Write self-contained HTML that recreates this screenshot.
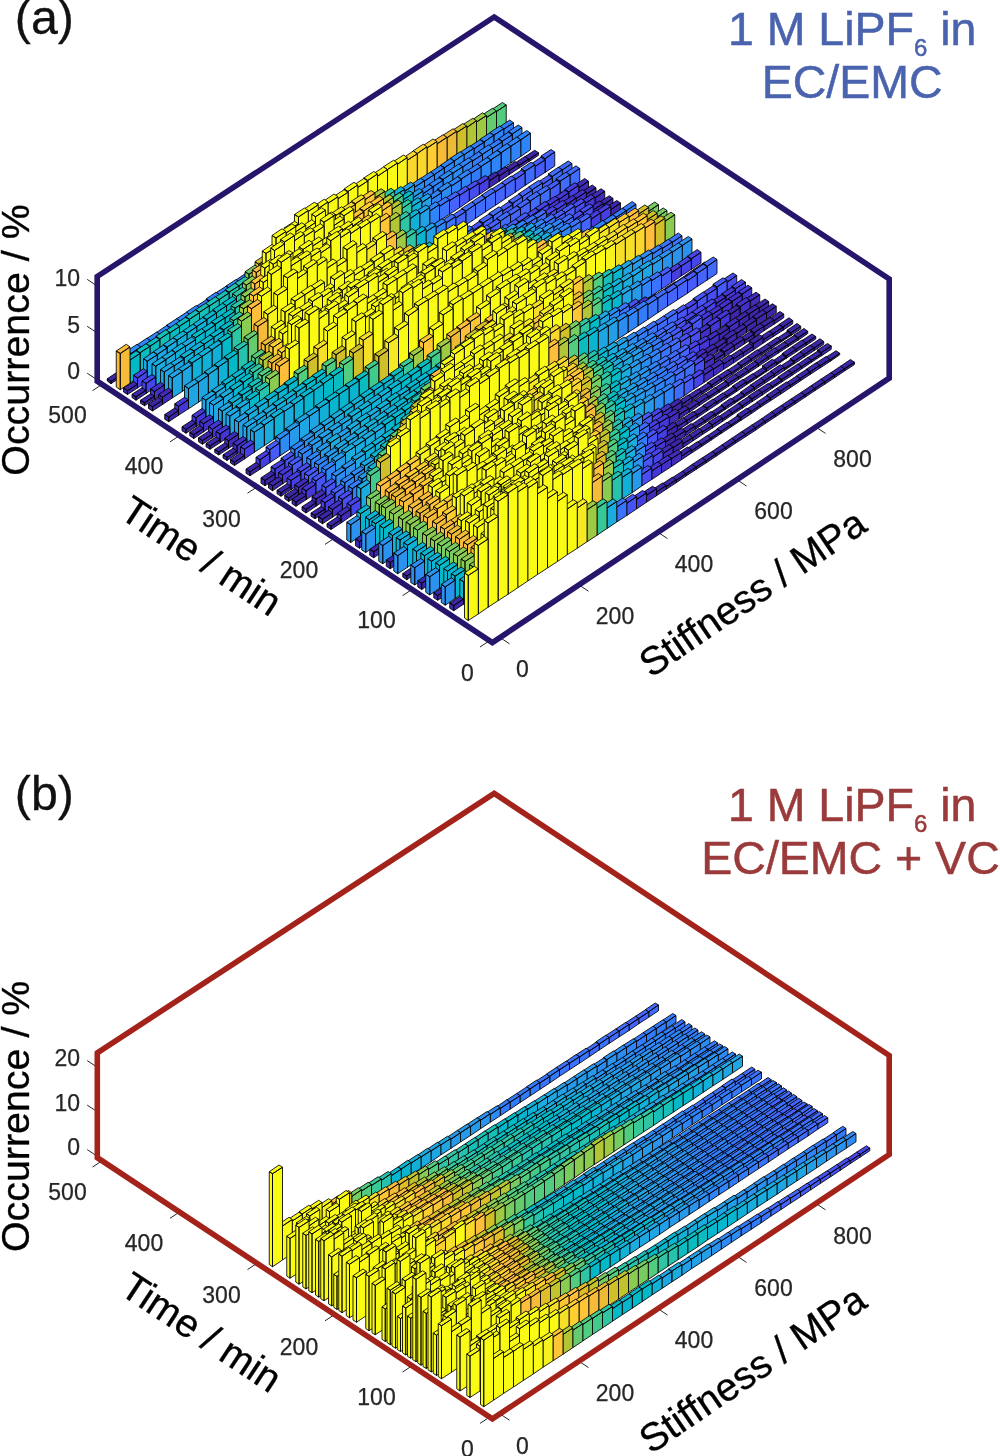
<!DOCTYPE html><html lang="en"><head><meta charset="utf-8"><title>Stiffness histograms</title><style>
html,body{margin:0;padding:0;background:#fff}
body{width:1000px;height:1456px;overflow:hidden;position:relative;font-family:"Liberation Sans",Arial,sans-serif}
svg{position:absolute;left:0;top:0}
text{font-family:"Liberation Sans",Arial,sans-serif}
.tk{font-size:23px;fill:#262626;stroke:#262626;stroke-width:.25px}
.ax{font-size:39.4px;fill:#000;stroke:#000;stroke-width:.35px}
.pl{font-size:48.3px;fill:#111;stroke:#111;stroke-width:.3px}
.ta{font-size:46.5px;fill:#4a63ae;stroke:#4a63ae;stroke-width:.5px}
.tb{font-size:46.5px;fill:#9a3a3a;stroke:#9a3a3a;stroke-width:.5px}
</style></head><body>
<svg width="1000" height="1456" viewBox="0 0 1000 1456">
<g transform="scale(0.25)" stroke="#000" stroke-width="3.4" stroke-linejoin="round">
<path fill="#327cfc" d="M959 1130l-15-10l39-27l16 11z"/>
<path fill="#2f84f9" d="M920 1220l-16-11v-65l16 10zM920 1154l-16-10l40-26l15 10z"/>
<path fill="#2f84f9" d="M880 1182l-16-11l40-26l16 10z"/>
<path fill="#2f84f9" d="M840 1272l-15-10v-67l15 11zM840 1206l-15-11l39-26l16 10z"/>
<path fill="#327cfc" d="M801 1236l-16-11l40-26l15 10z"/>
<path fill="#2f84f9" d="M761 1259l-15-11l39-26l16 10z"/>
<path fill="#2f84f9" d="M722 1286l-16-11l40-26l15 10z"/>
<path fill="#2f84f9" d="M682 1377l-16-10v-66l16 10zM682 1311l-16-10l40-26l16 10z"/>
<path fill="#2f84f9" d="M642 1339l-15-10l39-27l16 11z"/>
<path fill="#2f84f9" d="M603 1365l-16-11l40-26l15 10z"/>
<path fill="#2f84f9" d="M563 1390l-15-11l39-26l16 10z"/>
<path fill="#2d8bf4" d="M524 1482l-16-10v-68l16 10zM524 1482v-68l39-26v68zM524 1414l-16-10l40-27l15 11z"/>
<path fill="#3e26a8" d="M444 1535l-15-11v-9l15 11zM444 1535v-9l40-26v8zM444 1526l-15-11l39-26l16 11z"/>
<path fill="#52cc7e" d="M1986 561v-115l39-26v115zM1986 446l-16-10l40-26l15 10z"/>
<path fill="#64cc6f" d="M1946 587v-117l40-26v117zM1946 470l-16-11l40-26l16 11z"/>
<path fill="#9dc943" d="M1906 614v-126l40-26v125zM1906 488l-15-10l39-27l16 11z"/>
<path fill="#b0c636" d="M1867 640v-130l39-27v131zM1867 510l-16-11l40-26l15 10z"/>
<path fill="#d1bf29" d="M1827 666v-136l40-26v136zM1827 530l-15-10l39-26l16 10z"/>
<path fill="#ecba34" d="M1788 692v-141l39-26v141zM1788 551l-16-10l40-26l15 10z"/>
<path fill="#f7bb3a" d="M1748 719v-143l40-27v143zM1748 576l-16-11l40-26l16 10z"/>
<path fill="#fcce31" d="M1708 745v-153l40-26v153zM1708 592l-15-10l39-26l16 10z"/>
<path fill="#f9d72d" d="M1669 771v-157l39-27v158zM1669 614l-16-11l40-26l15 10z"/>
<path fill="#f9d72d" d="M1629 797v-156l40-26v156zM1629 641l-15-10l39-27l16 11z"/>
<path fill="#f6f21e" d="M1590 824v-167l39-27v167zM1590 657l-16-11l40-26l15 10z"/>
<path fill="#f9fb15" d="M1550 850v-172l40-26v172zM1550 678l-16-11l40-26l16 11z"/>
<path fill="#f9fb15" d="M1510 876v-171l40-27v172zM1510 705l-15-11l39-26l16 10z"/>
<path fill="#f9fb15" d="M1471 902l-16-10v-180l16 10zM1471 902v-180l39-26v180zM1471 722l-16-10l40-26l15 10z"/>
<path fill="#f9fb15" d="M1431 929v-179l40-26v178zM1431 750l-15-10l39-26l16 10z"/>
<path fill="#f9fb15" d="M1392 955l-16-10v-189l16 10zM1392 955v-189l39-26v189zM1392 766l-16-10l40-27l15 11z"/>
<path fill="#f9fb15" d="M1352 981v-186l40-26v186zM1352 795l-16-10l40-26l16 10z"/>
<path fill="#f9fb15" d="M1312 1007v-194l40-26v194zM1312 813l-15-10l39-27l16 11z"/>
<path fill="#f9fb15" d="M1273 1034v-200l39-26v199zM1273 834l-16-11l40-26l15 11z"/>
<path fill="#f9fb15" d="M1233 1060v-214l40-27v215zM1233 846l-15-11l39-26l16 10z"/>
<path fill="#f9fb15" d="M1194 1086l-16-10v-218l16 10zM1194 1086v-218l39-26v218zM1194 868l-16-10l40-26l15 10z"/>
<path fill="#f9fb15" d="M1154 1113l-16-11v-191l16 11zM1154 1113v-191l40-27v191zM1154 922l-16-11l40-26l16 10z"/>
<path fill="#d1bf29" d="M1035 1191l-15-10v-134l15 10zM1035 1191v-134l40-26v134zM1035 1057l-15-10l39-27l16 11z"/>
<path fill="#76cc60" d="M996 1218l-16-11v-120l16 10zM996 1218v-121l39-26v120zM996 1097l-16-10l40-27l15 11z"/>
<path fill="#26c2ad" d="M956 1244v-101l40-27v102zM956 1143l-16-11l40-26l16 10z"/>
<path fill="#26c2ad" d="M916 1270l-15-10v-101l15 10zM916 1270v-101l40-26v101zM916 1169l-15-10l39-26l16 10z"/>
<path fill="#17bfb6" d="M877 1296v-98l39-26v98zM877 1198l-16-10l40-26l15 10z"/>
<path fill="#17bfb6" d="M837 1323v-99l40-26v98zM837 1224l-15-10l39-27l16 11z"/>
<path fill="#17bfb6" d="M798 1349l-16-11v-99l16 10zM798 1349v-100l39-26v100zM798 1249l-16-10l40-26l15 10z"/>
<path fill="#17bfb6" d="M758 1375l-16-10v-98l16 10zM758 1375v-98l40-26v98zM758 1277l-16-10l40-27l16 11z"/>
<path fill="#0abcbf" d="M718 1401v-96l40-26v96zM718 1305l-15-10l39-26l16 10z"/>
<path fill="#0abcbf" d="M679 1428v-96l39-26v95zM679 1332l-16-10l40-27l15 11z"/>
<path fill="#17bfb6" d="M639 1454l-15-11v-98l15 11zM639 1454v-98l40-27v99zM639 1356l-15-11l39-26l16 10z"/>
<path fill="#0abcbf" d="M600 1480v-95l39-26v95zM600 1385l-16-10l40-26l15 10z"/>
<path fill="#0abcbf" d="M560 1506l-16-10v-95l16 10zM560 1506v-95l40-26v95zM560 1411l-16-10l40-26l16 10z"/>
<path fill="#01b9c7" d="M520 1533v-93l40-26v92zM520 1440l-15-10l39-27l16 11z"/>
<path fill="#f7bb3a" d="M481 1559l-16-11v-144l16 10zM481 1559v-145l39-26v145zM481 1414l-16-10l40-27l15 11z"/>
<path fill="#327cfc" d="M2015 581v-64l39-26v63zM2015 517l-16-10l40-27l15 11z"/>
<path fill="#2f84f9" d="M1975 607l-15-11v-66l15 11zM1975 607v-66l40-26v66zM1975 541l-15-11l39-26l16 11z"/>
<path fill="#2f84f9" d="M1936 633l-16-10v-66l16 11zM1936 633v-65l39-27v66zM1936 568l-16-11l40-26l15 10z"/>
<path fill="#327cfc" d="M1896 659v-64l40-26v64zM1896 595l-16-10l40-26l16 10z"/>
<path fill="#2f84f9" d="M1856 686v-67l40-26v66zM1856 619l-15-10l39-26l16 10z"/>
<path fill="#2d8bf4" d="M1817 712l-16-11v-68l16 11zM1817 712v-68l39-27v69zM1817 644l-16-11l40-26l15 10z"/>
<path fill="#2f84f9" d="M1777 738l-15-10v-67l15 10zM1777 738v-67l40-26v67zM1777 671l-15-10l39-27l16 11z"/>
<path fill="#2f84f9" d="M1738 764v-66l39-26v66zM1738 698l-16-10l40-26l15 10z"/>
<path fill="#2f84f9" d="M1698 791v-67l40-26v66zM1698 724l-16-10l40-26l16 10z"/>
<path fill="#2d8bf4" d="M1658 817v-68l40-26v68zM1658 749l-15-10l39-26l16 10z"/>
<path fill="#239fe6" d="M1619 843v-78l39-26v78zM1619 765l-16-10l40-27l15 11z"/>
<path fill="#11b0d7" d="M1579 869v-86l40-26v86zM1579 783l-15-11l39-26l16 11z"/>
<path fill="#2fc5a2" d="M1540 896v-106l39-26v105zM1540 790l-16-11l40-26l15 11z"/>
<path fill="#b0c636" d="M1500 922v-131l40-26v131zM1500 791l-16-10l40-26l16 10z"/>
<path fill="#fec636" d="M1460 948v-149l40-27v150zM1460 799l-15-11l39-26l16 10z"/>
<path fill="#f6df29" d="M1421 974l-16-10v-159l16 10zM1421 974v-159l39-26v159zM1421 815l-16-10l40-26l15 10z"/>
<path fill="#f9d72d" d="M1381 1001v-156l40-27v156zM1381 845l-15-11l39-26l16 10z"/>
<path fill="#f5e924" d="M1342 1027v-164l39-26v164zM1342 863l-16-10l40-26l15 10z"/>
<path fill="#f9fb15" d="M1302 1053v-169l40-26v169zM1302 884l-16-10l40-26l16 10z"/>
<path fill="#f9fb15" d="M1262 1079l-15-10v-212l15 10zM1262 1079v-212l40-26v212zM1262 867l-15-10l39-26l16 10z"/>
<path fill="#f9fb15" d="M1223 1106v-190l39-26v189zM1223 916l-16-11l40-26l15 11z"/>
<path fill="#f9fb15" d="M1183 1132v-205l40-26v205zM1183 927l-15-10l39-26l16 10z"/>
<path fill="#f9fb15" d="M1144 1158v-226l39-26v226zM1144 932l-16-11l40-26l15 11z"/>
<path fill="#f9fb15" d="M1104 1184l-16-10v-232l16 10zM1104 1184v-232l40-26v232zM1104 952l-16-10l40-27l16 11z"/>
<path fill="#f9fb15" d="M1064 1211l-15-11v-196l15 10zM1064 1211v-197l40-26v196zM1064 1014l-15-10l39-26l16 10z"/>
<path fill="#febe3c" d="M1025 1237l-16-10v-147l16 10zM1025 1237v-147l39-26v147zM1025 1090l-16-10l40-26l15 10z"/>
<path fill="#8acb51" d="M985 1263l-15-10v-123l15 11zM985 1263v-122l40-27v123zM985 1141l-15-11l39-26l16 10z"/>
<path fill="#2fc5a2" d="M946 1289l-16-10v-104l16 11zM946 1289v-103l39-27v104zM946 1186l-16-11l40-26l15 10z"/>
<path fill="#01b9c7" d="M906 1316v-93l40-27v93zM906 1223l-16-11l40-26l16 10z"/>
<path fill="#01b9c7" d="M866 1342l-15-10v-93l15 11zM866 1342v-92l40-27v93zM866 1250l-15-11l39-26l16 10z"/>
<path fill="#08b5cf" d="M827 1368l-16-10v-90l16 10zM827 1368v-90l39-26v90zM827 1278l-16-10l40-26l15 10z"/>
<path fill="#11b0d7" d="M787 1394v-88l40-26v88zM787 1306l-15-10l39-26l16 10z"/>
<path fill="#11b0d7" d="M748 1421v-88l39-26v87zM748 1333l-16-10l40-26l15 10z"/>
<path fill="#11b0d7" d="M708 1447l-16-10v-87l16 11zM708 1447v-86l40-27v87zM708 1361l-16-11l40-26l16 10z"/>
<path fill="#1babdd" d="M668 1473l-15-10v-85l15 11zM668 1473v-84l40-27v85zM668 1389l-15-11l39-26l16 10z"/>
<path fill="#1fa5e2" d="M629 1499l-16-10v-82l16 11zM629 1499v-81l39-26v81zM629 1418l-16-11l40-26l15 11z"/>
<path fill="#1fa5e2" d="M589 1526l-15-11v-80l15 10zM589 1526v-81l40-26v80zM589 1445l-15-10l39-27l16 11z"/>
<path fill="#4745e9" d="M550 1552l-16-10v-41l16 11zM550 1552v-40l39-27v41zM550 1512l-16-11l40-26l15 10z"/>
<path fill="#3e26a8" d="M510 1578l-16-10v-16l16 11zM510 1578v-15l40-26v15zM510 1563l-16-11l40-26l16 11z"/>
<path fill="#2f84f9" d="M2049 603l-16-10v-67l16 10zM2049 603v-67l39-26v67zM2049 536l-16-10l40-26l15 10z"/>
<path fill="#327cfc" d="M2009 629l-15-10v-64l15 10zM2009 629v-64l40-26v64zM2009 565l-15-10l39-26l16 10z"/>
<path fill="#327cfc" d="M1970 656v-63l39-26v62zM1970 593l-16-10l40-26l15 10z"/>
<path fill="#2f84f9" d="M1930 682l-16-11v-65l16 11zM1930 682v-65l40-26v65zM1930 617l-16-11l40-26l16 11z"/>
<path fill="#327cfc" d="M1890 708v-64l40-26v64zM1890 644l-15-10l39-27l16 11z"/>
<path fill="#2f84f9" d="M1851 734v-66l39-27v67zM1851 668l-16-11l40-26l15 10z"/>
<path fill="#2d8bf4" d="M1811 761v-68l40-26v67zM1811 693l-15-11l39-26l16 11z"/>
<path fill="#2d8bf4" d="M1772 787l-16-11v-68l16 10zM1772 787v-69l39-26v69zM1772 718l-16-10l40-26l15 10z"/>
<path fill="#2f84f9" d="M1732 813l-16-10v-66l16 10zM1732 813v-66l40-26v66zM1732 747l-16-10l40-26l16 10z"/>
<path fill="#2f84f9" d="M1692 839v-64l40-27v65zM1692 775l-15-11l39-26l16 10z"/>
<path fill="#2799e9" d="M1653 866v-76l39-26v75zM1653 790l-16-10l40-26l15 10z"/>
<path fill="#01b9c7" d="M1613 892v-93l40-26v93zM1613 799l-15-10l39-26l16 10z"/>
<path fill="#42ca8b" d="M1574 918v-110l39-27v111zM1574 808l-16-11l40-26l15 10z"/>
<path fill="#b0c636" d="M1534 944v-128l40-27v129zM1534 816l-16-11l40-26l16 10z"/>
<path fill="#fec636" d="M1494 971v-150l40-26v149zM1494 821l-15-10l39-26l16 10z"/>
<path fill="#fcce31" d="M1455 997l-16-10v-153l16 10zM1455 997v-153l39-26v153zM1455 844l-16-10l40-27l15 11z"/>
<path fill="#fec636" d="M1415 1023v-149l40-26v149zM1415 874l-15-11l39-26l16 11z"/>
<path fill="#f9fb15" d="M1376 1049l-16-10v-186l16 10zM1376 1049v-186l39-26v186zM1376 863l-16-10l40-27l15 11z"/>
<path fill="#f9fb15" d="M1336 1076v-174l40-26v173zM1336 902l-16-10l40-27l16 11z"/>
<path fill="#f9fb15" d="M1296 1102l-15-10v-213l15 10zM1296 1102v-213l40-26v213zM1296 889l-15-10l39-27l16 11z"/>
<path fill="#f9fb15" d="M1257 1128v-196l39-27v197zM1257 932l-16-11l40-26l15 10z"/>
<path fill="#f9fb15" d="M1217 1154v-207l40-26v207zM1217 947l-15-10l39-26l16 10z"/>
<path fill="#f9fb15" d="M1178 1181v-218l39-27v218zM1178 963l-16-11l40-26l15 10z"/>
<path fill="#f9fb15" d="M1138 1207l-16-10v-239l16 10zM1138 1207v-239l40-26v239zM1138 968l-16-10l40-26l16 10z"/>
<path fill="#f9fb15" d="M1098 1233l-15-10v-231l15 10zM1098 1233v-231l40-26v231zM1098 1002l-15-10l39-26l16 10z"/>
<path fill="#f9fb15" d="M1059 1259l-16-10v-187l16 11zM1059 1259v-186l39-26v186zM1059 1073l-16-11l40-26l15 11z"/>
<path fill="#fec636" d="M1019 1286l-15-11v-150l15 11zM1019 1286v-150l40-27v150zM1019 1136l-15-11l39-26l16 10z"/>
<path fill="#8acb51" d="M980 1312l-16-10v-124l16 10zM980 1312v-124l39-26v124zM980 1188l-16-10l40-27l15 11z"/>
<path fill="#2fc5a2" d="M940 1338l-16-10v-105l16 10zM940 1338v-105l40-26v105zM940 1233l-16-10l40-26l16 10z"/>
<path fill="#01b9c7" d="M900 1364v-92l40-27v93zM900 1272l-15-11l39-26l16 10z"/>
<path fill="#01b9c7" d="M861 1391l-16-11v-93l16 10zM861 1391v-94l39-26v93zM861 1297l-16-10l40-26l15 10z"/>
<path fill="#08b5cf" d="M821 1417v-90l40-27v91zM821 1327l-15-11l39-26l16 10z"/>
<path fill="#01b9c7" d="M782 1443l-16-10v-92l16 10zM782 1443v-92l39-26v92zM782 1351l-16-10l40-26l15 10z"/>
<path fill="#1babdd" d="M742 1469v-84l40-26v84zM742 1385l-16-10l40-27l16 11z"/>
<path fill="#11b0d7" d="M702 1496l-15-11v-85l15 10zM702 1496v-86l40-26v85zM702 1410l-15-10l39-27l16 11z"/>
<path fill="#1babdd" d="M663 1522v-84l39-26v84zM663 1438l-16-10l40-26l15 10z"/>
<path fill="#1babdd" d="M623 1548l-15-10v-83l15 10zM623 1548v-83l40-26v83zM623 1465l-15-10l39-26l16 10z"/>
<path fill="#4745e9" d="M584 1574l-16-10v-40l16 10zM584 1574v-40l39-26v40zM584 1534l-16-10l40-26l15 10z"/>
<path fill="#3e26a8" d="M544 1601l-16-11v-13l16 10zM544 1601v-14l40-26v13zM544 1587l-16-10l40-26l16 10z"/>
<path fill="#2f84f9" d="M2083 626v-67l39-26v66zM2083 559l-16-10l40-27l15 11z"/>
<path fill="#2f84f9" d="M2043 652v-67l40-26v67zM2043 585l-15-10l39-27l16 11z"/>
<path fill="#2f84f9" d="M2004 678l-16-10v-67l16 10zM2004 678v-67l39-26v67zM2004 611l-16-10l40-27l15 11z"/>
<path fill="#2f84f9" d="M1964 704v-65l40-26v65zM1964 639l-16-10l40-27l16 11z"/>
<path fill="#2f84f9" d="M1924 731v-65l40-26v64zM1924 666l-15-10l39-26l16 10z"/>
<path fill="#327cfc" d="M1885 757v-64l39-26v64zM1885 693l-16-10l40-27l15 11z"/>
<path fill="#2f84f9" d="M1845 783l-15-10v-67l15 10zM1845 783v-67l40-26v67zM1845 716l-15-10l39-27l16 11z"/>
<path fill="#2f84f9" d="M1806 809v-65l39-26v65zM1806 744l-16-10l40-27l15 11z"/>
<path fill="#2d8bf4" d="M1766 836l-16-11v-69l16 10zM1766 836v-70l40-26v69zM1766 766l-16-10l40-26l16 10z"/>
<path fill="#2f84f9" d="M1726 862v-65l40-26v65zM1726 797l-15-10l39-27l16 11z"/>
<path fill="#239fe6" d="M1687 888v-77l39-27v78zM1687 811l-16-11l40-26l15 10z"/>
<path fill="#11b0d7" d="M1647 914v-87l40-26v87zM1647 827l-15-10l39-26l16 10z"/>
<path fill="#2fc5a2" d="M1608 941v-107l39-26v106zM1608 834l-16-10l40-26l15 10z"/>
<path fill="#b0c636" d="M1568 967v-130l40-26v130zM1568 837l-16-10l40-26l16 10z"/>
<path fill="#fec636" d="M1528 993v-149l40-27v150zM1528 844l-15-11l39-26l16 10z"/>
<path fill="#f9fb15" d="M1489 1019l-16-10v-168l16 10zM1489 1019v-168l39-26v168zM1489 851l-16-10l40-26l15 10z"/>
<path fill="#fec636" d="M1449 896l-15-10l39-26l16 10z"/>
<path fill="#f6f21e" d="M1410 1072v-167l39-26v167zM1410 905l-16-10l40-27l15 11z"/>
<path fill="#f9fb15" d="M1370 1098v-177l40-26v177zM1370 921l-16-10l40-26l16 10z"/>
<path fill="#f9fb15" d="M1330 1124l-15-10v-183l15 11zM1330 1124v-182l40-27v183zM1330 942l-15-11l39-26l16 10z"/>
<path fill="#f9fb15" d="M1291 1151v-171l39-27v171zM1291 980l-16-11l40-26l15 10z"/>
<path fill="#f9fb15" d="M1251 1177v-193l40-26v193zM1251 984l-15-10l39-26l16 10z"/>
<path fill="#f9fb15" d="M1212 1203l-16-10v-205l16 10zM1212 1203v-205l39-26v205zM1212 998l-16-10l40-27l15 11z"/>
<path fill="#f9fb15" d="M1172 1229v-197l40-27v198zM1172 1032l-16-11l40-26l16 10z"/>
<path fill="#f9fb15" d="M1132 1256v-217l40-27v217zM1132 1039l-15-11l39-26l16 10z"/>
<path fill="#f9fb15" d="M1093 1282l-16-10v-225l16 10zM1093 1282v-225l39-26v225zM1093 1057l-16-10l40-27l15 11z"/>
<path fill="#f9fb15" d="M1053 1308l-15-10v-178l15 10zM1053 1308v-178l40-26v178zM1053 1130l-15-10l39-26l16 10z"/>
<path fill="#fec636" d="M1014 1334l-16-10v-150l16 10zM1014 1334v-150l39-26v150zM1014 1184l-16-10l40-27l15 11z"/>
<path fill="#9dc943" d="M974 1361l-16-11v-125l16 10zM974 1361v-126l40-26v125zM974 1235l-16-10l40-26l16 10z"/>
<path fill="#2fc5a2" d="M934 1387l-15-10v-104l15 10zM934 1387v-104l40-26v104zM934 1283l-15-10l39-26l16 10z"/>
<path fill="#01b9c7" d="M895 1413l-16-10v-94l16 10zM895 1413v-94l39-26v94zM895 1319l-16-10l40-26l15 10z"/>
<path fill="#08b5cf" d="M855 1439l-15-10v-90l15 10zM855 1439v-90l40-26v90zM855 1349l-15-10l39-26l16 10z"/>
<path fill="#08b5cf" d="M816 1466l-16-11v-88l16 10zM816 1466v-89l39-26v88zM816 1377l-16-10l40-27l15 11z"/>
<path fill="#11b0d7" d="M776 1492l-16-10v-88l16 10zM776 1492v-88l40-26v88zM776 1404l-16-10l40-27l16 11z"/>
<path fill="#11b0d7" d="M736 1518l-15-10v-86l15 10zM736 1518v-86l40-26v86zM736 1432l-15-10l39-26l16 10z"/>
<path fill="#1fa5e2" d="M697 1545v-82l39-26v81zM697 1463l-16-10l40-26l15 10z"/>
<path fill="#1fa5e2" d="M657 1571l-15-11v-82l15 10zM657 1571v-83l40-26v83zM657 1488l-15-10l39-26l16 10z"/>
<path fill="#4331c7" d="M618 1597l-16-10v-31l16 10zM618 1597v-31l39-26v31zM618 1566l-16-10l40-27l15 11z"/>
<path fill="#3e26a8" d="M578 1623l-16-10v-12l16 10zM578 1623v-12l40-26v12zM578 1611l-16-10l40-26l16 10z"/>
<path fill="#3e26a8" d="M2115 647v-9l39-27v10zM2115 638l-16-11l40-26l15 10z"/>
<path fill="#3e26a8" d="M2075 673v-11l40-26v11zM2075 662l-15-10l39-26l16 10z"/>
<path fill="#3e26a8" d="M2036 699v-16l39-26v16zM2036 683l-16-10l40-27l15 11z"/>
<path fill="#3e26a8" d="M1996 726v-21l40-27v21zM1996 705l-16-11l40-26l16 10z"/>
<path fill="#3e26a8" d="M1956 752v-28l40-26v28zM1956 724l-15-10l39-26l16 10z"/>
<path fill="#463ee0" d="M1917 778v-39l39-27v40zM1917 739l-16-11l40-26l15 10z"/>
<path fill="#484df0" d="M1877 804v-45l40-26v45zM1877 759l-15-10l39-26l16 10z"/>
<path fill="#4754f5" d="M1838 831v-49l39-26v48zM1838 782l-16-10l40-27l15 11z"/>
<path fill="#4464fd" d="M1798 857v-54l40-26v54zM1798 803l-16-10l40-26l16 10z"/>
<path fill="#3a74fe" d="M1758 883v-58l40-26v58zM1758 825l-15-10l39-27l16 11z"/>
<path fill="#2f84f9" d="M1719 909v-65l39-26v65zM1719 844l-16-10l40-27l15 11z"/>
<path fill="#239fe6" d="M1679 936v-79l40-27v79zM1679 857l-15-11l39-26l16 10z"/>
<path fill="#11b0d7" d="M1640 962v-87l39-27v88zM1640 875l-16-11l40-26l15 10z"/>
<path fill="#2fc5a2" d="M1600 988v-105l40-26v105zM1600 883l-16-10l40-27l16 11z"/>
<path fill="#b0c636" d="M1560 1014v-128l40-26v128zM1560 886l-15-10l39-27l16 11z"/>
<path fill="#fec636" d="M1521 1041v-151l39-26v150zM1521 890l-16-10l40-27l15 11z"/>
<path fill="#f9fb15" d="M1481 1067v-176l40-26v176zM1481 891l-15-10l39-27l16 11z"/>
<path fill="#f9fb15" d="M1442 1093v-179l39-26v179zM1442 914l-16-10l40-26l15 10z"/>
<path fill="#f9fb15" d="M1402 1119v-184l40-27v185zM1402 935l-16-11l40-26l16 10z"/>
<path fill="#f9fb15" d="M1362 1146v-195l40-26v194zM1362 951l-15-10l39-26l16 10z"/>
<path fill="#f9fb15" d="M1323 1172l-16-10v-210l16 11zM1323 1172v-209l39-27v210zM1323 963l-16-11l40-26l15 10z"/>
<path fill="#f9fb15" d="M1283 1198v-186l40-27v187zM1283 1012l-15-11l39-26l16 10z"/>
<path fill="#f9fb15" d="M1244 1224v-196l39-26v196zM1244 1028l-16-10l40-26l15 10z"/>
<path fill="#f9fb15" d="M1204 1251v-212l40-26v211zM1204 1039l-16-10l40-26l16 10z"/>
<path fill="#f9fb15" d="M1164 1277v-213l40-26v213zM1164 1064l-15-11l39-26l16 11z"/>
<path fill="#f9fb15" d="M1125 1303l-16-10v-254l16 10zM1125 1303v-254l39-26v254zM1125 1049l-16-10l40-27l15 11z"/>
<path fill="#f9fb15" d="M1085 1329l-15-10v-231l15 10zM1085 1329v-231l40-26v231zM1085 1098l-15-10l39-26l16 10z"/>
<path fill="#f9fb15" d="M1046 1356l-16-11v-170l16 10zM1046 1356v-171l39-26v170zM1046 1185l-16-10l40-27l15 11z"/>
<path fill="#febe3c" d="M1006 1382l-16-10v-148l16 11zM1006 1382v-147l40-27v148zM1006 1235l-16-11l40-26l16 10z"/>
<path fill="#8acb51" d="M966 1408l-15-10v-124l15 11zM966 1408v-123l40-27v124zM966 1285l-15-11l39-26l16 10z"/>
<path fill="#2fc5a2" d="M927 1434l-16-10v-104l16 11zM927 1434v-103l39-27v104zM927 1331l-16-11l40-26l15 10z"/>
<path fill="#01b9c7" d="M887 1461l-15-11v-92l15 10zM887 1461v-93l40-26v92zM887 1368l-15-10l39-26l16 10z"/>
<path fill="#11b0d7" d="M848 1487v-88l39-27v89zM848 1399l-16-11l40-26l15 10z"/>
<path fill="#11b0d7" d="M808 1513v-87l40-27v88zM808 1426l-16-11l40-26l16 10z"/>
<path fill="#11b0d7" d="M768 1539l-15-10v-87l15 10zM768 1539v-87l40-26v87zM768 1452l-15-10l39-27l16 11z"/>
<path fill="#1fa5e2" d="M729 1566v-81l39-26v80zM729 1485l-16-10l40-26l15 10z"/>
<path fill="#1fa5e2" d="M689 1592l-15-10v-80l15 10zM689 1592v-80l40-26v80zM689 1512l-15-10l39-27l16 11z"/>
<path fill="#402cb8" d="M650 1618l-16-10v-30l16 11zM650 1618v-29l39-26v29zM650 1589l-16-11l40-26l15 11z"/>
<path fill="#3e26a8" d="M610 1644l-16-10v-17l16 10zM610 1644v-17l40-26v17zM610 1627l-16-10l40-27l16 11z"/>
<path fill="#4464fd" d="M2180 690l-16-11v-55l16 11zM2180 690v-55l39-27v56zM2180 635l-16-11l40-26l15 10z"/>
<path fill="#465cfa" d="M2140 716v-50l40-26v50zM2140 666l-16-10l40-27l16 11z"/>
<path fill="#406cfe" d="M2100 742l-15-10v-57l15 10zM2100 742v-57l40-26v57zM2100 685l-15-10l39-26l16 10z"/>
<path fill="#465cfa" d="M2061 769v-51l39-27v51zM2061 718l-16-11l40-26l15 10z"/>
<path fill="#4464fd" d="M2021 795v-55l40-26v55zM2021 740l-15-10l39-26l16 10z"/>
<path fill="#4464fd" d="M1982 821v-54l39-26v54zM1982 767l-16-10l40-26l15 10z"/>
<path fill="#406cfe" d="M1942 847l-16-10v-56l16 10zM1942 847v-56l40-26v56zM1942 791l-16-10l40-27l16 11z"/>
<path fill="#406cfe" d="M1902 874v-56l40-26v55zM1902 818l-15-10l39-26l16 10z"/>
<path fill="#406cfe" d="M1863 900l-16-11v-55l16 10zM1863 900v-56l39-26v56zM1863 844l-16-10l40-26l15 10z"/>
<path fill="#4464fd" d="M1823 926v-54l40-26v54zM1823 872l-15-10l39-26l16 10z"/>
<path fill="#3a74fe" d="M1784 952v-60l39-26v60zM1784 892l-16-10l40-26l15 10z"/>
<path fill="#2f84f9" d="M1744 979v-68l40-26v67zM1744 911l-16-10l40-26l16 10z"/>
<path fill="#239fe6" d="M1704 1005v-78l40-26v78zM1704 927l-15-10l39-26l16 10z"/>
<path fill="#08b5cf" d="M1665 1031v-89l39-26v89zM1665 942l-16-10l40-27l15 11z"/>
<path fill="#2fc5a2" d="M1625 1057v-105l40-26v105zM1625 952l-15-10l39-27l16 11z"/>
<path fill="#9dc943" d="M1586 1084v-128l39-26v127zM1586 956l-16-10l40-27l15 11z"/>
<path fill="#febe3c" d="M1546 1110v-149l40-26v149zM1546 961l-16-10l40-27l16 11z"/>
<path fill="#f9fb15" d="M1506 1136l-15-10v-174l15 10zM1506 1136v-174l40-26v174zM1506 962l-15-10l39-26l16 10z"/>
<path fill="#f5e924" d="M1467 1162v-163l39-26v163zM1467 999l-16-10l40-26l15 10z"/>
<path fill="#f9fb15" d="M1427 1189v-178l40-26v177zM1427 1011l-15-10l39-27l16 11z"/>
<path fill="#f9fb15" d="M1388 1215l-16-10v-216l16 10zM1388 1215v-216l39-26v216zM1388 999l-16-10l40-27l15 11z"/>
<path fill="#f9fb15" d="M1348 1241v-175l40-26v175zM1348 1066l-16-10l40-26l16 10z"/>
<path fill="#f9fb15" d="M1308 1267v-194l40-26v194zM1308 1073l-15-10l39-27l16 11z"/>
<path fill="#f9fb15" d="M1269 1294v-231l39-26v230zM1269 1063l-16-10l40-26l15 10z"/>
<path fill="#f9fb15" d="M1229 1320l-15-10v-246l15 11zM1229 1320v-245l40-27v246zM1229 1075l-15-11l39-26l16 10z"/>
<path fill="#f9fb15" d="M1190 1346v-232l39-26v232zM1190 1114l-16-10l40-26l15 10z"/>
<path fill="#f9fb15" d="M1150 1372l-16-10v-260l16 10zM1150 1372v-260l40-26v260zM1150 1112l-16-10l40-26l16 10z"/>
<path fill="#f9fb15" d="M1110 1399l-15-11v-217l15 10zM1110 1399v-218l40-26v217zM1110 1181l-15-10l39-27l16 11z"/>
<path fill="#f6f21e" d="M1071 1425l-16-10v-168l16 11zM1071 1425v-167l39-27v168zM1071 1258l-16-11l40-26l15 10z"/>
<path fill="#f7bb3a" d="M1031 1451l-15-10v-145l15 10zM1031 1451v-145l40-26v145zM1031 1306l-15-10l39-26l16 10z"/>
<path fill="#64cc6f" d="M992 1477l-16-10v-119l16 11zM992 1477v-118l39-27v119zM992 1359l-16-11l40-26l15 10z"/>
<path fill="#26c2ad" d="M952 1504l-16-11v-103l16 11zM952 1504v-103l40-27v103zM952 1401l-16-11l40-26l16 10z"/>
<path fill="#01b9c7" d="M912 1530l-15-10v-93l15 11zM912 1530v-92l40-27v93zM912 1438l-15-11l39-26l16 10z"/>
<path fill="#11b0d7" d="M873 1556l-16-10v-88l16 10zM873 1556v-88l39-26v88zM873 1468l-16-10l40-27l15 11z"/>
<path fill="#1babdd" d="M833 1582l-15-10v-85l15 11zM833 1582v-84l40-27v85zM833 1498l-15-11l39-26l16 10z"/>
<path fill="#1fa5e2" d="M794 1609v-81l39-27v81zM794 1528l-16-11l40-26l15 10z"/>
<path fill="#1fa5e2" d="M754 1635l-16-10v-82l16 11zM754 1635v-81l40-26v81zM754 1554l-16-11l40-26l16 11z"/>
<path fill="#4537d5" d="M714 1661l-15-10v-36l15 10zM714 1661v-36l40-26v36zM714 1625l-15-10l39-26l16 10z"/>
<path fill="#3e26a8" d="M675 1687l-16-10v-19l16 11zM675 1687v-18l39-27v19zM675 1669l-16-11l40-26l15 10z"/>
<path fill="#406cfe" d="M2249 736v-56l39-26v55zM2249 680l-16-10l40-26l15 10z"/>
<path fill="#406cfe" d="M2209 762l-15-10v-57l15 11zM2209 762v-56l40-27v57zM2209 706l-15-11l39-26l16 10z"/>
<path fill="#465cfa" d="M2170 788v-50l39-27v51zM2170 738l-16-11l40-26l15 10z"/>
<path fill="#406cfe" d="M2130 814v-56l40-26v56zM2130 758l-16-10l40-26l16 10z"/>
<path fill="#4464fd" d="M2090 841l-15-11v-55l15 11zM2090 841v-55l40-26v54zM2090 786l-15-11l39-26l16 11z"/>
<path fill="#4464fd" d="M2051 867l-16-10v-54l16 10zM2051 867v-54l39-26v54zM2051 813l-16-10l40-26l15 10z"/>
<path fill="#465cfa" d="M2011 893v-49l40-26v49zM2011 844l-15-10l39-27l16 11z"/>
<path fill="#406cfe" d="M1972 919l-16-10v-56l16 11zM1972 919v-55l39-26v55zM1972 864l-16-11l40-26l15 11z"/>
<path fill="#4464fd" d="M1932 946l-16-11v-53l16 10zM1932 946v-54l40-26v53zM1932 892l-16-10l40-26l16 10z"/>
<path fill="#4754f5" d="M1892 972v-49l40-26v49zM1892 923l-15-10l39-27l16 11z"/>
<path fill="#3a74fe" d="M1853 998v-59l39-26v59zM1853 939l-16-10l40-26l15 10z"/>
<path fill="#1babdd" d="M1734 992l-16-10l40-26l16 10z"/>
<path fill="#17bfb6" d="M1694 1005l-15-10l39-27l16 11z"/>
<path fill="#64cc6f" d="M1655 1013l-16-10l40-27l15 11z"/>
<path fill="#e0bc2a" d="M1615 1156v-140l40-26v139zM1615 1016l-15-10l39-27l16 11z"/>
<path fill="#f6df29" d="M1576 1182v-159l39-26v159zM1576 1023l-16-10l40-27l15 11z"/>
<path fill="#f9fb15" d="M1536 1208l-16-10v-190l16 10zM1536 1208v-190l40-26v190zM1536 1018l-16-10l40-27l16 11z"/>
<path fill="#f9fb15" d="M1496 1234l-15-10v-187l15 10zM1496 1234v-187l40-26v187zM1496 1047l-15-10l39-26l16 10z"/>
<path fill="#f9fb15" d="M1457 1261v-181l39-27v181zM1457 1080l-16-11l40-26l15 10z"/>
<path fill="#f9fb15" d="M1417 1287v-185l40-26v185zM1417 1102l-15-10l39-27l16 11z"/>
<path fill="#f9fb15" d="M1378 1313v-198l39-26v198zM1378 1115l-16-11l40-26l15 11z"/>
<path fill="#f9fb15" d="M1338 1340l-16-11v-221l16 11zM1338 1340v-221l40-27v221zM1338 1119l-16-11l40-26l16 10z"/>
<path fill="#f9fb15" d="M1298 1366v-195l40-26v195zM1298 1171l-15-10l39-27l16 11z"/>
<path fill="#f9fb15" d="M1259 1392v-237l39-26v237zM1259 1155l-16-10l40-26l15 10z"/>
<path fill="#f9fb15" d="M1219 1418v-239l40-26v239zM1219 1179l-15-11l39-26l16 11z"/>
<path fill="#f9fb15" d="M1180 1445l-16-11v-239l16 10zM1180 1445v-240l39-26v239zM1180 1205l-16-10l40-26l15 10z"/>
<path fill="#f9fb15" d="M1140 1471l-16-11v-222l16 11zM1140 1471v-222l40-27v223zM1140 1249l-16-11l40-26l16 10z"/>
<path fill="#f9fb15" d="M1100 1497l-15-10v-180l15 11zM1100 1497v-179l40-27v180zM1100 1318l-15-11l39-26l16 10z"/>
<path fill="#ecba34" d="M1061 1523l-16-10v-142l16 10zM1061 1523v-142l39-26v142zM1061 1381l-16-10l40-27l15 11z"/>
<path fill="#52cc7e" d="M1021 1550l-15-11v-115l15 10zM1021 1550v-116l40-26v115zM1021 1434l-15-10l39-27l16 11z"/>
<path fill="#0abcbf" d="M982 1576l-16-11v-97l16 10zM982 1576v-98l39-26v98zM982 1478l-16-10l40-26l15 10z"/>
<path fill="#08b5cf" d="M942 1602v-91l40-26v91zM942 1511l-16-10l40-27l16 11z"/>
<path fill="#08b5cf" d="M902 1628l-15-10v-90l15 10zM902 1628v-90l40-26v90zM902 1538l-15-10l39-26l16 10z"/>
<path fill="#1babdd" d="M863 1655l-16-11v-83l16 10zM863 1655v-84l39-26v83zM863 1571l-16-10l40-26l15 10z"/>
<path fill="#1fa5e2" d="M823 1681l-15-11v-80l15 11zM823 1681v-80l40-27v81zM823 1601l-15-11l39-26l16 10z"/>
<path fill="#4537d5" d="M784 1707l-16-10v-36l16 10zM784 1707v-36l39-26v36zM784 1671l-16-10l40-27l15 11z"/>
<path fill="#3e26a8" d="M744 1733l-16-10v-16l16 11zM744 1733v-15l40-27v16zM744 1718l-16-11l40-26l16 10z"/>
<path fill="#406cfe" d="M2280 756v-56l39-26v56zM2280 700l-16-10l40-27l15 11z"/>
<path fill="#406cfe" d="M2240 782l-16-10v-57l16 10zM2240 782v-57l40-26v57zM2240 725l-16-10l40-26l16 10z"/>
<path fill="#465cfa" d="M2200 809v-51l40-27v51zM2200 758l-15-11l39-26l16 10z"/>
<path fill="#406cfe" d="M2161 835v-55l39-27v56zM2161 780l-16-11l40-26l15 10z"/>
<path fill="#406cfe" d="M2121 861l-15-10v-58l15 11zM2121 861v-57l40-27v58zM2121 804l-15-11l39-26l16 10z"/>
<path fill="#4464fd" d="M2082 887l-16-10v-55l16 10zM2082 887v-55l39-26v55zM2082 832l-16-10l40-26l15 10z"/>
<path fill="#4464fd" d="M2042 914v-54l40-26v53zM2042 860l-16-10l40-26l16 10z"/>
<path fill="#406cfe" d="M2002 940l-15-10v-57l15 11zM2002 940v-56l40-27v57zM2002 884l-15-11l39-26l16 10z"/>
<path fill="#4464fd" d="M1963 966v-53l39-26v53zM1963 913l-16-10l40-27l15 11z"/>
<path fill="#406cfe" d="M1923 992v-56l40-26v56zM1923 936l-15-10l39-26l16 10z"/>
<path fill="#b0c636" d="M1686 1021l-16-11l40-26l15 10z"/>
<path fill="#f5e924" d="M1606 1040l-15-10l39-26l16 10z"/>
<path fill="#f9fb15" d="M1567 1229v-180l39-27v180zM1567 1049l-16-11l40-26l15 10z"/>
<path fill="#f9fb15" d="M1527 1255l-15-10v-183l15 11zM1527 1255v-182l40-27v183zM1527 1073l-15-11l39-26l16 10z"/>
<path fill="#f9fb15" d="M1488 1281l-16-10v-181l16 10zM1488 1281v-181l39-26v181zM1488 1100l-16-10l40-26l15 10z"/>
<path fill="#f9fb15" d="M1448 1133l-16-11l40-26l16 10z"/>
<path fill="#f9fb15" d="M1369 1360l-16-10v-199l16 10zM1369 1360v-199l39-26v199zM1369 1161l-16-10l40-27l15 11z"/>
<path fill="#f9fb15" d="M1329 1386v-194l40-26v194zM1329 1192l-15-10l39-27l16 11z"/>
<path fill="#f9fb15" d="M1290 1412v-223l39-27v224zM1290 1189l-16-11l40-26l15 10z"/>
<path fill="#f9fb15" d="M1250 1439l-16-11v-232l16 10zM1250 1439v-233l40-26v232zM1250 1206l-16-10l40-26l16 10z"/>
<path fill="#f9fb15" d="M1210 1465v-222l40-26v222zM1210 1243l-15-10l39-27l16 11z"/>
<path fill="#f9fb15" d="M1171 1491l-16-10v-226l16 10zM1171 1491v-226l39-26v226zM1171 1265l-16-10l40-26l15 10z"/>
<path fill="#f9fb15" d="M1131 1517l-15-10v-182l15 11zM1131 1517v-181l40-27v182zM1131 1336l-15-11l39-26l16 10z"/>
<path fill="#fcce31" d="M1092 1544l-16-11v-153l16 10zM1092 1544v-154l39-26v153zM1092 1390l-16-10l40-27l15 11z"/>
<path fill="#b0c636" d="M1052 1570l-16-10v-129l16 11zM1052 1570v-128l40-26v128zM1052 1442l-16-11l40-26l16 11z"/>
<path fill="#2fc5a2" d="M1012 1596l-15-10v-106l15 11zM1012 1596v-105l40-27v106zM1012 1491l-15-11l39-26l16 10z"/>
<path fill="#01b9c7" d="M973 1622l-16-10v-93l16 10zM973 1622v-93l39-26v93zM973 1529l-16-10l40-27l15 11z"/>
<path fill="#08b5cf" d="M933 1649l-15-11v-89l15 11zM933 1649v-89l40-27v89zM933 1560l-15-11l39-26l16 10z"/>
<path fill="#1babdd" d="M894 1675l-16-10v-85l16 10zM894 1675v-85l39-26v85zM894 1590l-16-10l40-27l15 11z"/>
<path fill="#1fa5e2" d="M854 1701l-16-10v-81l16 11zM854 1701v-80l40-26v80zM854 1621l-16-11l40-26l16 11z"/>
<path fill="#4331c7" d="M814 1728l-15-11v-32l15 10zM814 1728v-33l40-26v32zM814 1695l-15-10l39-26l16 10z"/>
<path fill="#3e26a8" d="M775 1754l-16-11v-14l16 10zM775 1754v-15l39-26v15zM775 1739l-16-10l40-27l15 11z"/>
<path fill="#402cb8" d="M2315 779v-28l39-26v28zM2315 751l-16-11l40-26l15 11z"/>
<path fill="#463ee0" d="M2275 806l-15-11v-38l15 11zM2275 806v-38l40-27v38zM2275 768l-15-11l39-26l16 10z"/>
<path fill="#4537d5" d="M2236 832v-34l39-27v35zM2236 798l-16-11l40-26l15 10z"/>
<path fill="#4537d5" d="M2196 858v-36l40-27v37zM2196 822l-16-11l40-26l16 10z"/>
<path fill="#4745e9" d="M2156 884l-15-10v-42l15 10zM2156 884v-42l40-26v42zM2156 842l-15-10l39-26l16 10z"/>
<path fill="#4745e9" d="M2117 911v-42l39-26v41zM2117 869l-16-10l40-26l15 10z"/>
<path fill="#465cfa" d="M2077 937v-50l40-27v51zM2077 887l-15-11l39-26l16 10z"/>
<path fill="#465cfa" d="M2038 963v-49l39-26v49zM2038 914l-16-11l40-26l15 11z"/>
<path fill="#406cfe" d="M1998 934l-16-10l40-27l16 11z"/>
<path fill="#3a74fe" d="M1958 955l-15-11l39-26l16 10z"/>
<path fill="#f9fb15" d="M1642 1226l-16-11v-196l16 10zM1642 1029l-16-10l40-27l15 11z"/>
<path fill="#f9fb15" d="M1523 1110l-16-11l40-26l15 10z"/>
<path fill="#f9fb15" d="M1483 1331l-15-11v-220l15 10zM1483 1331v-221l40-26v221zM1483 1110l-15-10l39-27l16 11z"/>
<path fill="#f9fb15" d="M1404 1383l-16-10v-231l16 10zM1404 1383v-231l40-26v231zM1404 1152l-16-10l40-26l16 10z"/>
<path fill="#f9fb15" d="M1364 1217l-15-11l39-26l16 10z"/>
<path fill="#f9fb15" d="M1325 1436l-16-11v-229l16 10zM1325 1436v-230l39-26v230zM1325 1206l-16-10l40-27l15 11z"/>
<path fill="#f9fb15" d="M1285 1254l-15-10l39-26l16 10z"/>
<path fill="#f9fb15" d="M1246 1488v-222l39-26v222zM1246 1266l-16-10l40-26l15 10z"/>
<path fill="#f9fb15" d="M1166 1541l-15-11v-241l15 10zM1166 1541v-242l40-26v242zM1166 1299l-15-10l39-27l16 11z"/>
<path fill="#f9d72d" d="M1127 1567l-16-10v-157l16 11zM1127 1567v-156l39-27v157zM1127 1411l-16-11l40-26l15 10z"/>
<path fill="#ecba34" d="M1087 1593l-15-10v-141l15 11zM1087 1593v-140l40-27v141zM1087 1453l-15-11l39-26l16 10z"/>
<path fill="#52cc7e" d="M1048 1620l-16-11v-115l16 10zM1048 1620v-116l39-26v115zM1048 1504l-16-10l40-26l15 10z"/>
<path fill="#17bfb6" d="M1008 1646l-16-11v-98l16 10zM1008 1646v-99l40-26v99zM1008 1547l-16-10l40-26l16 10z"/>
<path fill="#08b5cf" d="M968 1672l-15-10v-91l15 10zM968 1672v-91l40-26v91zM968 1581l-15-10l39-26l16 10z"/>
<path fill="#11b0d7" d="M929 1698l-16-10v-86l16 11zM929 1698v-85l39-27v86zM929 1613l-16-11l40-26l15 10z"/>
<path fill="#1fa5e2" d="M889 1725l-15-11v-79l15 10zM889 1725v-80l40-26v79zM889 1645l-15-10l39-26l16 10z"/>
<path fill="#4537d5" d="M850 1751l-16-10v-35l16 11zM850 1751v-34l39-26v34zM850 1717l-16-11l40-26l15 11z"/>
<path fill="#3e26a8" d="M810 1777l-16-10v-16l16 11zM810 1777v-15l40-26v15zM810 1762l-16-11l40-26l16 11z"/>
<path fill="#3e26a8" d="M2345 799v-22l39-26v22zM2345 777l-16-11l40-26l15 11z"/>
<path fill="#4331c7" d="M2305 826v-32l40-26v31zM2305 794l-15-10l39-26l16 10z"/>
<path fill="#4331c7" d="M2266 852v-34l39-26v34zM2266 818l-16-10l40-26l15 10z"/>
<path fill="#463ee0" d="M2226 878v-39l40-27v40zM2226 839l-16-11l40-26l16 10z"/>
<path fill="#4745e9" d="M2186 904v-42l40-27v43zM2186 862l-15-11l39-26l16 10z"/>
<path fill="#406cfe" d="M2147 931v-57l39-26v56zM2147 874l-16-10l40-27l15 11z"/>
<path fill="#3a74fe" d="M2107 957v-61l40-26v61zM2107 896l-15-10l39-26l16 10z"/>
<path fill="#2f84f9" d="M2068 983v-66l39-26v66zM2068 917l-16-10l40-26l15 10z"/>
<path fill="#239fe6" d="M2028 1009v-77l40-26v77zM2028 932l-16-10l40-26l16 10z"/>
<path fill="#08b5cf" d="M1988 1036v-89l40-27v89zM1988 947l-15-11l39-26l16 10z"/>
<path fill="#2fc5a2" d="M1949 956l-16-10l40-26l15 10z"/>
<path fill="#9dc943" d="M1909 1088v-128l40-26v128zM1909 960l-15-10l39-26l16 10z"/>
<path fill="#f9fb15" d="M1830 1141v-219l40-26v218zM1830 922l-16-10l40-27l16 11z"/>
<path fill="#f9fb15" d="M1790 1167v-232l40-26v232zM1790 935l-15-10l39-26l16 10z"/>
<path fill="#f9fb15" d="M1751 1193l-16-10v-238l16 10zM1751 1193v-238l39-26v238zM1751 955l-16-10l40-27l15 11z"/>
<path fill="#f9fb15" d="M1711 1219v-207l40-26v207zM1711 1012l-15-10l39-27l16 11z"/>
<path fill="#f9fb15" d="M1672 1246l-16-11v-236l16 11zM1672 1246v-236l39-27v236zM1672 1010l-16-11l40-26l15 10z"/>
<path fill="#f9fb15" d="M1632 1272v-223l40-26v223zM1632 1049l-16-10l40-27l16 11z"/>
<path fill="#f9fb15" d="M1592 1298l-15-10v-244l15 10zM1592 1298v-244l40-26v244zM1592 1054l-15-10l39-26l16 10z"/>
<path fill="#f9fb15" d="M1553 1324l-16-10v-224l16 11zM1553 1324v-223l39-27v224zM1553 1101l-16-11l40-26l15 10z"/>
<path fill="#f9fb15" d="M1513 1351v-221l40-26v220zM1513 1130l-15-10l39-26l16 10z"/>
<path fill="#f9fb15" d="M1474 1377v-249l39-26v249zM1474 1128l-16-10l40-26l15 10z"/>
<path fill="#f9fb15" d="M1434 1403l-16-10v-250l16 10zM1434 1403v-250l40-26v250zM1434 1153l-16-10l40-26l16 10z"/>
<path fill="#f9fb15" d="M1394 1429l-15-10v-242l15 11zM1394 1429v-241l40-27v242zM1394 1188l-15-11l39-26l16 10z"/>
<path fill="#f9fb15" d="M1355 1456v-219l39-26v218zM1355 1237l-16-10l40-27l15 11z"/>
<path fill="#f9fb15" d="M1315 1482l-15-10v-242l15 10zM1315 1482v-242l40-26v242zM1315 1240l-15-10l39-27l16 11z"/>
<path fill="#f9fb15" d="M1276 1508v-232l39-27v233zM1276 1276l-16-11l40-26l15 10z"/>
<path fill="#f9fb15" d="M1236 1534l-16-10v-275l16 11zM1236 1534v-274l40-27v275zM1236 1260l-16-11l40-26l16 10z"/>
<path fill="#f9fb15" d="M1196 1561l-15-11v-248l15 11zM1196 1561v-248l40-26v247zM1196 1313l-15-11l39-26l16 11z"/>
<path fill="#f9fb15" d="M1157 1587l-16-10v-191l16 10zM1157 1587v-191l39-26v191zM1157 1396l-16-10l40-26l15 10z"/>
<path fill="#febe3c" d="M1117 1613l-15-10v-148l15 11zM1117 1613v-147l40-27v148zM1117 1466l-15-11l39-26l16 10z"/>
<path fill="#8acb51" d="M1078 1639l-16-10v-122l16 10zM1078 1639v-122l39-26v122zM1078 1517l-16-10l40-27l15 11z"/>
<path fill="#26c2ad" d="M1038 1666l-16-11v-102l16 11zM1038 1666v-102l40-27v102zM1038 1564l-16-11l40-26l16 10z"/>
<path fill="#01b9c7" d="M998 1692l-15-10v-93l15 11zM998 1692v-92l40-27v93zM998 1600l-15-11l39-26l16 10z"/>
<path fill="#1babdd" d="M959 1718l-16-10v-85l16 10zM959 1718v-85l39-26v85zM959 1633l-16-10l40-26l15 10z"/>
<path fill="#1fa5e2" d="M919 1744l-15-10v-80l15 11zM919 1744v-79l40-27v80zM919 1665l-15-11l39-26l16 10z"/>
<path fill="#4537d5" d="M880 1771l-16-11v-34l16 10zM880 1771v-35l39-26v34zM880 1736l-16-10l40-26l15 10z"/>
<path fill="#3e26a8" d="M840 1797l-16-10v-13l16 10zM840 1797v-13l40-26v13zM840 1784l-16-10l40-26l16 10z"/>
<path fill="#402cb8" d="M2380 822v-30l39-27v31zM2380 792l-16-11l40-26l15 10z"/>
<path fill="#4537d5" d="M2340 849v-35l40-26v34zM2340 814l-16-10l40-26l16 10z"/>
<path fill="#484df0" d="M2300 875v-44l40-26v44zM2300 831l-15-10l39-27l16 11z"/>
<path fill="#465cfa" d="M2261 901v-50l39-27v51zM2261 851l-16-11l40-26l15 10z"/>
<path fill="#465cfa" d="M2221 927v-51l40-26v51zM2221 876l-15-10l39-26l16 10z"/>
<path fill="#3a74fe" d="M2182 954v-61l39-26v60zM2182 893l-16-10l40-27l15 11z"/>
<path fill="#2f84f9" d="M2142 980v-67l40-26v67zM2142 913l-16-10l40-27l16 11z"/>
<path fill="#239fe6" d="M2102 1006v-78l40-26v78zM2102 928l-15-10l39-27l16 11z"/>
<path fill="#08b5cf" d="M2063 1032v-89l39-27v90zM2063 943l-16-11l40-26l15 10z"/>
<path fill="#38c897" d="M2023 1059v-108l40-26v107zM2023 951l-15-10l39-27l16 11z"/>
<path fill="#b0c636" d="M1984 1085v-129l39-26v129zM1984 956l-16-10l40-26l15 10z"/>
<path fill="#fec636" d="M1944 1111v-151l40-26v151zM1944 960l-16-10l40-26l16 10z"/>
<path fill="#f9fb15" d="M1904 1137v-196l40-27v197zM1904 941l-15-11l39-26l16 10z"/>
<path fill="#f9fb15" d="M1865 1164v-201l39-26v200zM1865 963l-16-10l40-27l15 11z"/>
<path fill="#f9fb15" d="M1825 1190v-202l40-27v203zM1825 988l-15-11l39-26l16 10z"/>
<path fill="#f9fb15" d="M1786 1216l-16-10v-213l16 11zM1786 1216v-212l39-27v213zM1786 1004l-16-11l40-26l15 10z"/>
<path fill="#f9fb15" d="M1706 1269l-15-11v-203l15 10zM1706 1269v-204l40-26v203zM1706 1065l-15-10l39-26l16 10z"/>
<path fill="#f9fb15" d="M1667 1118l-16-10l40-26l15 10z"/>
<path fill="#f9fb15" d="M1627 1321v-229l40-27v230zM1627 1092l-15-11l39-26l16 10z"/>
<path fill="#f9fb15" d="M1588 1347v-231l39-26v231zM1588 1116l-16-10l40-27l15 11z"/>
<path fill="#f9fb15" d="M1548 1374l-16-11v-232l16 11zM1548 1374v-232l40-27v232zM1548 1142l-16-11l40-26l16 10z"/>
<path fill="#f9fb15" d="M1508 1400v-210l40-26v210zM1508 1190l-15-10l39-27l16 11z"/>
<path fill="#f9fb15" d="M1469 1426v-211l39-26v211zM1469 1215l-16-10l40-26l15 10z"/>
<path fill="#f9fb15" d="M1429 1452l-15-10v-240l15 11zM1429 1452v-239l40-27v240zM1429 1213l-15-11l39-26l16 10z"/>
<path fill="#f9fb15" d="M1390 1479l-16-11v-237l16 11zM1390 1479v-237l39-27v237zM1390 1242l-16-11l40-26l15 10z"/>
<path fill="#f9fb15" d="M1350 1505l-16-10v-233l16 11zM1350 1505v-232l40-26v232zM1350 1273l-16-11l40-26l16 11z"/>
<path fill="#f9fb15" d="M1310 1531l-15-10v-207l15 11zM1310 1531v-206l40-26v206zM1310 1325l-15-11l39-26l16 11z"/>
<path fill="#f6df29" d="M1271 1558l-16-11v-160l16 10zM1271 1558v-161l39-26v160zM1271 1397l-16-10l40-26l15 10z"/>
<path fill="#d1bf29" d="M1231 1584l-15-11v-135l15 10zM1231 1584v-136l40-26v136zM1231 1448l-15-10l39-26l16 10z"/>
<path fill="#52cc7e" d="M1192 1610l-16-10v-113l16 10zM1192 1610v-113l39-26v113zM1192 1497l-16-10l40-26l15 10z"/>
<path fill="#01b9c7" d="M1152 1636l-16-10v-94l16 10zM1152 1636v-94l40-26v94zM1152 1542l-16-10l40-27l16 11z"/>
<path fill="#08b5cf" d="M1112 1663l-15-11v-90l15 11zM1112 1663v-90l40-26v89zM1112 1573l-15-11l39-26l16 11z"/>
<path fill="#08b5cf" d="M1073 1689l-16-11v-88l16 10zM1073 1689v-89l39-26v89zM1073 1600l-16-10l40-26l15 10z"/>
<path fill="#11b0d7" d="M1033 1715l-15-10v-86l15 10zM1033 1715v-86l40-26v86zM1033 1629l-15-10l39-27l16 11z"/>
<path fill="#1babdd" d="M994 1741l-16-10v-82l16 10zM994 1741v-82l39-26v82zM994 1659l-16-10l40-27l15 11z"/>
<path fill="#239fe6" d="M954 1768l-16-11v-79l16 11zM954 1768v-79l40-27v79zM954 1689l-16-11l40-26l16 10z"/>
<path fill="#402cb8" d="M914 1794l-15-11v-30l15 10zM914 1794v-31l40-26v31zM914 1763l-15-10l39-27l16 11z"/>
<path fill="#3e26a8" d="M875 1820l-16-10v-12l16 10zM875 1820v-12l39-26v12zM875 1808l-16-10l40-26l15 10z"/>
<path fill="#3e26a8" d="M2413 844v-25l39-26v25zM2413 819l-16-10l40-26l15 10z"/>
<path fill="#402cb8" d="M2373 871v-31l40-26v30zM2373 840l-15-10l39-26l16 10z"/>
<path fill="#484df0" d="M2334 897l-16-10v-46l16 10zM2334 897v-46l39-26v46zM2334 851l-16-10l40-26l15 10z"/>
<path fill="#484df0" d="M2294 923v-43l40-26v43zM2294 880l-16-10l40-27l16 11z"/>
<path fill="#406cfe" d="M2254 949v-57l40-26v57zM2254 892l-15-11l39-26l16 11z"/>
<path fill="#2f84f9" d="M2215 976v-65l39-27v65zM2215 911l-16-11l40-26l15 10z"/>
<path fill="#2b92ee" d="M2175 1002v-72l40-26v72zM2175 930l-15-10l39-27l16 11z"/>
<path fill="#1fa5e2" d="M2136 1028v-82l39-26v82zM2136 946l-16-10l40-26l15 10z"/>
<path fill="#0abcbf" d="M2096 1054v-96l40-27v97zM2096 958l-16-11l40-26l16 10z"/>
<path fill="#76cc60" d="M2056 1081v-120l40-26v119zM2056 961l-15-10l39-26l16 10z"/>
<path fill="#e0bc2a" d="M2017 1107v-139l39-26v139zM2017 968l-16-10l40-26l15 10z"/>
<path fill="#f9fb15" d="M1977 1133l-15-10v-185l15 10zM1977 1133v-185l40-26v185zM1977 948l-15-10l39-26l16 10z"/>
<path fill="#f9fb15" d="M1938 991l-16-10l40-27l15 11z"/>
<path fill="#f9fb15" d="M1898 1186l-16-11v-216l16 10zM1898 1186v-217l40-26v216zM1898 969l-16-10l40-26l16 10z"/>
<path fill="#f9fb15" d="M1858 1212l-15-10v-210l15 10zM1858 1212v-210l40-26v210zM1858 1002l-15-10l39-27l16 11z"/>
<path fill="#f9fb15" d="M1819 1238l-16-10v-200l16 11zM1819 1238v-199l39-27v200zM1819 1039l-16-11l40-26l15 10z"/>
<path fill="#f9fb15" d="M1779 1264v-192l40-26v192zM1779 1072l-15-10l39-26l16 10z"/>
<path fill="#f9fb15" d="M1740 1291l-16-11v-222l16 11zM1740 1291v-222l39-27v222zM1740 1069l-16-11l40-26l15 10z"/>
<path fill="#f9fb15" d="M1700 1317l-16-10v-220l16 10zM1700 1317v-220l40-26v220zM1700 1097l-16-10l40-26l16 10z"/>
<path fill="#f9fb15" d="M1660 1343v-209l40-26v209zM1660 1134l-15-10l39-26l16 10z"/>
<path fill="#f9fb15" d="M1621 1369l-16-10v-209l16 10zM1621 1160l-16-10l40-27l15 11z"/>
<path fill="#f9fb15" d="M1581 1396v-201l40-26v200zM1581 1195l-15-10l39-26l16 10z"/>
<path fill="#f9fb15" d="M1542 1422v-211l39-26v211zM1542 1211l-16-10l40-27l15 11z"/>
<path fill="#f9fb15" d="M1502 1448l-16-10v-220l16 10zM1502 1448v-220l40-26v220zM1502 1228l-16-10l40-26l16 10z"/>
<path fill="#f9fb15" d="M1462 1475v-205l40-26v204zM1462 1270l-15-10l39-27l16 11z"/>
<path fill="#f9fb15" d="M1423 1501l-16-11v-213l16 10zM1423 1501v-214l39-26v214zM1423 1287l-16-10l40-26l15 10z"/>
<path fill="#f6f21e" d="M1383 1527l-15-10v-168l15 11zM1383 1527v-167l40-27v168zM1383 1360l-15-11l39-26l16 10z"/>
<path fill="#d1bf29" d="M1344 1553l-16-10v-134l16 10zM1344 1553v-134l39-26v134zM1344 1419l-16-10l40-26l15 10z"/>
<path fill="#52cc7e" d="M1304 1580l-16-11v-113l16 10zM1304 1580v-114l40-26v113zM1304 1466l-16-10l40-26l16 10z"/>
<path fill="#01b9c7" d="M1264 1606l-15-11v-93l15 11zM1264 1606v-93l40-27v94zM1264 1513l-15-11l39-26l16 10z"/>
<path fill="#01b9c7" d="M1225 1632l-16-10v-92l16 10zM1225 1632v-92l39-26v92zM1225 1540l-16-10l40-26l15 10z"/>
<path fill="#08b5cf" d="M1185 1658l-15-10v-89l15 10zM1185 1658v-89l40-26v89zM1185 1569l-15-10l39-26l16 10z"/>
<path fill="#11b0d7" d="M1146 1685v-87l39-27v87zM1146 1598l-16-11l40-26l15 10z"/>
<path fill="#11b0d7" d="M1106 1711l-16-11v-86l16 10zM1106 1711v-87l40-26v87zM1106 1624l-16-10l40-26l16 10z"/>
<path fill="#1babdd" d="M1066 1737l-15-10v-84l15 11zM1066 1737v-83l40-26v83zM1066 1654l-15-11l39-26l16 11z"/>
<path fill="#1fa5e2" d="M1027 1763v-80l39-26v80zM1027 1683l-16-10l40-27l15 11z"/>
<path fill="#1fa5e2" d="M987 1790l-15-11v-80l15 10zM987 1790v-81l40-26v80zM987 1709l-15-10l39-27l16 11z"/>
<path fill="#4331c7" d="M948 1816l-16-11v-33l16 11zM948 1816v-33l39-27v34zM948 1783l-16-11l40-26l15 10z"/>
<path fill="#3e26a8" d="M908 1842l-16-10v-13l16 11zM908 1842v-12l40-27v13zM908 1830l-16-11l40-26l16 10z"/>
<path fill="#3e26a8" d="M2443 864v-25l39-27v26zM2443 839l-16-11l40-26l15 10z"/>
<path fill="#463ee0" d="M2403 891v-39l40-26v38zM2403 852l-15-10l39-26l16 10z"/>
<path fill="#463ee0" d="M2364 917v-40l39-26v40zM2364 877l-16-10l40-27l15 11z"/>
<path fill="#4464fd" d="M2324 943v-52l40-27v53zM2324 891l-16-11l40-26l16 10z"/>
<path fill="#3a74fe" d="M2284 969v-58l40-26v58zM2284 911l-15-11l39-26l16 11z"/>
<path fill="#2f84f9" d="M2245 996v-67l39-26v66zM2245 929l-16-10l40-27l15 11z"/>
<path fill="#2b92ee" d="M2205 1022v-72l40-26v72zM2205 950l-15-10l39-26l16 10z"/>
<path fill="#1babdd" d="M2166 1048v-84l39-26v84zM2166 964l-16-10l40-26l15 10z"/>
<path fill="#17bfb6" d="M2126 1074v-100l40-26v100zM2126 974l-16-10l40-26l16 10z"/>
<path fill="#76cc60" d="M2086 1101v-120l40-27v120zM2086 981l-15-11l39-26l16 10z"/>
<path fill="#ecba34" d="M2047 987l-16-11l40-26l15 10z"/>
<path fill="#f9fb15" d="M2007 1153v-179l40-26v179zM2007 974l-15-10l39-26l16 10z"/>
<path fill="#f9fb15" d="M1968 1179l-16-10v-208l16 10zM1968 1179v-208l39-26v208zM1968 971l-16-10l40-26l15 10z"/>
<path fill="#f9fb15" d="M1928 1206v-204l40-26v203zM1928 1002l-16-10l40-26l16 10z"/>
<path fill="#f9fb15" d="M1888 1232l-15-10v-222l15 10zM1888 1232v-222l40-26v222zM1888 1010l-15-10l39-26l16 10z"/>
<path fill="#f9fb15" d="M1849 1258l-16-10v-214l16 10zM1849 1258v-214l39-26v214zM1849 1044l-16-10l40-27l15 11z"/>
<path fill="#f9fb15" d="M1809 1284v-209l40-26v209zM1809 1075l-15-10l39-26l16 10z"/>
<path fill="#f9fb15" d="M1770 1311l-16-11v-222l16 10zM1770 1311v-223l39-26v222zM1770 1088l-16-10l40-26l15 10z"/>
<path fill="#f9fb15" d="M1730 1337v-199l40-26v199zM1730 1138l-16-10l40-27l16 11z"/>
<path fill="#f9fb15" d="M1690 1363v-206l40-26v206zM1690 1157l-15-10l39-27l16 11z"/>
<path fill="#f9fb15" d="M1651 1389v-235l39-27v236zM1651 1154l-16-11l40-26l15 10z"/>
<path fill="#f9fb15" d="M1611 1416l-15-11v-244l15 11zM1611 1416v-244l40-27v244zM1611 1172l-15-11l39-26l16 10z"/>
<path fill="#f9fb15" d="M1572 1442v-200l39-26v200zM1572 1242l-16-10l40-27l15 11z"/>
<path fill="#f9fb15" d="M1532 1468l-16-10v-249l16 10zM1532 1468v-249l40-26v249zM1532 1219l-16-10l40-27l16 11z"/>
<path fill="#f9fb15" d="M1492 1494l-15-10v-217l15 11zM1492 1494v-216l40-27v217zM1492 1278l-15-11l39-26l16 10z"/>
<path fill="#f6df29" d="M1453 1521l-16-11v-159l16 10zM1453 1521v-160l39-26v159zM1453 1361l-16-10l40-26l15 10z"/>
<path fill="#d1bf29" d="M1413 1547l-15-10v-134l15 10zM1413 1547v-134l40-26v134zM1413 1413l-15-10l39-27l16 11z"/>
<path fill="#52cc7e" d="M1374 1573l-16-10v-113l16 10zM1374 1573v-113l39-26v113zM1374 1460l-16-10l40-27l15 11z"/>
<path fill="#0abcbf" d="M1334 1599l-16-10v-95l16 10zM1334 1599v-95l40-26v95zM1334 1504l-16-10l40-27l16 11z"/>
<path fill="#01b9c7" d="M1294 1626l-15-11v-92l15 11zM1294 1626v-92l40-27v92zM1294 1534l-15-11l39-26l16 10z"/>
<path fill="#08b5cf" d="M1255 1652v-90l39-26v90zM1255 1562l-16-10l40-26l15 10z"/>
<path fill="#08b5cf" d="M1215 1678l-15-10v-90l15 10zM1215 1678v-90l40-26v90zM1215 1588l-15-10l39-26l16 10z"/>
<path fill="#11b0d7" d="M1176 1704l-16-10v-86l16 10zM1176 1704v-86l39-26v86zM1176 1618l-16-10l40-27l15 11z"/>
<path fill="#1babdd" d="M1136 1731v-85l40-26v84zM1136 1646l-16-11l40-26l16 11z"/>
<path fill="#11b0d7" d="M1096 1757l-15-10v-87l15 11zM1096 1757v-86l40-27v87zM1096 1671l-15-11l39-26l16 10z"/>
<path fill="#1babdd" d="M1057 1783l-16-10v-83l16 10zM1057 1783v-83l39-26v83zM1057 1700l-16-10l40-27l15 11z"/>
<path fill="#1fa5e2" d="M1017 1809l-15-10v-80l15 10zM1017 1809v-80l40-26v80zM1017 1729l-15-10l39-27l16 11z"/>
<path fill="#463ee0" d="M978 1836l-16-11v-38l16 10zM978 1836v-39l39-26v38zM978 1797l-16-10l40-27l15 11z"/>
<path fill="#3e26a8" d="M938 1862l-16-10v-14l16 11zM938 1862v-13l40-27v14zM938 1849l-16-11l40-26l16 10z"/>
<path fill="#327cfc" d="M2505 905v-62l39-26v62zM2505 843l-16-10l40-27l15 11z"/>
<path fill="#327cfc" d="M2465 932v-63l40-26v62zM2465 869l-15-10l39-26l16 10z"/>
<path fill="#327cfc" d="M2426 958v-63l39-26v63zM2426 895l-16-10l40-26l15 10z"/>
<path fill="#2f84f9" d="M2386 984v-65l40-27v66zM2386 919l-16-11l40-26l16 10z"/>
<path fill="#2f84f9" d="M2346 944l-15-10l39-26l16 10z"/>
<path fill="#2799e9" d="M2307 960l-16-10l40-26l15 10z"/>
<path fill="#38c897" d="M2228 982l-16-11l40-26l15 11z"/>
<path fill="#9dc943" d="M2188 988l-16-11l40-26l16 11z"/>
<path fill="#febe3c" d="M2148 1142v-148l40-27v148zM2148 994l-15-11l39-26l16 10z"/>
<path fill="#f9fb15" d="M2109 1168v-174l39-27v175zM2109 994l-16-11l40-26l15 10z"/>
<path fill="#f9fb15" d="M2069 1194v-215l40-26v215zM2069 979l-15-10l39-27l16 11z"/>
<path fill="#f9fb15" d="M2030 1220v-220l39-26v220zM2030 1000l-16-10l40-26l15 10z"/>
<path fill="#f9fb15" d="M1990 1247v-220l40-27v220zM1990 1027l-16-11l40-26l16 10z"/>
<path fill="#f9fb15" d="M1950 1273l-15-10v-235l15 10zM1950 1273v-235l40-26v235zM1950 1038l-15-10l39-26l16 10z"/>
<path fill="#f9fb15" d="M1911 1299l-16-10v-214l16 11zM1911 1299v-213l39-27v214zM1911 1086l-16-11l40-26l15 10z"/>
<path fill="#f9fb15" d="M1871 1325v-202l40-27v203zM1871 1123l-15-11l39-26l16 10z"/>
<path fill="#f9fb15" d="M1832 1352v-206l39-26v205zM1832 1146l-16-10l40-26l15 10z"/>
<path fill="#f9fb15" d="M1792 1378v-210l40-26v210zM1792 1168l-16-10l40-26l16 10z"/>
<path fill="#f9fb15" d="M1752 1404v-227l40-27v228zM1752 1177l-15-11l39-26l16 10z"/>
<path fill="#f9fb15" d="M1713 1430v-230l39-26v230zM1713 1200l-16-10l40-26l15 10z"/>
<path fill="#f9fb15" d="M1673 1457l-15-11v-232l15 10zM1673 1457v-233l40-26v232zM1673 1224l-15-10l39-26l16 10z"/>
<path fill="#f9fb15" d="M1634 1483l-16-10v-221l16 11zM1634 1483v-220l39-27v221zM1634 1263l-16-11l40-26l15 10z"/>
<path fill="#f9fb15" d="M1594 1509l-16-10v-189l16 11zM1594 1509v-188l40-27v189zM1594 1321l-16-11l40-26l16 10z"/>
<path fill="#f5e924" d="M1554 1536l-15-11v-163l15 10zM1554 1536v-164l40-26v163zM1554 1372l-15-10l39-27l16 11z"/>
<path fill="#d1bf29" d="M1515 1562l-16-11v-135l16 10zM1515 1562v-136l39-26v136zM1515 1426l-16-10l40-26l15 10z"/>
<path fill="#42ca8b" d="M1475 1588l-15-10v-111l15 10zM1475 1588v-111l40-26v111zM1475 1477l-15-10l39-26l16 10z"/>
<path fill="#0abcbf" d="M1436 1614l-16-10v-95l16 10zM1436 1614v-95l39-26v95zM1436 1519l-16-10l40-26l15 10z"/>
<path fill="#08b5cf" d="M1396 1641l-16-11v-91l16 10zM1396 1641v-92l40-26v91zM1396 1549l-16-10l40-26l16 10z"/>
<path fill="#08b5cf" d="M1356 1667v-90l40-26v90zM1356 1577l-15-10l39-26l16 10z"/>
<path fill="#08b5cf" d="M1317 1693l-16-10v-89l16 10zM1317 1693v-89l39-26v89zM1317 1604l-16-10l40-26l15 10z"/>
<path fill="#11b0d7" d="M1277 1719l-15-10v-86l15 10zM1277 1719v-86l40-26v86zM1277 1633l-15-10l39-26l16 10z"/>
<path fill="#1fa5e2" d="M1238 1746v-82l39-26v81zM1238 1664l-16-10l40-26l15 10z"/>
<path fill="#1fa5e2" d="M1198 1772l-16-11v-81l16 10zM1198 1772v-82l40-26v82zM1198 1690l-16-10l40-26l16 10z"/>
<path fill="#2799e9" d="M1158 1798l-15-10v-74l15 10zM1158 1798v-74l40-26v74zM1158 1724l-15-10l39-26l16 10z"/>
<path fill="#2d8bf4" d="M1119 1824l-16-10v-68l16 11zM1119 1824v-67l39-27v68zM1119 1757l-16-11l40-26l15 10z"/>
<path fill="#465cfa" d="M1079 1851l-15-11v-52l15 11zM1079 1851v-52l40-27v52zM1079 1799l-15-11l39-26l16 10z"/>
<path fill="#463ee0" d="M1040 1877l-16-11v-37l16 10zM1040 1877v-38l39-26v38zM1040 1839l-16-10l40-26l15 10z"/>
<path fill="#3e26a8" d="M1000 1903l-16-10v-17l16 11zM1000 1903v-16l40-26v16zM1000 1887l-16-11l40-26l16 11z"/>
<path fill="#b0c636" d="M2367 947l-16-10l40-26l15 10z"/>
<path fill="#fec636" d="M2327 952l-15-10l39-26l16 10z"/>
<path fill="#f9fb15" d="M2288 1129v-179l39-26v179zM2288 950l-16-10l40-26l15 10z"/>
<path fill="#f9fb15" d="M2248 1155v-181l40-26v181zM2248 974l-16-11l40-26l16 11z"/>
<path fill="#f9fb15" d="M2208 1181l-15-10v-212l15 10zM2208 1181v-212l40-26v212zM2208 969l-15-10l39-26l16 10z"/>
<path fill="#f9fb15" d="M2169 1208l-16-11v-190l16 11zM2169 1208v-190l39-27v190zM2169 1018l-16-11l40-26l15 10z"/>
<path fill="#f9fb15" d="M2129 1234v-172l40-26v172zM2129 1062l-15-10l39-26l16 10z"/>
<path fill="#f9fb15" d="M2090 1260v-194l39-26v194zM2090 1066l-16-10l40-26l15 10z"/>
<path fill="#f9fb15" d="M2050 1286v-202l40-27v203zM2050 1084l-16-11l40-26l16 10z"/>
<path fill="#f9fb15" d="M2010 1313v-209l40-26v208zM2010 1104l-15-10l39-26l16 10z"/>
<path fill="#f9fb15" d="M1971 1339v-215l39-26v215zM1971 1124l-16-10l40-27l15 11z"/>
<path fill="#f9fb15" d="M1931 1365v-216l40-27v217zM1931 1149l-15-11l39-26l16 10z"/>
<path fill="#f9fb15" d="M1892 1391v-218l39-26v218zM1892 1173l-16-10l40-26l15 10z"/>
<path fill="#f9fb15" d="M1852 1418v-220l40-26v219zM1852 1198l-16-10l40-26l16 10z"/>
<path fill="#f9fb15" d="M1812 1444l-15-10v-225l15 10zM1812 1444v-225l40-26v225zM1812 1219l-15-10l39-26l16 10z"/>
<path fill="#f9fb15" d="M1773 1470l-16-10v-210l16 10zM1773 1470v-210l39-26v210zM1773 1260l-16-10l40-27l15 11z"/>
<path fill="#f9fb15" d="M1733 1497l-15-11v-175l15 10zM1733 1497v-176l40-26v175zM1733 1321l-15-10l39-27l16 11z"/>
<path fill="#fec636" d="M1694 1523l-16-11v-151l16 10zM1694 1523v-152l39-26v152zM1694 1371l-16-10l40-26l15 10z"/>
<path fill="#9dc943" d="M1654 1549l-16-10v-127l16 11zM1654 1549v-126l40-27v127zM1654 1423l-16-11l40-26l16 10z"/>
<path fill="#38c897" d="M1614 1575l-15-10v-108l15 10zM1614 1575v-108l40-26v108zM1614 1467l-15-10l39-26l16 10z"/>
<path fill="#0abcbf" d="M1575 1602l-16-11v-96l16 10zM1575 1602v-97l39-26v96zM1575 1505l-16-10l40-27l15 11z"/>
<path fill="#08b5cf" d="M1535 1628v-92l40-26v92zM1535 1536l-15-10l39-26l16 10z"/>
<path fill="#08b5cf" d="M1496 1654l-16-10v-91l16 10zM1496 1654v-91l39-26v91zM1496 1563l-16-10l40-26l15 10z"/>
<path fill="#08b5cf" d="M1456 1680l-16-10v-89l16 10zM1456 1680v-89l40-26v89zM1456 1591l-16-10l40-27l16 11z"/>
<path fill="#11b0d7" d="M1416 1707l-15-11v-87l15 10zM1416 1707v-88l40-26v87zM1416 1619l-15-10l39-27l16 11z"/>
<path fill="#11b0d7" d="M1377 1733l-16-11v-85l16 10zM1377 1733v-86l39-26v86zM1377 1647l-16-10l40-27l15 11z"/>
<path fill="#1babdd" d="M1337 1759l-15-10v-85l15 11zM1337 1759v-84l40-27v85zM1337 1675l-15-11l39-26l16 10z"/>
<path fill="#1fa5e2" d="M1298 1785l-16-10v-82l16 10zM1298 1785v-82l39-26v82zM1298 1703l-16-10l40-26l15 10z"/>
<path fill="#239fe6" d="M1258 1812l-16-11v-79l16 11zM1258 1812v-79l40-27v79zM1258 1733l-16-11l40-26l16 10z"/>
<path fill="#2b92ee" d="M1218 1838l-15-11v-72l15 10zM1218 1838v-73l40-26v73zM1218 1765l-15-10l39-26l16 10z"/>
<path fill="#2f84f9" d="M1179 1864l-16-10v-65l16 10zM1179 1864v-65l39-26v65zM1179 1799l-16-10l40-27l15 11z"/>
<path fill="#4754f5" d="M1139 1890l-15-10v-47l15 10zM1139 1890v-47l40-26v47zM1139 1843l-15-10l39-26l16 10z"/>
<path fill="#463ee0" d="M1100 1917l-16-11v-39l16 10zM1100 1917v-40l39-26v39zM1100 1877l-16-10l40-26l15 10z"/>
<path fill="#3e26a8" d="M1060 1943l-16-10v-22l16 11zM1060 1943v-21l40-27v22zM1060 1922l-16-11l40-26l16 10z"/>
<path fill="#76cc60" d="M2595 965v-120l39-26v120zM2595 845l-16-10l40-27l15 11z"/>
<path fill="#d1bf29" d="M2555 991v-135l40-26v135zM2555 856l-15-10l39-26l16 10z"/>
<path fill="#febe3c" d="M2516 1018v-149l39-26v148zM2516 869l-16-10l40-26l15 10z"/>
<path fill="#fcce31" d="M2476 1044v-153l40-26v153zM2476 891l-16-10l40-27l16 11z"/>
<path fill="#f6df29" d="M2436 1070v-159l40-27v160zM2436 911l-15-11l39-26l16 10z"/>
<path fill="#f5e924" d="M2397 1096v-162l39-26v162zM2397 934l-16-10l40-26l15 10z"/>
<path fill="#f9fb15" d="M2357 1123l-15-11v-177l15 11zM2357 1123v-177l40-27v177zM2357 946l-15-11l39-26l16 10z"/>
<path fill="#f9fb15" d="M2318 1149v-170l39-26v170zM2318 979l-16-10l40-26l15 10z"/>
<path fill="#f9fb15" d="M2278 1175v-187l40-26v187zM2278 988l-16-11l40-26l16 11z"/>
<path fill="#f9fb15" d="M2238 1201l-15-10v-196l15 10zM2238 1201v-196l40-26v196zM2238 1005l-15-10l39-27l16 11z"/>
<path fill="#f9fb15" d="M2199 1228l-16-11v-185l16 10zM2199 1228v-186l39-26v185zM2199 1042l-16-10l40-26l15 10z"/>
<path fill="#f6f21e" d="M2159 1254v-167l40-26v167zM2159 1087l-15-10l39-27l16 11z"/>
<path fill="#f9fb15" d="M2120 1280v-183l39-26v183zM2120 1097l-16-10l40-27l15 11z"/>
<path fill="#f9fb15" d="M2080 1306v-195l40-26v195zM2080 1111l-16-10l40-27l16 11z"/>
<path fill="#f9fb15" d="M2040 1333v-201l40-26v200zM2040 1132l-15-10l39-26l16 10z"/>
<path fill="#f9fb15" d="M2001 1359l-16-10v-203l16 10zM2001 1359v-203l39-26v203zM2001 1156l-16-10l40-27l15 11z"/>
<path fill="#f9fb15" d="M1961 1385l-15-10v-194l15 11zM1961 1385v-193l40-27v194zM1961 1192l-15-11l39-26l16 10z"/>
<path fill="#f9fb15" d="M1922 1411l-16-10v-174l16 10zM1922 1411v-174l39-26v174zM1922 1237l-16-10l40-26l15 10z"/>
<path fill="#fec636" d="M1882 1438l-16-11v-151l16 10zM1882 1438v-152l40-26v151zM1882 1286l-16-10l40-26l16 10z"/>
<path fill="#febe3c" d="M1842 1464l-15-10v-147l15 10zM1842 1464v-147l40-26v147zM1842 1317l-15-10l39-27l16 11z"/>
<path fill="#ecba34" d="M1803 1490l-16-10v-143l16 11zM1803 1490v-142l39-27v143zM1803 1348l-16-11l40-26l15 10z"/>
<path fill="#9dc943" d="M1763 1516l-15-10v-128l15 11zM1763 1516v-127l40-26v127zM1763 1389l-15-11l39-26l16 11z"/>
<path fill="#42ca8b" d="M1724 1543l-16-11v-111l16 10zM1724 1543v-112l39-26v111zM1724 1431l-16-10l40-26l15 10z"/>
<path fill="#0abcbf" d="M1684 1569l-16-10v-98l16 11zM1684 1569v-97l40-27v98zM1684 1472l-16-11l40-26l16 10z"/>
<path fill="#01b9c7" d="M1644 1595v-92l40-27v93zM1644 1503l-15-11l39-26l16 10z"/>
<path fill="#01b9c7" d="M1605 1621v-91l39-27v92zM1605 1530l-16-11l40-26l15 10z"/>
<path fill="#08b5cf" d="M1565 1648l-15-11v-91l15 10zM1565 1648v-92l40-26v91zM1565 1556l-15-10l39-26l16 10z"/>
<path fill="#11b0d7" d="M1526 1674l-16-10v-88l16 10zM1526 1674v-88l39-26v88zM1526 1586l-16-10l40-27l15 11z"/>
<path fill="#11b0d7" d="M1486 1700v-86l40-27v87zM1486 1614l-16-11l40-26l16 10z"/>
<path fill="#11b0d7" d="M1446 1726v-85l40-26v85zM1446 1641l-15-11l39-26l16 11z"/>
<path fill="#11b0d7" d="M1407 1753l-16-11v-85l16 10zM1407 1753v-86l39-26v85zM1407 1667l-16-10l40-26l15 10z"/>
<path fill="#1fa5e2" d="M1367 1779v-81l40-26v81zM1367 1698l-15-10l39-26l16 10z"/>
<path fill="#1fa5e2" d="M1328 1805l-16-10v-81l16 10zM1328 1805v-81l39-26v81zM1328 1724l-16-10l40-26l15 10z"/>
<path fill="#239fe6" d="M1288 1831l-16-10v-79l16 11zM1288 1831v-78l40-26v78zM1288 1753l-16-11l40-26l16 11z"/>
<path fill="#2799e9" d="M1248 1858l-15-11v-75l15 10zM1248 1858v-76l40-26v75zM1248 1782l-15-10l39-26l16 10z"/>
<path fill="#2f84f9" d="M1209 1884l-16-10v-68l16 11zM1209 1884v-67l39-26v67zM1209 1817l-16-11l40-26l15 11z"/>
<path fill="#465cfa" d="M1169 1910l-15-10v-49l15 10zM1169 1910v-49l40-26v49zM1169 1861l-15-10l39-26l16 10z"/>
<path fill="#4537d5" d="M1130 1936l-16-10v-36l16 10zM1130 1936v-36l39-26v36zM1130 1900l-16-10l40-27l15 11z"/>
<path fill="#3e26a8" d="M1090 1963l-16-11v-19l16 11zM1090 1963v-19l40-26v18zM1090 1944l-16-11l40-26l16 11z"/>
<path fill="#76cc60" d="M2629 988v-120l39-26v119zM2629 868l-16-10l40-26l15 10z"/>
<path fill="#d1bf29" d="M2589 1014v-135l40-26v135zM2589 879l-15-11l39-26l16 11z"/>
<path fill="#fec636" d="M2550 1040v-151l39-26v151zM2550 889l-16-10l40-26l15 10z"/>
<path fill="#fcce31" d="M2510 1066v-154l40-26v154zM2510 912l-16-10l40-26l16 10z"/>
<path fill="#f9d72d" d="M2470 1093v-158l40-27v158zM2470 935l-15-11l39-26l16 10z"/>
<path fill="#f6df29" d="M2431 1119v-159l39-26v159zM2431 960l-16-10l40-26l15 10z"/>
<path fill="#f6f21e" d="M2391 1145v-165l40-26v165zM2391 980l-15-10l39-26l16 10z"/>
<path fill="#f6f21e" d="M2352 1171v-166l39-26v166zM2352 1005l-16-10l40-26l15 10z"/>
<path fill="#f9fb15" d="M2312 1198v-171l40-26v170zM2312 1027l-16-10l40-26l16 10z"/>
<path fill="#f9fb15" d="M2272 1224v-181l40-27v182zM2272 1043l-15-11l39-26l16 10z"/>
<path fill="#f9fb15" d="M2233 1250l-16-10v-193l16 10zM2233 1250v-193l39-26v193zM2233 1057l-16-10l40-26l15 10z"/>
<path fill="#f5e924" d="M2193 1276v-164l40-26v164zM2193 1112l-15-10l39-26l16 10z"/>
<path fill="#f9fb15" d="M2154 1303l-16-11v-174l16 10zM2154 1303v-175l39-26v174zM2154 1128l-16-10l40-27l15 11z"/>
<path fill="#f9fb15" d="M2114 1329v-173l40-26v173zM2114 1156l-16-11l40-26l16 11z"/>
<path fill="#f9fb15" d="M2074 1355l-15-10v-206l15 11zM2074 1355v-205l40-26v205zM2074 1150l-15-11l39-26l16 11z"/>
<path fill="#f9fb15" d="M2035 1381l-16-10v-183l16 10zM2035 1381v-183l39-26v183zM2035 1198l-16-10l40-26l15 10z"/>
<path fill="#f6df29" d="M1995 1408v-160l40-26v159zM1995 1248l-15-10l39-26l16 10z"/>
<path fill="#febe3c" d="M1956 1434l-16-10v-147l16 10zM1956 1434v-147l39-26v147zM1956 1287l-16-10l40-27l15 11z"/>
<path fill="#e0bc2a" d="M1916 1460l-16-10v-140l16 10zM1916 1460v-140l40-26v140zM1916 1320l-16-10l40-26l16 10z"/>
<path fill="#c1c32d" d="M1876 1486l-15-10v-132l15 10zM1876 1354l-15-10l39-27l16 11z"/>
<path fill="#52cc7e" d="M1837 1513l-16-11v-114l16 11zM1837 1399l-16-11l40-26l15 10z"/>
<path fill="#0abcbf" d="M1797 1444l-15-11l39-26l16 10z"/>
<path fill="#01b9c7" d="M1758 1565l-16-10v-94l16 10zM1758 1565v-94l39-26v94zM1758 1471l-16-10l40-26l15 10z"/>
<path fill="#08b5cf" d="M1718 1591v-89l40-26v89zM1718 1502l-16-11l40-26l16 11z"/>
<path fill="#08b5cf" d="M1678 1618v-91l40-27v91zM1678 1527l-15-11l39-26l16 10z"/>
<path fill="#08b5cf" d="M1639 1644l-16-10v-91l16 10zM1639 1644v-91l39-26v91zM1639 1553l-16-10l40-26l15 10z"/>
<path fill="#11b0d7" d="M1599 1670v-88l40-26v88zM1599 1582l-15-10l39-26l16 10z"/>
<path fill="#08b5cf" d="M1560 1696l-16-10v-90l16 11zM1560 1696v-89l39-27v90zM1560 1607l-16-11l40-26l15 10z"/>
<path fill="#11b0d7" d="M1520 1723l-16-11v-86l16 10zM1520 1723v-87l40-26v86zM1520 1636l-16-10l40-27l16 11z"/>
<path fill="#1babdd" d="M1480 1749v-84l40-27v85zM1480 1665l-15-11l39-26l16 10z"/>
<path fill="#11b0d7" d="M1441 1775l-16-10v-87l16 10zM1441 1775v-87l39-26v87zM1441 1688l-16-10l40-26l15 10z"/>
<path fill="#1babdd" d="M1401 1801l-15-10v-84l15 11zM1401 1801v-83l40-27v84zM1401 1718l-15-11l39-26l16 10z"/>
<path fill="#239fe6" d="M1362 1828v-79l39-27v79zM1362 1749l-16-11l40-26l15 10z"/>
<path fill="#1babdd" d="M1322 1854l-16-10v-83l16 10zM1322 1854v-83l40-26v83zM1322 1771l-16-10l40-27l16 11z"/>
<path fill="#2799e9" d="M1282 1880l-15-10v-76l15 11zM1282 1880v-75l40-27v76zM1282 1805l-15-11l39-26l16 10z"/>
<path fill="#2f84f9" d="M1243 1907l-16-11v-66l16 10zM1243 1907v-67l39-26v66zM1243 1840l-16-10l40-26l15 10z"/>
<path fill="#484df0" d="M1203 1933l-15-11v-45l15 10zM1203 1933v-46l40-26v46zM1203 1887l-15-10l39-26l16 10z"/>
<path fill="#463ee0" d="M1164 1959l-16-10v-37l16 10zM1164 1959v-37l39-26v37zM1164 1922l-16-10l40-27l15 11z"/>
<path fill="#3e26a8" d="M1124 1985l-16-10v-14l16 10zM1124 1985v-14l40-26v14zM1124 1971l-16-10l40-26l16 10z"/>
<path fill="#8acb51" d="M2660 1008v-123l39-26v123zM2660 885l-16-10l40-26l15 10z"/>
<path fill="#d1bf29" d="M2620 1034v-134l40-27v135zM2620 900l-16-11l40-26l16 10z"/>
<path fill="#febe3c" d="M2580 1061v-148l40-26v147zM2580 913l-15-10l39-26l16 10z"/>
<path fill="#f9d72d" d="M2541 1087v-156l39-26v156zM2541 931l-16-11l40-26l15 11z"/>
<path fill="#f6df29" d="M2501 1113v-159l40-26v159zM2501 954l-15-10l39-26l16 10z"/>
<path fill="#f6df29" d="M2462 1139v-160l39-26v160zM2462 979l-16-10l40-27l15 11z"/>
<path fill="#f6f21e" d="M2422 1166v-168l40-26v167zM2422 998l-16-10l40-26l16 10z"/>
<path fill="#f9fb15" d="M2382 1192v-174l40-26v174zM2382 1018l-15-10l39-26l16 10z"/>
<path fill="#f9fb15" d="M2343 1218l-16-10v-178l16 10zM2343 1218v-178l39-26v178zM2343 1040l-16-10l40-26l15 10z"/>
<path fill="#f9fb15" d="M2303 1244l-15-10v-172l15 11zM2303 1244v-171l40-27v172zM2303 1073l-15-11l39-26l16 10z"/>
<path fill="#f9fb15" d="M2264 1271v-168l39-26v167zM2264 1103l-16-10l40-26l15 10z"/>
<path fill="#f9fb15" d="M2224 1297v-174l40-26v174zM2224 1123l-16-10l40-26l16 10z"/>
<path fill="#f9fb15" d="M2184 1323v-186l40-26v186zM2184 1137l-15-10l39-27l16 11z"/>
<path fill="#f9fb15" d="M2145 1349l-16-10v-198l16 11zM2145 1349v-197l39-27v198zM2145 1152l-16-11l40-26l15 10z"/>
<path fill="#f9fb15" d="M2105 1376v-184l40-27v184zM2105 1192l-15-11l39-26l16 10z"/>
<path fill="#f9fb15" d="M2066 1402l-16-11v-184l16 10zM2066 1402v-185l39-26v185zM2066 1217l-16-10l40-26l15 10z"/>
<path fill="#f6f21e" d="M2026 1428v-165l40-26v165zM2026 1263l-16-10l40-27l16 11z"/>
<path fill="#f9fb15" d="M1986 1454l-15-10v-201l15 11zM1986 1454v-200l40-27v201zM1986 1254l-15-11l39-26l16 10z"/>
<path fill="#f5e924" d="M1947 1481l-16-11v-163l16 10zM1947 1481v-164l39-26v163zM1947 1317l-16-10l40-26l15 10z"/>
<path fill="#fcce31" d="M1907 1353l-15-10l39-26l16 10z"/>
<path fill="#42ca8b" d="M1749 1501l-16-11l40-26l15 10z"/>
<path fill="#01b9c7" d="M1709 1545l-15-11l39-26l16 10z"/>
<path fill="#01b9c7" d="M1670 1664l-16-10v-93l16 10zM1670 1664v-93l39-26v93zM1670 1571l-16-10l40-27l15 11z"/>
<path fill="#01b9c7" d="M1630 1691l-16-11v-92l16 11zM1630 1691v-92l40-27v92zM1630 1599l-16-11l40-26l16 10z"/>
<path fill="#08b5cf" d="M1590 1717v-89l40-27v90zM1590 1628l-15-11l39-26l16 10z"/>
<path fill="#11b0d7" d="M1551 1743l-16-10v-88l16 10zM1551 1743v-88l39-26v88zM1551 1655l-16-10l40-27l15 11z"/>
<path fill="#11b0d7" d="M1511 1769v-86l40-26v86zM1511 1683l-15-10l39-27l16 11z"/>
<path fill="#11b0d7" d="M1472 1796l-16-11v-85l16 10zM1472 1796v-86l39-26v85zM1472 1710l-16-10l40-26l15 10z"/>
<path fill="#1babdd" d="M1432 1822l-16-10v-84l16 11zM1432 1822v-83l40-27v84zM1432 1739l-16-11l40-26l16 10z"/>
<path fill="#1fa5e2" d="M1392 1848l-15-10v-81l15 10zM1392 1848v-81l40-26v81zM1392 1767l-15-10l39-26l16 10z"/>
<path fill="#1fa5e2" d="M1353 1874l-16-10v-80l16 11zM1353 1874v-79l39-27v80zM1353 1795l-16-11l40-26l15 10z"/>
<path fill="#2799e9" d="M1313 1901l-15-11v-73l15 10zM1313 1901v-74l40-26v73zM1313 1827l-15-10l39-26l16 10z"/>
<path fill="#2f84f9" d="M1274 1927l-16-10v-67l16 10zM1274 1927v-67l39-26v67zM1274 1860l-16-10l40-26l15 10z"/>
<path fill="#465cfa" d="M1234 1953l-16-10v-50l16 11zM1234 1953v-49l40-27v50zM1234 1904l-16-11l40-26l16 10z"/>
<path fill="#402cb8" d="M1194 1979l-15-10v-30l15 11zM1194 1979v-29l40-27v30zM1194 1950l-15-11l39-26l16 10z"/>
<path fill="#3e26a8" d="M1155 2006l-16-11v-14l16 11zM1155 2006v-14l39-27v14zM1155 1992l-16-11l40-26l15 10z"/>
<path fill="#3a74fe" d="M2689 1027v-58l39-26v58zM2689 969l-16-10l40-27l15 11z"/>
<path fill="#3a74fe" d="M2649 1054v-60l40-26v59zM2649 994l-15-10l39-27l16 11z"/>
<path fill="#327cfc" d="M2610 1080v-64l39-26v64zM2610 1016l-16-10l40-26l15 10z"/>
<path fill="#2d8bf4" d="M2570 1106v-70l40-26v70zM2570 1036l-16-10l40-26l16 10z"/>
<path fill="#2799e9" d="M2530 1132v-74l40-26v74zM2530 1058l-15-10l39-27l16 11z"/>
<path fill="#1fa5e2" d="M2491 1159v-81l39-26v80zM2491 1078l-16-11l40-26l15 11z"/>
<path fill="#08b5cf" d="M2451 1185v-90l40-26v90zM2451 1095l-15-10l39-26l16 10z"/>
<path fill="#17bfb6" d="M2412 1211v-98l39-26v98zM2412 1113l-16-10l40-26l15 10z"/>
<path fill="#52cc7e" d="M2372 1237v-113l40-26v113zM2372 1124l-16-10l40-26l16 10z"/>
<path fill="#b0c636" d="M2332 1264v-129l40-26v128zM2332 1135l-15-10l39-27l16 11z"/>
<path fill="#fec636" d="M2293 1290v-149l39-27v150zM2293 1141l-16-11l40-26l15 10z"/>
<path fill="#f6f21e" d="M2253 1316l-15-10v-165l15 11zM2253 1316v-164l40-27v165zM2253 1152l-15-11l39-26l16 10z"/>
<path fill="#f5e924" d="M2214 1342v-161l39-26v161zM2214 1181l-16-10l40-27l15 11z"/>
<path fill="#f9fb15" d="M2174 1369l-16-11v-173l16 11zM2174 1369v-173l40-27v173zM2174 1196l-16-11l40-26l16 10z"/>
<path fill="#f6df29" d="M2134 1395v-160l40-26v160zM2134 1235l-15-10l39-26l16 10z"/>
<path fill="#f9fb15" d="M2095 1421v-168l39-26v168zM2095 1253l-16-10l40-27l15 11z"/>
<path fill="#f9fb15" d="M2055 1447v-173l40-26v173zM2055 1274l-15-10l39-26l16 10z"/>
<path fill="#f9fb15" d="M2016 1474l-16-11v-194l16 11zM2016 1474v-194l39-26v193zM2016 1280l-16-11l40-26l15 11z"/>
<path fill="#f9fb15" d="M1976 1500v-172l40-26v172zM1976 1328l-16-10l40-26l16 10z"/>
<path fill="#f9fb15" d="M1936 1526v-184l40-26v184zM1936 1342l-15-10l39-27l16 11z"/>
<path fill="#f9fb15" d="M1897 1552l-16-10v-197l16 11zM1897 1552v-196l39-26v196zM1897 1356l-16-11l40-26l15 11z"/>
<path fill="#f9fb15" d="M1857 1579l-15-11v-190l15 11zM1857 1579v-190l40-27v190zM1857 1389l-15-11l39-26l16 10z"/>
<path fill="#f9fb15" d="M1818 1605l-16-10v-189l16 11zM1818 1605v-188l39-26v188zM1818 1417l-16-11l40-26l15 11z"/>
<path fill="#f9fb15" d="M1778 1631l-16-10v-171l16 10zM1778 1631v-171l40-26v171zM1778 1460l-16-10l40-26l16 10z"/>
<path fill="#febe3c" d="M1738 1657l-15-10v-149l15 10zM1738 1508l-15-10l39-26l16 10z"/>
<path fill="#76cc60" d="M1699 1684l-16-11v-121l16 10zM1699 1684v-122l39-26v121zM1699 1562l-16-10l40-26l15 10z"/>
<path fill="#26c2ad" d="M1659 1710l-15-10v-104l15 10zM1659 1710v-104l40-26v104zM1659 1606l-15-10l39-26l16 10z"/>
<path fill="#01b9c7" d="M1620 1736l-16-10v-94l16 11zM1620 1736v-93l39-26v93zM1620 1643l-16-11l40-26l15 11z"/>
<path fill="#08b5cf" d="M1580 1763l-16-11v-91l16 10zM1580 1763v-92l40-26v91zM1580 1671l-16-10l40-26l16 10z"/>
<path fill="#08b5cf" d="M1540 1789l-15-11v-89l15 10zM1540 1789v-90l40-26v90zM1540 1699l-15-10l39-26l16 10z"/>
<path fill="#1babdd" d="M1501 1815l-16-10v-86l16 11zM1501 1815v-85l39-26v85zM1501 1730l-16-11l40-26l15 11z"/>
<path fill="#1babdd" d="M1461 1841l-15-10v-84l15 11zM1461 1841v-83l40-27v84zM1461 1758l-15-11l39-26l16 10z"/>
<path fill="#1babdd" d="M1422 1868v-83l39-26v82zM1422 1785l-16-10l40-27l15 11z"/>
<path fill="#1babdd" d="M1382 1894l-16-11v-82l16 10zM1382 1894v-83l40-26v83zM1382 1811l-16-10l40-27l16 11z"/>
<path fill="#2799e9" d="M1342 1920l-15-10v-75l15 11zM1342 1920v-74l40-26v74zM1342 1846l-15-11l39-26l16 11z"/>
<path fill="#2f84f9" d="M1303 1946l-16-10v-65l16 10zM1303 1946v-65l39-26v65zM1303 1881l-16-10l40-26l15 10z"/>
<path fill="#4754f5" d="M1263 1973l-15-11v-49l15 11zM1263 1973v-49l40-27v49zM1263 1924l-15-11l39-26l16 10z"/>
<path fill="#4537d5" d="M1224 1999l-16-11v-35l16 10zM1224 1999v-36l39-26v36zM1224 1963l-16-10l40-27l15 11z"/>
<path fill="#3e26a8" d="M1184 2025l-16-10v-17l16 10zM1184 2025v-17l40-26v17zM1184 2008l-16-10l40-27l16 11z"/>
<path fill="#2b92ee" d="M2729 1054v-72l39-26v72zM2729 982l-16-10l40-26l15 10z"/>
<path fill="#2b92ee" d="M2689 1080v-71l40-27v72zM2689 1009l-15-11l39-26l16 10z"/>
<path fill="#2b92ee" d="M2650 1106v-73l39-26v73zM2650 1033l-16-10l40-26l15 10z"/>
<path fill="#2799e9" d="M2610 1133v-75l40-26v74zM2610 1058l-16-10l40-26l16 10z"/>
<path fill="#1fa5e2" d="M2570 1159v-80l40-26v80zM2570 1079l-15-10l39-26l16 10z"/>
<path fill="#1fa5e2" d="M2531 1185v-79l39-27v80zM2531 1106l-16-11l40-26l15 10z"/>
<path fill="#1babdd" d="M2491 1211v-82l40-27v83zM2491 1129l-15-11l39-26l16 10z"/>
<path fill="#11b0d7" d="M2452 1238v-88l39-27v88zM2452 1150l-16-11l40-26l15 10z"/>
<path fill="#0abcbf" d="M2412 1264v-95l40-26v95zM2412 1169l-16-10l40-27l16 11z"/>
<path fill="#38c897" d="M2372 1290v-109l40-26v109zM2372 1181l-15-10l39-27l16 11z"/>
<path fill="#76cc60" d="M2333 1316v-120l39-26v120zM2333 1196l-16-10l40-26l15 10z"/>
<path fill="#ecba34" d="M2293 1343v-141l40-26v140zM2293 1202l-15-10l39-26l16 10z"/>
<path fill="#f9fb15" d="M2254 1369l-16-10v-181l16 11zM2254 1369v-180l39-27v181zM2254 1189l-16-11l40-26l15 10z"/>
<path fill="#f9fb15" d="M2214 1395l-16-10v-173l16 11zM2214 1395v-172l40-27v173zM2214 1223l-16-11l40-26l16 10z"/>
<path fill="#f5e924" d="M2174 1421l-15-10v-164l15 11zM2174 1421v-163l40-27v164zM2174 1258l-15-11l39-26l16 10z"/>
<path fill="#fec636" d="M2135 1448v-151l39-26v150zM2135 1297l-16-10l40-27l15 11z"/>
<path fill="#f5e924" d="M2095 1474v-164l40-26v164zM2095 1310l-15-10l39-26l16 10z"/>
<path fill="#f9fb15" d="M2056 1500l-16-10v-184l16 10zM2056 1500v-184l39-26v184zM2056 1316l-16-10l40-26l15 10z"/>
<path fill="#f6df29" d="M2016 1526v-159l40-26v159zM2016 1367l-16-10l40-26l16 10z"/>
<path fill="#f9fb15" d="M1976 1553v-180l40-26v179zM1976 1373l-15-10l39-27l16 11z"/>
<path fill="#f9fb15" d="M1937 1579v-180l39-26v180zM1937 1399l-16-10l40-26l15 10z"/>
<path fill="#f9fb15" d="M1897 1605l-15-10v-189l15 11zM1897 1605v-188l40-27v189zM1897 1417l-15-11l39-26l16 10z"/>
<path fill="#f9fb15" d="M1858 1632v-175l39-27v175zM1858 1457l-16-11l40-26l15 10z"/>
<path fill="#f9fb15" d="M1818 1658v-175l40-26v175zM1818 1483l-16-10l40-26l16 10z"/>
<path fill="#f9fb15" d="M1778 1684l-15-10v-195l15 11zM1778 1684v-194l40-27v195zM1778 1490l-15-11l39-26l16 10z"/>
<path fill="#f9fb15" d="M1739 1710l-16-10v-184l16 10zM1739 1710v-184l39-26v184zM1739 1526l-16-10l40-26l15 10z"/>
<path fill="#fec636" d="M1699 1737l-15-11v-150l15 11zM1699 1737v-150l40-27v150zM1699 1587l-15-11l39-26l16 10z"/>
<path fill="#c1c32d" d="M1660 1763l-16-11v-131l16 10zM1660 1631l-16-10l40-27l15 11z"/>
<path fill="#2fc5a2" d="M1620 1789l-16-10v-106l16 10zM1620 1683l-16-10l40-27l16 11z"/>
<path fill="#01b9c7" d="M1580 1815l-15-10v-92l15 10zM1580 1815v-92l40-26v92zM1580 1723l-15-10l39-27l16 11z"/>
<path fill="#08b5cf" d="M1541 1842l-16-11v-89l16 11zM1541 1842v-89l39-27v89zM1541 1753l-16-11l40-26l15 10z"/>
<path fill="#11b0d7" d="M1501 1868l-15-11v-87l15 11zM1501 1868v-87l40-27v88zM1501 1781l-15-11l39-26l16 10z"/>
<path fill="#11b0d7" d="M1462 1894l-16-10v-86l16 10zM1462 1894v-86l39-26v86zM1462 1808l-16-10l40-26l15 10z"/>
<path fill="#1fa5e2" d="M1422 1920l-16-10v-80l16 10zM1422 1920v-80l40-26v80zM1422 1840l-16-10l40-26l16 10z"/>
<path fill="#2b92ee" d="M1382 1947l-15-11v-71l15 10zM1382 1947v-72l40-26v71zM1382 1875l-15-10l39-27l16 11z"/>
<path fill="#2d8bf4" d="M1343 1973l-16-11v-67l16 10zM1343 1973v-68l39-26v68zM1343 1905l-16-10l40-26l15 10z"/>
<path fill="#4754f5" d="M1303 1999l-15-10v-49l15 11zM1303 1999v-48l40-27v49zM1303 1951l-15-11l39-26l16 10z"/>
<path fill="#402cb8" d="M1264 2025l-16-10v-29l16 11zM1264 2025v-28l39-26v28zM1264 1997l-16-11l40-26l15 11z"/>
<path fill="#3e26a8" d="M1224 2052l-16-11v-14l16 11zM1224 2052v-14l40-27v14zM1224 2038l-16-11l40-26l16 10z"/>
<path fill="#4745e9" d="M2765 1078l-16-11v-42l16 10zM2765 1078v-43l39-26v43zM2765 1035l-16-10l40-27l15 11z"/>
<path fill="#4745e9" d="M2725 1104v-40l40-26v40zM2725 1064l-15-10l39-27l16 11z"/>
<path fill="#463ee0" d="M2686 1130v-39l39-27v40zM2686 1091l-16-11l40-26l15 10z"/>
<path fill="#465cfa" d="M2646 1157v-52l40-26v51zM2646 1105l-16-10l40-27l16 11z"/>
<path fill="#3a74fe" d="M2606 1183v-60l40-26v60zM2606 1123l-15-10l39-26l16 10z"/>
<path fill="#2f84f9" d="M2567 1209v-66l39-26v66zM2567 1143l-16-10l40-26l15 10z"/>
<path fill="#2799e9" d="M2527 1235v-75l40-26v75zM2527 1160l-15-10l39-26l16 10z"/>
<path fill="#1fa5e2" d="M2488 1262v-82l39-26v81zM2488 1180l-16-10l40-27l15 11z"/>
<path fill="#08b5cf" d="M2448 1288v-89l40-27v90zM2448 1199l-16-11l40-26l16 10z"/>
<path fill="#0abcbf" d="M2408 1314v-97l40-26v97zM2408 1217l-15-10l39-26l16 10z"/>
<path fill="#52cc7e" d="M2369 1340v-114l39-26v114zM2369 1226l-16-10l40-26l15 10z"/>
<path fill="#b0c636" d="M2329 1367v-130l40-26v129zM2329 1237l-15-10l39-27l16 11z"/>
<path fill="#fec636" d="M2290 1393v-151l39-27v152zM2290 1242l-16-11l40-26l15 10z"/>
<path fill="#f6f21e" d="M2250 1419v-166l40-27v167zM2250 1253l-16-11l40-26l16 10z"/>
<path fill="#f9fb15" d="M2210 1445v-177l40-26v177zM2210 1268l-15-10l39-26l16 10z"/>
<path fill="#f9fb15" d="M2171 1472l-16-11v-183l16 10zM2171 1472v-184l39-26v183zM2171 1288l-16-10l40-26l15 10z"/>
<path fill="#f9d72d" d="M2131 1340l-15-10l39-26l16 10z"/>
<path fill="#f9fb15" d="M2092 1524l-16-10v-188l16 10zM2092 1524v-188l39-26v188zM2092 1336l-16-10l40-27l15 11z"/>
<path fill="#f9fb15" d="M2052 1550l-16-10v-182l16 10zM2052 1550v-182l40-26v182zM2052 1368l-16-10l40-27l16 11z"/>
<path fill="#f9fb15" d="M2012 1577l-15-11v-175l15 10zM2012 1577v-176l40-26v175zM2012 1401l-15-10l39-26l16 10z"/>
<path fill="#f9fb15" d="M1973 1603v-173l39-27v174zM1973 1430l-16-11l40-26l15 10z"/>
<path fill="#f9fb15" d="M1933 1629l-15-10v-185l15 10zM1933 1629v-185l40-26v185zM1933 1444l-15-10l39-27l16 11z"/>
<path fill="#f6f21e" d="M1894 1655v-164l39-27v165zM1894 1491l-16-11l40-26l15 10z"/>
<path fill="#f9fb15" d="M1854 1682l-16-11v-186l16 10zM1854 1682v-187l40-26v186zM1854 1495l-16-10l40-27l16 11z"/>
<path fill="#f9fb15" d="M1814 1708v-174l40-26v174zM1814 1534l-15-10l39-26l16 10z"/>
<path fill="#f9fb15" d="M1775 1734l-16-10v-185l16 10zM1775 1734v-185l39-26v185zM1775 1549l-16-10l40-26l15 10z"/>
<path fill="#f9fb15" d="M1735 1760v-173l40-26v173zM1735 1587l-15-10l39-27l16 11z"/>
<path fill="#f9fb15" d="M1696 1787l-16-11v-193l16 10zM1696 1787v-194l39-26v193zM1696 1593l-16-10l40-26l15 10z"/>
<path fill="#f6df29" d="M1656 1813l-16-10v-160l16 10zM1656 1653l-16-10l40-27l16 11z"/>
<path fill="#e0bc2a" d="M1616 1839l-15-10v-140l15 10zM1616 1699l-15-10l39-26l16 10z"/>
<path fill="#64cc6f" d="M1577 1865l-16-10v-116l16 10zM1577 1749l-16-10l40-26l15 10z"/>
<path fill="#17bfb6" d="M1537 1892l-15-11v-100l15 10zM1537 1892v-101l40-26v100zM1537 1791l-15-10l39-26l16 10z"/>
<path fill="#08b5cf" d="M1498 1918l-16-10v-90l16 11zM1498 1918v-89l39-27v90zM1498 1829l-16-11l40-26l15 10z"/>
<path fill="#1fa5e2" d="M1458 1944l-16-10v-81l16 11zM1458 1944v-80l40-26v80zM1458 1864l-16-11l40-26l16 11z"/>
<path fill="#2d8bf4" d="M1418 1970l-15-10v-69l15 10zM1418 1970v-69l40-26v69zM1418 1901l-15-10l39-26l16 10z"/>
<path fill="#2f84f9" d="M1379 1997l-16-11v-65l16 10zM1379 1997v-66l39-26v65zM1379 1931l-16-10l40-26l15 10z"/>
<path fill="#465cfa" d="M1339 2023l-15-10v-50l15 11zM1339 2023v-49l40-27v50zM1339 1974l-15-11l39-26l16 10z"/>
<path fill="#463ee0" d="M1300 2049l-16-10v-38l16 10zM1300 2049v-38l39-26v38zM1300 2011l-16-10l40-27l15 11z"/>
<path fill="#3e26a8" d="M1260 2075l-16-10v-13l16 10zM1260 2075v-13l40-26v13zM1260 2062l-16-10l40-26l16 10z"/>
<path fill="#3e26a8" d="M2795 1085l-16-10l40-27l15 11z"/>
<path fill="#3e26a8" d="M2755 1112l-15-10l39-27l16 11z"/>
<path fill="#3e26a8" d="M2716 1140l-16-10l40-27l15 11z"/>
<path fill="#3e26a8" d="M2676 1176l-16-10v-13l16 11zM2676 1164l-16-11l40-26l16 11z"/>
<path fill="#3e26a8" d="M2636 1193l-15-11l39-26l16 10z"/>
<path fill="#3e26a8" d="M2597 1211l-16-10l40-26l15 10z"/>
<path fill="#4331c7" d="M2557 1223l-15-10l39-26l16 10z"/>
<path fill="#4754f5" d="M2518 1281v-48l39-27v49zM2518 1233l-16-11l40-26l15 10z"/>
<path fill="#3a74fe" d="M2478 1308v-61l40-26v60zM2478 1247l-16-10l40-27l16 11z"/>
<path fill="#2d8bf4" d="M2438 1334v-69l40-26v69zM2438 1265l-15-10l39-26l16 10z"/>
<path fill="#1fa5e2" d="M2399 1360v-80l39-26v80zM2399 1280l-16-10l40-27l15 11z"/>
<path fill="#01b9c7" d="M2359 1386v-92l40-26v92zM2359 1294l-15-11l39-26l16 11z"/>
<path fill="#2fc5a2" d="M2320 1413v-104l39-27v104zM2320 1309l-16-11l40-26l15 10z"/>
<path fill="#76cc60" d="M2280 1439v-120l40-26v120zM2280 1319l-16-10l40-27l16 11z"/>
<path fill="#d1bf29" d="M2240 1465v-136l40-26v136zM2240 1329l-15-10l39-26l16 10z"/>
<path fill="#f9d72d" d="M2201 1491v-156l39-26v156zM2201 1335l-16-10l40-27l15 11z"/>
<path fill="#f9fb15" d="M2161 1518v-176l40-27v176zM2161 1342l-15-11l39-26l16 10z"/>
<path fill="#f9fb15" d="M2122 1544l-16-10v-193l16 11zM2122 1544v-192l39-27v193zM2122 1352l-16-11l40-26l15 10z"/>
<path fill="#f6f21e" d="M2082 1570v-164l40-26v164zM2082 1406l-16-11l40-26l16 11z"/>
<path fill="#f6f21e" d="M2042 1596l-15-10v-165l15 11zM2042 1596v-164l40-27v165zM2042 1432l-15-11l39-26l16 10z"/>
<path fill="#f9d72d" d="M2003 1467l-16-11l40-26l15 10z"/>
<path fill="#f9fb15" d="M1963 1649l-15-10v-204l15 11zM1963 1649v-203l40-27v204zM1963 1446l-15-11l39-26l16 10z"/>
<path fill="#f9fb15" d="M1924 1675v-174l39-27v175zM1924 1501l-16-11l40-26l15 10z"/>
<path fill="#f9fb15" d="M1884 1702l-16-11v-192l16 11zM1884 1702v-192l40-27v192zM1884 1510l-16-11l40-26l16 10z"/>
<path fill="#f9fb15" d="M1844 1728v-187l40-26v187zM1844 1541l-15-10l39-26l16 10z"/>
<path fill="#f9fb15" d="M1805 1754l-16-10v-207l16 11zM1805 1754v-206l39-27v207zM1805 1548l-16-11l40-26l15 10z"/>
<path fill="#f9fb15" d="M1765 1780l-15-10v-191l15 11zM1765 1780v-190l40-27v191zM1765 1590l-15-11l39-26l16 10z"/>
<path fill="#f9fb15" d="M1726 1807v-183l39-27v183zM1726 1624l-16-11l40-26l15 10z"/>
<path fill="#f9fb15" d="M1686 1833l-16-11v-208l16 11zM1686 1833v-208l40-26v208zM1686 1625l-16-11l40-26l16 11z"/>
<path fill="#f9fb15" d="M1646 1677l-15-11l39-26l16 10z"/>
<path fill="#f6df29" d="M1607 1885l-16-10v-160l16 10zM1607 1725l-16-10l40-27l15 11z"/>
<path fill="#e0bc2a" d="M1567 1912l-15-11v-137l15 10zM1567 1774l-15-10l39-26l16 10z"/>
<path fill="#52cc7e" d="M1528 1938l-16-11v-113l16 10zM1528 1938v-114l39-26v114zM1528 1824l-16-10l40-26l15 10z"/>
<path fill="#11b0d7" d="M1488 1964l-16-10v-86l16 10zM1488 1878l-16-10l40-26l16 10z"/>
<path fill="#2799e9" d="M1448 1990l-15-10v-74l15 10zM1448 1990v-74l40-26v74zM1448 1916l-15-10l39-26l16 10z"/>
<path fill="#327cfc" d="M1409 2017l-16-11v-62l16 11zM1409 2017v-62l39-27v62zM1409 1955l-16-11l40-26l15 10z"/>
<path fill="#484df0" d="M1369 2043l-15-11v-45l15 11zM1369 2043v-45l40-27v46zM1369 1998l-15-11l39-26l16 10z"/>
<path fill="#4331c7" d="M1330 2069l-16-10v-32l16 11zM1330 2069v-31l39-27v32zM1330 2038l-16-11l40-26l15 10z"/>
<path fill="#3e26a8" d="M1290 2095l-16-10v-18l16 10zM1290 2095v-18l40-26v18zM1290 2077l-16-10l40-26l16 10z"/>
<path fill="#406cfe" d="M2829 1120l-16-10v-56l16 11zM2829 1120v-55l39-27v56zM2829 1065l-16-11l40-26l15 10z"/>
<path fill="#4464fd" d="M2789 1146l-15-10v-53l15 10zM2789 1146v-53l40-26v53zM2789 1093l-15-10l39-26l16 10z"/>
<path fill="#465cfa" d="M2750 1173v-50l39-27v50zM2750 1123l-16-11l40-26l15 10z"/>
<path fill="#4464fd" d="M2710 1199v-54l40-26v54zM2710 1145l-16-10l40-26l16 10z"/>
<path fill="#4464fd" d="M2670 1225v-52l40-27v53zM2670 1173l-15-11l39-26l16 10z"/>
<path fill="#406cfe" d="M2631 1251v-58l39-26v58zM2631 1193l-16-10l40-26l15 10z"/>
<path fill="#3a74fe" d="M2591 1278v-59l40-26v58zM2591 1219l-15-10l39-27l16 11z"/>
<path fill="#327cfc" d="M2552 1304v-64l39-26v64zM2552 1240l-16-10l40-26l15 10z"/>
<path fill="#2f84f9" d="M2512 1330v-64l40-27v65zM2512 1266l-16-11l40-26l16 10z"/>
<path fill="#2d8bf4" d="M2472 1356v-69l40-27v70zM2472 1287l-15-11l39-26l16 10z"/>
<path fill="#239fe6" d="M2433 1383v-78l39-26v77zM2433 1305l-16-11l40-26l15 11z"/>
<path fill="#1fa5e2" d="M2393 1409v-80l40-26v80zM2393 1329l-15-10l39-27l16 11z"/>
<path fill="#08b5cf" d="M2354 1435v-91l39-26v91zM2354 1344l-16-10l40-26l15 10z"/>
<path fill="#0abcbf" d="M2314 1462v-97l40-26v96zM2314 1365l-16-10l40-27l16 11z"/>
<path fill="#52cc7e" d="M2274 1488v-113l40-26v113zM2274 1375l-15-10l39-27l16 11z"/>
<path fill="#b0c636" d="M2235 1514v-130l39-26v130zM2235 1384l-16-10l40-26l15 10z"/>
<path fill="#febe3c" d="M2195 1540v-147l40-26v147zM2195 1393l-15-10l39-26l16 10z"/>
<path fill="#f9fb15" d="M2156 1567v-194l39-26v193zM2156 1373l-16-10l40-27l15 11z"/>
<path fill="#f9fb15" d="M2116 1593l-16-11v-194l16 10zM2116 1593v-195l40-26v195zM2116 1398l-16-10l40-26l16 10z"/>
<path fill="#f9fb15" d="M2076 1619v-186l40-27v187zM2076 1433l-15-11l39-26l16 10z"/>
<path fill="#f9fb15" d="M2037 1645v-191l39-26v191zM2037 1454l-16-10l40-26l15 10z"/>
<path fill="#f9fb15" d="M1997 1672l-15-11v-198l15 10zM1997 1672v-199l40-26v198zM1997 1473l-15-10l39-26l16 10z"/>
<path fill="#f9fb15" d="M1958 1698l-16-11v-190l16 10zM1958 1698v-191l39-26v191zM1958 1507l-16-10l40-26l15 10z"/>
<path fill="#f9fb15" d="M1918 1724v-188l40-26v188zM1918 1536l-16-10l40-27l16 11z"/>
<path fill="#f9fb15" d="M1878 1750l-15-10v-203l15 10zM1878 1750v-203l40-26v203zM1878 1547l-15-10l39-27l16 11z"/>
<path fill="#f9fb15" d="M1839 1777v-186l39-26v185zM1839 1591l-16-10l40-26l15 10z"/>
<path fill="#f9fb15" d="M1799 1803l-15-11v-211l15 11zM1799 1803v-211l40-27v212zM1799 1592l-15-11l39-26l16 10z"/>
<path fill="#f9fb15" d="M1760 1829v-198l39-26v198zM1760 1631l-16-10l40-26l15 10z"/>
<path fill="#f9fb15" d="M1720 1855l-16-10v-217l16 10zM1720 1855v-217l40-26v217zM1720 1638l-16-10l40-26l16 10z"/>
<path fill="#f9fb15" d="M1680 1882v-207l40-27v207zM1680 1675l-15-11l39-26l16 10z"/>
<path fill="#f9fb15" d="M1641 1908l-16-11v-227l16 10zM1641 1908v-228l39-26v228zM1641 1680l-16-10l40-26l15 10z"/>
<path fill="#f9fb15" d="M1601 1934l-15-10v-187l15 10zM1601 1934v-187l40-26v187zM1601 1747l-15-10l39-26l16 10z"/>
<path fill="#f9fb15" d="M1562 1960l-16-10v-173l16 11zM1562 1960v-172l39-27v173zM1562 1788l-16-11l40-26l15 10z"/>
<path fill="#d1bf29" d="M1522 1987l-16-11v-136l16 10zM1522 1987v-137l40-26v136zM1522 1850l-16-10l40-26l16 10z"/>
<path fill="#42ca8b" d="M1482 2013l-15-10v-111l15 11zM1482 2013v-110l40-27v111zM1482 1903l-15-11l39-26l16 10z"/>
<path fill="#1babdd" d="M1443 2039l-16-10v-84l16 10zM1443 2039v-84l39-26v84zM1443 1955l-16-10l40-26l15 10z"/>
<path fill="#4745e9" d="M1403 2065l-15-10v-42l15 10zM1403 2065v-42l40-26v42zM1403 2023l-15-10l39-26l16 10z"/>
<path fill="#402cb8" d="M1364 2092l-16-11v-28l16 10zM1364 2092v-29l39-26v28zM1364 2063l-16-10l40-27l15 11z"/>
<path fill="#3e26a8" d="M1324 2118l-16-10v-13l16 10zM1324 2118v-13l40-26v13zM1324 2105l-16-10l40-27l16 11z"/>
<path fill="#484df0" d="M2908 1172v-43l39-27v44zM2908 1129l-16-11l40-26l15 10z"/>
<path fill="#465cfa" d="M2868 1199l-16-11v-51l16 11zM2868 1199v-51l40-27v51zM2868 1148l-16-11l40-26l16 10z"/>
<path fill="#484df0" d="M2828 1225v-46l40-26v46zM2828 1179l-15-10l39-26l16 10z"/>
<path fill="#4754f5" d="M2789 1251l-16-10v-47l16 11zM2789 1251v-46l39-27v47zM2789 1205l-16-11l40-26l15 10z"/>
<path fill="#4745e9" d="M2749 1277v-42l40-26v42zM2749 1235l-15-11l39-26l16 11z"/>
<path fill="#4754f5" d="M2710 1304v-48l39-26v47zM2710 1256l-16-10l40-27l15 11z"/>
<path fill="#406cfe" d="M2670 1330v-56l40-26v56zM2670 1274l-16-10l40-26l16 10z"/>
<path fill="#406cfe" d="M2630 1356v-56l40-26v56zM2630 1300l-15-10l39-26l16 10z"/>
<path fill="#3a74fe" d="M2591 1382v-60l39-26v60zM2591 1322l-16-10l40-27l15 11z"/>
<path fill="#327cfc" d="M2551 1409v-64l40-26v63zM2551 1345l-15-10l39-27l16 11z"/>
<path fill="#2d8bf4" d="M2512 1435v-69l39-27v70zM2512 1366l-16-11l40-26l15 10z"/>
<path fill="#239fe6" d="M2472 1461v-76l40-26v76zM2472 1385l-16-10l40-27l16 11z"/>
<path fill="#1babdd" d="M2432 1488v-83l40-27v83zM2432 1405l-15-11l39-26l16 10z"/>
<path fill="#08b5cf" d="M2393 1514v-89l39-26v89zM2393 1425l-16-10l40-27l15 11z"/>
<path fill="#26c2ad" d="M2353 1540v-102l40-26v102zM2353 1438l-15-11l39-26l16 11z"/>
<path fill="#64cc6f" d="M2314 1566v-118l39-27v119zM2314 1448l-16-11l40-26l15 10z"/>
<path fill="#d1bf29" d="M2274 1593v-137l40-26v136zM2274 1456l-16-10l40-26l16 10z"/>
<path fill="#f9d72d" d="M2234 1619v-157l40-27v158zM2234 1462l-15-11l39-26l16 10z"/>
<path fill="#f5e924" d="M2195 1645v-163l39-26v163zM2195 1482l-16-10l40-27l15 11z"/>
<path fill="#f9fb15" d="M2155 1671l-15-10v-169l15 10zM2155 1671v-169l40-26v169zM2155 1502l-15-10l39-27l16 11z"/>
<path fill="#f5e924" d="M2116 1698v-163l39-26v162zM2116 1535l-16-10l40-27l15 11z"/>
<path fill="#f9fb15" d="M2076 1724v-177l40-26v177zM2076 1547l-16-11l40-26l16 11z"/>
<path fill="#f9fb15" d="M2036 1750l-15-10v-199l15 11zM2036 1750v-198l40-27v199zM2036 1552l-15-11l39-26l16 10z"/>
<path fill="#f9fb15" d="M1997 1776l-16-10v-189l16 10zM1997 1776v-189l39-26v189zM1997 1587l-16-10l40-27l15 11z"/>
<path fill="#f9fb15" d="M1957 1803l-15-11v-169l15 10zM1957 1803v-170l40-26v169zM1957 1633l-15-10l39-27l16 11z"/>
<path fill="#f9fb15" d="M1918 1829v-168l39-26v168zM1918 1661l-16-10l40-27l15 11z"/>
<path fill="#f9fb15" d="M1878 1855l-16-10v-206l16 10zM1878 1855v-206l40-26v206zM1878 1649l-16-10l40-26l16 10z"/>
<path fill="#f9fb15" d="M1838 1881v-185l40-26v185zM1838 1696l-15-10l39-27l16 11z"/>
<path fill="#f9fb15" d="M1799 1908l-16-11v-199l16 10zM1799 1908v-200l39-26v199zM1799 1708l-16-10l40-26l15 10z"/>
<path fill="#f9fb15" d="M1759 1934l-15-11v-180l15 10zM1759 1934v-181l40-26v181zM1759 1753l-15-10l39-27l16 11z"/>
<path fill="#f9fb15" d="M1720 1960l-16-10v-176l16 11zM1720 1960v-175l39-26v175zM1720 1785l-16-11l40-26l15 11z"/>
<path fill="#f6f21e" d="M1680 1986l-16-10v-167l16 10zM1680 1986v-167l40-26v167zM1680 1819l-16-10l40-26l16 10z"/>
<path fill="#fcce31" d="M1640 2013l-15-11v-153l15 10zM1640 2013v-154l40-26v153zM1640 1859l-15-10l39-27l16 11z"/>
<path fill="#fec636" d="M1601 2039l-16-10v-151l16 10zM1601 2039v-151l39-26v151zM1601 1888l-16-10l40-27l15 11z"/>
<path fill="#febe3c" d="M1561 2065v-147l40-26v147zM1561 1918l-15-10l39-27l16 11z"/>
<path fill="#febe3c" d="M1522 2091l-16-10v-147l16 11zM1522 2091v-146l39-27v147zM1522 1945l-16-11l40-26l15 10z"/>
<path fill="#76cc60" d="M1482 2118l-16-11v-121l16 10zM1482 2118v-122l40-26v121zM1482 1996l-16-10l40-26l16 10z"/>
<path fill="#08b5cf" d="M1442 2144l-15-10v-89l15 10zM1442 2144v-89l40-26v89zM1442 2055l-15-10l39-26l16 10z"/>
<path fill="#2b92ee" d="M1403 2170l-16-10v-71l16 10zM1403 2170v-71l39-26v71zM1403 2099l-16-10l40-26l15 10z"/>
<path fill="#4745e9" d="M2942 1196l-15-11v-40l15 10zM2942 1196v-41l40-26v40zM2942 1155l-15-10l39-27l16 11z"/>
<path fill="#4537d5" d="M2903 1222l-16-11v-36l16 11zM2903 1222v-36l39-26v36zM2903 1186l-16-11l40-26l15 11z"/>
<path fill="#4331c7" d="M2863 1248v-33l40-26v33zM2863 1215l-15-11l39-26l16 11z"/>
<path fill="#4745e9" d="M2824 1274v-41l39-27v42zM2824 1233l-16-11l40-26l15 10z"/>
<path fill="#4745e9" d="M2784 1301l-16-11v-42l16 10zM2784 1301v-43l40-26v42zM2784 1258l-16-10l40-27l16 11z"/>
<path fill="#4745e9" d="M2744 1327v-42l40-27v43zM2744 1285l-15-11l39-26l16 10z"/>
<path fill="#4754f5" d="M2705 1353v-49l39-26v49zM2705 1304l-16-10l40-26l15 10z"/>
<path fill="#406cfe" d="M2665 1379v-55l40-27v56zM2665 1324l-15-11l39-26l16 10z"/>
<path fill="#406cfe" d="M2626 1406v-57l39-27v57zM2626 1349l-16-11l40-26l15 10z"/>
<path fill="#2f84f9" d="M2586 1432v-64l40-27v65zM2586 1368l-16-11l40-26l16 10z"/>
<path fill="#2d8bf4" d="M2546 1458v-68l40-26v68zM2546 1390l-15-10l39-26l16 10z"/>
<path fill="#2799e9" d="M2507 1484v-73l39-26v73zM2507 1411l-16-11l40-26l15 11z"/>
<path fill="#1fa5e2" d="M2467 1511v-81l40-26v80zM2467 1430l-15-10l39-26l16 10z"/>
<path fill="#11b0d7" d="M2428 1537v-88l39-26v88zM2428 1449l-16-10l40-26l15 10z"/>
<path fill="#17bfb6" d="M2388 1563v-100l40-26v100zM2388 1463l-16-10l40-27l16 11z"/>
<path fill="#42ca8b" d="M2348 1589v-111l40-27v112zM2348 1478l-15-11l39-26l16 10z"/>
<path fill="#b0c636" d="M2309 1616v-130l39-26v129zM2309 1486l-16-11l40-26l15 11z"/>
<path fill="#fcce31" d="M2269 1642v-153l40-27v154zM2269 1489l-15-11l39-26l16 10z"/>
<path fill="#f6f21e" d="M2230 1668v-167l39-26v167zM2230 1501l-16-10l40-26l15 10z"/>
<path fill="#f5e924" d="M2190 1531l-16-10l40-26l16 10z"/>
<path fill="#f6f21e" d="M2150 1721l-15-11v-166l15 10zM2150 1721v-167l40-26v166zM2150 1554l-15-10l39-26l16 10z"/>
<path fill="#f9d72d" d="M2111 1747v-158l39-26v158zM2111 1589l-16-11l40-26l15 11z"/>
<path fill="#f9fb15" d="M2071 1773v-174l40-26v174zM2071 1599l-15-10l39-27l16 11z"/>
<path fill="#f9fb15" d="M2032 1799l-16-10v-198l16 10zM2032 1799v-198l39-26v198zM2032 1601l-16-10l40-27l15 11z"/>
<path fill="#f6df29" d="M1992 1826v-159l40-26v158zM1992 1667l-16-10l40-27l16 11z"/>
<path fill="#f9fb15" d="M1952 1852l-15-10v-181l15 11zM1952 1852v-180l40-27v181zM1952 1672l-15-11l39-26l16 10z"/>
<path fill="#f6df29" d="M1913 1719l-16-10l40-27l15 11z"/>
<path fill="#f9fb15" d="M1834 1931v-186l39-26v185zM1834 1745l-16-10l40-26l15 10z"/>
<path fill="#f9fb15" d="M1794 1957l-16-10v-192l16 10zM1794 1957v-192l40-26v192zM1794 1765l-16-10l40-26l16 10z"/>
<path fill="#f9fb15" d="M1754 1983l-15-10v-179l15 11zM1754 1983v-178l40-27v179zM1754 1805l-15-11l39-26l16 10z"/>
<path fill="#f5e924" d="M1715 2009l-16-10v-162l16 10zM1715 2009v-162l39-26v162zM1715 1847l-16-10l40-26l15 10z"/>
<path fill="#fcce31" d="M1675 2036l-15-11v-153l15 10zM1675 2036v-154l40-26v153zM1675 1882l-15-10l39-26l16 10z"/>
<path fill="#fcce31" d="M1636 2062l-16-10v-153l16 10zM1636 2062v-153l39-26v153zM1636 1909l-16-10l40-26l15 10z"/>
<path fill="#febe3c" d="M1596 2088l-16-10v-149l16 10zM1596 2088v-149l40-26v149zM1596 1939l-16-10l40-26l16 10z"/>
<path fill="#f7bb3a" d="M1556 2114l-15-10v-144l15 11zM1556 2114v-143l40-26v143zM1556 1971l-15-11l39-26l16 11z"/>
<path fill="#8acb51" d="M1517 2141l-16-11v-122l16 11zM1517 2141v-122l39-27v122zM1517 2019l-16-11l40-26l15 10z"/>
<path fill="#11b0d7" d="M1477 2167l-15-10v-88l15 10zM1477 2167v-88l40-26v88zM1477 2079l-15-10l39-27l16 11z"/>
<path fill="#3e26a8" d="M1438 2193l-16-10v-27l16 10zM1438 2193v-27l39-26v27zM1438 2166l-16-10l40-27l15 11z"/>
<path fill="#4537d5" d="M2968 1212l-16-10v-35l16 10zM2968 1212v-35l39-26v35zM2968 1177l-16-10l40-26l15 10z"/>
<path fill="#4331c7" d="M2928 1238l-16-10v-32l16 10zM2928 1238v-32l40-26v32zM2928 1206l-16-10l40-27l16 11z"/>
<path fill="#4331c7" d="M2888 1265v-32l40-26v31zM2888 1233l-15-10l39-27l16 11z"/>
<path fill="#4331c7" d="M2849 1291v-33l39-26v33zM2849 1258l-16-10l40-26l15 10z"/>
<path fill="#4537d5" d="M2809 1317v-35l40-27v36zM2809 1282l-15-11l39-26l16 10z"/>
<path fill="#4754f5" d="M2770 1343l-16-10v-48l16 11zM2770 1343v-47l39-27v48zM2770 1296l-16-11l40-26l15 10z"/>
<path fill="#4745e9" d="M2730 1370v-43l40-26v42zM2730 1327l-16-10l40-27l16 11z"/>
<path fill="#465cfa" d="M2690 1396v-51l40-26v51zM2690 1345l-15-10l39-27l16 11z"/>
<path fill="#406cfe" d="M2651 1422v-55l39-26v55zM2651 1367l-16-10l40-27l15 11z"/>
<path fill="#327cfc" d="M2611 1449v-62l40-26v61zM2611 1387l-15-10l39-26l16 10z"/>
<path fill="#2d8bf4" d="M2572 1475v-68l39-26v68zM2572 1407l-16-10l40-26l15 10z"/>
<path fill="#2799e9" d="M2532 1501v-74l40-26v74zM2532 1427l-16-10l40-27l16 11z"/>
<path fill="#1fa5e2" d="M2492 1527v-79l40-27v80zM2492 1448l-15-11l39-26l16 10z"/>
<path fill="#1babdd" d="M2453 1554v-85l39-26v84zM2453 1469l-16-11l40-26l15 11z"/>
<path fill="#17bfb6" d="M2413 1580v-99l40-26v99zM2413 1481l-15-10l39-27l16 11z"/>
<path fill="#42ca8b" d="M2374 1606v-111l39-26v111zM2374 1495l-16-11l40-26l15 11z"/>
<path fill="#b0c636" d="M2334 1632v-129l40-26v129zM2334 1503l-16-10l40-26l16 10z"/>
<path fill="#fec636" d="M2294 1659v-151l40-26v150zM2294 1508l-15-10l39-26l16 10z"/>
<path fill="#fec636" d="M2255 1685v-150l39-26v150zM2255 1535l-16-10l40-26l15 10z"/>
<path fill="#f9fb15" d="M2215 1711l-15-10v-205l15 11zM2215 1711v-204l40-26v204zM2215 1507l-15-11l39-26l16 11z"/>
<path fill="#f9fb15" d="M2176 1737l-16-10v-184l16 11zM2176 1737v-183l39-27v184zM2176 1554l-16-11l40-26l15 10z"/>
<path fill="#f6df29" d="M2136 1764v-161l40-26v160zM2136 1603l-16-10l40-26l16 10z"/>
<path fill="#f9fb15" d="M2096 1790v-179l40-26v179zM2096 1611l-15-11l39-26l16 11z"/>
<path fill="#f9fb15" d="M2057 1816l-16-10v-204l16 10zM2057 1816v-204l39-26v204zM2057 1612l-16-10l40-27l15 11z"/>
<path fill="#f9fb15" d="M2017 1842l-15-10v-198l15 10zM2017 1842v-198l40-26v198zM2017 1644l-15-10l39-26l16 10z"/>
<path fill="#f5e924" d="M1978 1869v-163l39-26v162zM1978 1706l-16-10l40-26l15 10z"/>
<path fill="#f9fb15" d="M1938 1895v-179l40-26v179zM1938 1716l-16-10l40-27l16 11z"/>
<path fill="#f9fb15" d="M1898 1921l-15-10v-209l15 11zM1898 1921v-208l40-27v209zM1898 1713l-15-11l39-26l16 10z"/>
<path fill="#f9fb15" d="M1859 1947l-16-10v-205l16 10zM1859 1947v-205l39-26v205zM1859 1742l-16-10l40-27l15 11z"/>
<path fill="#f9fb15" d="M1819 1974v-181l40-27v181zM1819 1793l-15-11l39-26l16 10z"/>
<path fill="#f9fb15" d="M1780 2000l-16-10v-197l16 10zM1780 2000v-197l39-26v197zM1780 1803l-16-10l40-27l15 11z"/>
<path fill="#f6f21e" d="M1740 2026l-16-10v-166l16 10zM1740 2026v-166l40-26v166zM1740 1860l-16-10l40-26l16 10z"/>
<path fill="#fcce31" d="M1700 2052l-15-10v-154l15 10zM1700 2052v-154l40-26v154zM1700 1898l-15-10l39-26l16 10z"/>
<path fill="#fec636" d="M1661 2079l-16-11v-150l16 10zM1661 2079v-151l39-26v150zM1661 1928l-16-10l40-27l15 11z"/>
<path fill="#febe3c" d="M1621 2105l-15-10v-147l15 10zM1621 2105v-147l40-26v147zM1621 1958l-15-10l39-26l16 10z"/>
<path fill="#ecba34" d="M1582 2131l-16-10v-143l16 11zM1582 2131v-142l39-27v143zM1582 1989l-16-11l40-26l15 10z"/>
<path fill="#8acb51" d="M1542 2157l-16-10v-125l16 11zM1542 2157v-124l40-26v124zM1542 2033l-16-11l40-26l16 11z"/>
<path fill="#08b5cf" d="M1502 2184l-15-11v-88l15 10zM1502 2184v-89l40-26v88zM1502 2095l-15-10l39-27l16 11z"/>
<path fill="#2b92ee" d="M1463 2210l-16-10v-74l16 11zM1463 2210v-73l39-27v74zM1463 2137l-16-11l40-26l15 10z"/>
<path fill="#402cb8" d="M3000 1233v-28l39-26v28zM3000 1205l-16-10l40-26l15 10z"/>
<path fill="#4331c7" d="M2960 1260l-16-11v-33l16 11zM2960 1260v-33l40-26v32zM2960 1227l-16-11l40-26l16 11z"/>
<path fill="#3e26a8" d="M2920 1286v-28l40-26v28zM2920 1258l-15-10l39-26l16 10z"/>
<path fill="#4537d5" d="M2881 1312l-16-10v-36l16 11zM2881 1312v-35l39-26v35zM2881 1277l-16-11l40-26l15 11z"/>
<path fill="#4537d5" d="M2841 1338l-15-10v-34l15 10zM2841 1338v-34l40-26v34zM2841 1304l-15-10l39-26l16 10z"/>
<path fill="#4331c7" d="M2802 1365v-32l39-26v31zM2802 1333l-16-10l40-26l15 10z"/>
<path fill="#484df0" d="M2762 1391v-43l40-27v44zM2762 1348l-16-11l40-26l16 10z"/>
<path fill="#4754f5" d="M2722 1417v-48l40-26v48zM2722 1369l-15-10l39-26l16 10z"/>
<path fill="#406cfe" d="M2683 1443v-56l39-26v56zM2683 1387l-16-10l40-26l15 10z"/>
<path fill="#3a74fe" d="M2643 1470v-61l40-26v60zM2643 1409l-15-10l39-27l16 11z"/>
<path fill="#2f84f9" d="M2604 1496v-64l39-27v65zM2604 1432l-16-11l40-26l15 10z"/>
<path fill="#2d8bf4" d="M2564 1522v-69l40-27v70zM2564 1453l-16-11l40-26l16 10z"/>
<path fill="#2799e9" d="M2524 1548v-74l40-26v74zM2524 1474l-15-10l39-26l16 10z"/>
<path fill="#1babdd" d="M2485 1575v-83l39-26v82zM2485 1492l-16-10l40-27l15 11z"/>
<path fill="#01b9c7" d="M2445 1601v-93l40-27v94zM2445 1508l-15-11l39-26l16 10z"/>
<path fill="#2fc5a2" d="M2406 1627v-105l39-27v106zM2406 1522l-16-11l40-26l15 10z"/>
<path fill="#76cc60" d="M2366 1654v-119l40-27v119zM2366 1535l-16-11l40-26l16 10z"/>
<path fill="#d1bf29" d="M2326 1680v-137l40-26v137zM2326 1543l-15-10l39-27l16 11z"/>
<path fill="#f9d72d" d="M2287 1706v-157l39-27v158zM2287 1549l-16-11l40-26l15 10z"/>
<path fill="#f9fb15" d="M2247 1732v-177l40-26v177zM2247 1555l-15-10l39-26l16 10z"/>
<path fill="#f9fb15" d="M2208 1759l-16-11v-183l16 10zM2208 1759v-184l39-26v183zM2208 1575l-16-10l40-27l15 11z"/>
<path fill="#f9fb15" d="M2168 1785l-16-11v-174l16 11zM2168 1785v-174l40-26v174zM2168 1611l-16-11l40-26l16 11z"/>
<path fill="#e0bc2a" d="M2128 1671l-15-10l39-26l16 10z"/>
<path fill="#f9fb15" d="M2089 1837l-16-10v-216l16 10zM2089 1837v-216l39-26v216zM2089 1621l-16-10l40-27l15 11z"/>
<path fill="#f9fb15" d="M2049 1864l-15-11v-196l15 11zM2049 1864v-196l40-27v196zM2049 1668l-15-11l39-26l16 10z"/>
<path fill="#f9fb15" d="M2010 1890v-173l39-27v174zM2010 1717l-16-11l40-26l15 10z"/>
<path fill="#f9fb15" d="M1970 1916v-173l40-26v173zM1970 1743l-16-10l40-27l16 11z"/>
<path fill="#f9fb15" d="M1930 1942l-15-10v-186l15 11zM1930 1942v-185l40-26v185zM1930 1757l-15-11l39-26l16 11z"/>
<path fill="#f9fb15" d="M1891 1798l-16-10l40-27l15 11z"/>
<path fill="#f9fb15" d="M1851 1995l-15-11v-179l15 11zM1851 1995v-179l40-26v179zM1851 1816l-15-11l39-26l16 11z"/>
<path fill="#f9fb15" d="M1772 2047l-16-10v-204l16 10zM1772 2047v-204l40-26v204zM1772 1843l-16-10l40-27l16 11z"/>
<path fill="#f6f21e" d="M1732 2074l-15-11v-167l15 11zM1732 2074v-167l40-26v166zM1732 1907l-15-11l39-26l16 11z"/>
<path fill="#fcce31" d="M1693 2100l-16-10v-155l16 10zM1693 2100v-155l39-26v155zM1693 1945l-16-10l40-26l15 10z"/>
<path fill="#febe3c" d="M1653 2126l-15-10v-148l15 10zM1653 2126v-148l40-26v148zM1653 1978l-15-10l39-26l16 10z"/>
<path fill="#f7bb3a" d="M1614 2152l-16-10v-144l16 10zM1614 2152v-144l39-26v144zM1614 2008l-16-10l40-26l15 10z"/>
<path fill="#8acb51" d="M1574 2179l-16-11v-122l16 11zM1574 2179v-122l40-27v122zM1574 2057l-16-11l40-26l16 10z"/>
<path fill="#01b9c7" d="M1534 2205l-15-10v-93l15 11zM1534 2205v-92l40-26v92zM1534 2113l-15-11l39-26l16 11z"/>
<path fill="#3e26a8" d="M1495 2231l-16-10v-24l16 10zM1495 2231v-24l39-26v24zM1495 2207l-16-10l40-27l15 11z"/>
<path fill="#3e26a8" d="M3036 1257v-25l39-26v25zM3036 1232l-16-10l40-26l15 10z"/>
<path fill="#3e26a8" d="M2996 1284v-28l40-26v27zM2996 1256l-16-10l40-26l16 10z"/>
<path fill="#3e26a8" d="M2956 1310v-28l40-26v28zM2956 1282l-15-10l39-26l16 10z"/>
<path fill="#402cb8" d="M2917 1336l-16-10v-29l16 11zM2917 1336v-28l39-26v28zM2917 1308l-16-11l40-26l15 11z"/>
<path fill="#3e26a8" d="M2877 1362v-23l40-27v24zM2877 1339l-15-11l39-26l16 10z"/>
<path fill="#402cb8" d="M2838 1389v-28l39-27v28zM2838 1361l-16-11l40-26l15 10z"/>
<path fill="#4537d5" d="M2798 1415v-35l40-26v35zM2798 1380l-16-10l40-26l16 10z"/>
<path fill="#4745e9" d="M2758 1441v-41l40-26v41zM2758 1400l-15-10l39-27l16 11z"/>
<path fill="#4464fd" d="M2719 1467v-53l39-26v53zM2719 1414l-16-10l40-26l15 10z"/>
<path fill="#406cfe" d="M2679 1494v-56l40-26v55zM2679 1438l-15-10l39-27l16 11z"/>
<path fill="#3a74fe" d="M2640 1520v-61l39-26v61zM2640 1459l-16-10l40-26l15 10z"/>
<path fill="#2f84f9" d="M2600 1546v-65l40-26v65zM2600 1481l-16-10l40-26l16 10z"/>
<path fill="#2b92ee" d="M2560 1572v-70l40-26v70zM2560 1502l-15-10l39-27l16 11z"/>
<path fill="#2799e9" d="M2521 1599v-75l39-27v75zM2521 1524l-16-11l40-26l15 10z"/>
<path fill="#1babdd" d="M2481 1625v-84l40-26v84zM2481 1541l-15-10l39-26l16 10z"/>
<path fill="#01b9c7" d="M2442 1651v-93l39-26v93zM2442 1558l-16-10l40-26l15 10z"/>
<path fill="#38c897" d="M2402 1677v-106l40-27v107zM2402 1571l-16-11l40-26l16 10z"/>
<path fill="#8acb51" d="M2362 1704v-125l40-26v124zM2362 1579l-15-10l39-26l16 10z"/>
<path fill="#ecba34" d="M2323 1730v-141l39-27v142zM2323 1589l-16-11l40-26l15 10z"/>
<path fill="#f6df29" d="M2283 1756l-15-10v-161l15 10zM2283 1756v-161l40-26v161zM2283 1595l-15-10l39-27l16 11z"/>
<path fill="#f9fb15" d="M2204 1809l-16-11v-192l16 10zM2204 1809v-193l40-26v192zM2204 1616l-16-10l40-26l16 10z"/>
<path fill="#f9fb15" d="M2164 1835v-174l40-26v174zM2164 1661l-15-10l39-26l16 10z"/>
<path fill="#f9fb15" d="M2125 1861v-179l39-27v180zM2125 1682l-16-11l40-26l15 10z"/>
<path fill="#f9fb15" d="M2085 1887l-15-10v-203l15 10zM2085 1887v-203l40-26v203zM2085 1684l-15-10l39-27l16 11z"/>
<path fill="#f9fb15" d="M2046 1914v-187l39-26v186zM2046 1727l-16-10l40-27l15 11z"/>
<path fill="#f5e924" d="M2006 1776l-16-10l40-26l16 10z"/>
<path fill="#f9fb15" d="M1966 1966v-176l40-27v177zM1966 1790l-15-11l39-26l16 10z"/>
<path fill="#f9fb15" d="M1927 1992l-16-10v-218l16 10zM1927 1992v-218l39-26v218zM1927 1774l-16-10l40-26l15 10z"/>
<path fill="#f9fb15" d="M1887 2019l-15-11v-213l15 10zM1887 2019v-214l40-26v213zM1887 1805l-15-10l39-27l16 11z"/>
<path fill="#f9fb15" d="M1848 2045v-188l39-27v189zM1848 1857l-16-11l40-26l15 10z"/>
<path fill="#f9fb15" d="M1808 2071l-16-10v-211l16 10zM1808 2071v-211l40-26v211zM1808 1860l-16-10l40-26l16 10z"/>
<path fill="#f9fb15" d="M1768 2097v-167l40-27v168zM1768 1930l-15-11l39-26l16 10z"/>
<path fill="#f9fb15" d="M1729 2124l-16-11v-173l16 10zM1729 2124v-174l39-26v173zM1729 1950l-16-10l40-27l15 11z"/>
<path fill="#febe3c" d="M1689 2150l-15-10v-148l15 10zM1689 2150v-148l40-26v148zM1689 2002l-15-10l39-26l16 10z"/>
<path fill="#f7bb3a" d="M1650 2176l-16-10v-143l16 10zM1650 2176v-143l39-26v143zM1650 2033l-16-10l40-27l15 11z"/>
<path fill="#8acb51" d="M1610 2202l-16-10v-124l16 11zM1610 2202v-123l40-27v124zM1610 2079l-16-11l40-26l16 10z"/>
<path fill="#11b0d7" d="M1570 2229l-15-11v-87l15 11zM1570 2229v-87l40-26v86zM1570 2142l-15-11l39-26l16 11z"/>
<path fill="#2b92ee" d="M1531 2255l-16-10v-73l16 10zM1531 2255v-73l39-26v73zM1531 2182l-16-10l40-27l15 11z"/>
<path fill="#3e26a8" d="M3066 1277v-25l39-27v26zM3066 1252l-16-11l40-26l15 10z"/>
<path fill="#3e26a8" d="M3026 1303l-16-10v-27l16 10zM3026 1303v-27l40-26v27zM3026 1276l-16-10l40-26l16 10z"/>
<path fill="#3e26a8" d="M2986 1330l-15-11v-23l15 10zM2986 1330v-24l40-26v23zM2986 1306l-15-10l39-27l16 11z"/>
<path fill="#3e26a8" d="M2947 1356v-22l39-27v23zM2947 1334l-16-11l40-26l15 10z"/>
<path fill="#3e26a8" d="M2907 1382l-15-10v-25l15 10zM2907 1382v-25l40-26v25zM2907 1357l-15-10l39-27l16 11z"/>
<path fill="#3e26a8" d="M2868 1408v-16l39-27v17zM2868 1392l-16-11l40-26l15 10z"/>
<path fill="#3e26a8" d="M2828 1435v-22l40-26v21zM2828 1413l-16-10l40-27l16 11z"/>
<path fill="#402cb8" d="M2788 1461v-30l40-26v30zM2788 1431l-15-10l39-26l16 10z"/>
<path fill="#484df0" d="M2749 1487v-45l39-26v45zM2749 1442l-16-10l40-26l15 10z"/>
<path fill="#4464fd" d="M2709 1513v-52l40-27v53zM2709 1461l-15-11l39-26l16 10z"/>
<path fill="#406cfe" d="M2670 1540v-58l39-26v57zM2670 1482l-16-10l40-27l15 11z"/>
<path fill="#327cfc" d="M2630 1566v-63l40-27v64zM2630 1503l-16-11l40-26l16 10z"/>
<path fill="#2f84f9" d="M2590 1592v-67l40-26v67zM2590 1525l-15-10l39-27l16 11z"/>
<path fill="#2b92ee" d="M2551 1619v-73l39-26v72zM2551 1546l-16-10l40-26l15 10z"/>
<path fill="#239fe6" d="M2511 1645v-78l40-26v78zM2511 1567l-15-10l39-26l16 10z"/>
<path fill="#1babdd" d="M2472 1671v-83l39-26v83zM2472 1588l-16-10l40-26l15 10z"/>
<path fill="#0abcbf" d="M2432 1697v-97l40-26v97zM2432 1600l-16-10l40-27l16 11z"/>
<path fill="#42ca8b" d="M2392 1724v-113l40-26v112zM2392 1611l-15-10l39-27l16 11z"/>
<path fill="#b0c636" d="M2353 1750v-130l39-27v131zM2353 1620l-16-11l40-26l15 10z"/>
<path fill="#fcce31" d="M2313 1776v-152l40-27v153zM2313 1624l-15-11l39-26l16 10z"/>
<path fill="#f9fb15" d="M2274 1802l-16-10v-197l16 11zM2274 1802v-196l39-26v196zM2274 1606l-16-11l40-26l15 11z"/>
<path fill="#f9fb15" d="M2234 1829v-188l40-27v188zM2234 1641l-16-11l40-26l16 10z"/>
<path fill="#f9fb15" d="M2194 1855l-15-11v-211l15 10zM2194 1855v-212l40-26v212zM2194 1643l-15-10l39-26l16 10z"/>
<path fill="#f6f21e" d="M2155 1881v-165l39-26v165zM2155 1716l-16-10l40-27l15 11z"/>
<path fill="#f9fb15" d="M2115 1907v-170l40-26v170zM2115 1737l-15-10l39-27l16 11z"/>
<path fill="#f9fb15" d="M2076 1934v-194l39-27v194zM2076 1740l-16-11l40-26l15 10z"/>
<path fill="#f9fb15" d="M2036 1960l-16-11v-229l16 10zM2036 1960v-230l40-26v230zM2036 1730l-16-10l40-27l16 11z"/>
<path fill="#f9fb15" d="M1996 1986l-15-10v-200l15 10zM1996 1986v-200l40-26v200zM1996 1786l-15-10l39-26l16 10z"/>
<path fill="#f9fb15" d="M1957 1844l-16-10l40-27l15 11z"/>
<path fill="#f9fb15" d="M1917 2039l-15-11v-212l15 11zM1917 2039v-212l40-27v212zM1917 1827l-15-11l39-26l16 10z"/>
<path fill="#f9fb15" d="M1838 1898l-16-10l40-26l16 10z"/>
<path fill="#f9fb15" d="M1798 2117l-15-10v-213l15 10zM1798 2117v-213l40-26v213zM1798 1904l-15-10l39-27l16 11z"/>
<path fill="#f9fb15" d="M1759 2144l-16-11v-170l16 10zM1759 2144v-171l39-26v170zM1759 1973l-16-10l40-26l15 10z"/>
<path fill="#fec636" d="M1719 2170l-15-10v-152l15 11zM1719 2170v-151l40-27v152zM1719 2019l-15-11l39-26l16 10z"/>
<path fill="#ecba34" d="M1680 2196l-16-10v-142l16 10zM1680 2196v-142l39-26v142zM1680 2054l-16-10l40-27l15 11z"/>
<path fill="#8acb51" d="M1640 2222l-16-10v-124l16 11zM1640 2222v-123l40-26v123zM1640 2099l-16-11l40-26l16 11z"/>
<path fill="#11b0d7" d="M1600 2249l-15-11v-88l15 10zM1600 2249v-89l40-26v88zM1600 2160l-15-10l39-26l16 10z"/>
<path fill="#3e26a8" d="M1561 2275l-16-10v-25l16 10zM1561 2275v-25l39-26v25zM1561 2250l-16-10l40-27l15 11z"/>
<path fill="#3e26a8" d="M3096 1297v-14l39-27v15zM3096 1283l-16-11l40-26l15 10z"/>
<path fill="#3e26a8" d="M3056 1323v-17l40-26v17zM3056 1306l-16-10l40-26l16 10z"/>
<path fill="#3e26a8" d="M3016 1350l-15-11v-18l15 10zM3016 1350v-19l40-26v18zM3016 1331l-15-10l39-27l16 11z"/>
<path fill="#3e26a8" d="M2977 1376v-13l39-26v13zM2977 1363l-16-11l40-26l15 11z"/>
<path fill="#3e26a8" d="M2937 1402v-20l40-26v20zM2937 1382l-15-10l39-27l16 11z"/>
<path fill="#3e26a8" d="M2898 1428l-16-10v-20l16 10zM2898 1428v-20l39-26v20zM2898 1408l-16-10l40-27l15 11z"/>
<path fill="#3e26a8" d="M2858 1455v-15l40-26v14zM2858 1440l-16-10l40-26l16 10z"/>
<path fill="#402cb8" d="M2818 1481v-28l40-26v28zM2818 1453l-15-10l39-27l16 11z"/>
<path fill="#484df0" d="M2779 1507v-45l39-26v45zM2779 1462l-16-10l40-26l15 10z"/>
<path fill="#406cfe" d="M2739 1533v-55l40-27v56zM2739 1478l-15-11l39-26l16 10z"/>
<path fill="#406cfe" d="M2700 1560v-56l39-26v55zM2700 1504l-16-10l40-26l15 10z"/>
<path fill="#327cfc" d="M2660 1586v-63l40-27v64zM2660 1523l-16-11l40-26l16 10z"/>
<path fill="#2f84f9" d="M2620 1612v-67l40-26v67zM2620 1545l-15-10l39-26l16 10z"/>
<path fill="#2b92ee" d="M2581 1638v-71l39-26v71zM2581 1567l-16-10l40-26l15 10z"/>
<path fill="#2799e9" d="M2541 1665v-76l40-27v76zM2541 1589l-15-11l39-26l16 10z"/>
<path fill="#1fa5e2" d="M2502 1691v-82l39-27v83zM2502 1609l-16-11l40-26l15 10z"/>
<path fill="#01b9c7" d="M2462 1717v-93l40-26v93zM2462 1624l-16-10l40-27l16 11z"/>
<path fill="#2fc5a2" d="M2422 1743v-105l40-26v105zM2422 1638l-15-10l39-27l16 11z"/>
<path fill="#8acb51" d="M2383 1770v-122l39-27v122zM2383 1648l-16-11l40-26l15 10z"/>
<path fill="#f7bb3a" d="M2343 1796v-145l40-27v146zM2343 1651l-15-11l39-26l16 10z"/>
<path fill="#f9fb15" d="M2304 1822v-174l39-27v175zM2304 1648l-16-11l40-26l15 10z"/>
<path fill="#f9fb15" d="M2264 1848l-16-10v-192l16 11zM2264 1848v-191l40-27v192zM2264 1657l-16-11l40-26l16 10z"/>
<path fill="#f9fb15" d="M2185 1901l-16-10v-205l16 11zM2185 1901v-204l39-27v205zM2185 1697l-16-11l40-26l15 10z"/>
<path fill="#f9fb15" d="M2145 1927v-171l40-26v171zM2145 1756l-15-10l39-26l16 10z"/>
<path fill="#f9fb15" d="M2106 1953l-16-10v-206l16 10zM2106 1953v-206l39-26v206zM2106 1747l-16-10l40-26l15 10z"/>
<path fill="#f9fb15" d="M2066 1980v-176l40-26v175zM2066 1804l-16-10l40-26l16 10z"/>
<path fill="#f9fb15" d="M2026 2006v-190l40-26v190zM2026 1816l-15-10l39-26l16 10z"/>
<path fill="#f9fb15" d="M1987 2032l-16-10v-210l16 11zM1987 2032v-209l39-27v210zM1987 1823l-16-11l40-26l15 10z"/>
<path fill="#f9fb15" d="M1947 2058v-201l40-26v201zM1947 1857l-15-10l39-26l16 10z"/>
<path fill="#f9fb15" d="M1908 2085v-204l39-26v203zM1908 1881l-16-10l40-26l15 10z"/>
<path fill="#f9fb15" d="M1868 2111v-225l40-27v226zM1868 1886l-16-11l40-26l16 10z"/>
<path fill="#f9fb15" d="M1828 2137l-15-10v-235l15 10zM1828 2137v-235l40-26v235zM1828 1902l-15-10l39-27l16 11z"/>
<path fill="#fcce31" d="M1789 2163v-154l39-26v154zM1789 2009l-16-10l40-26l15 10z"/>
<path fill="#fcce31" d="M1749 2190l-15-11v-153l15 10zM1749 2190v-154l40-26v153zM1749 2036l-15-10l39-26l16 10z"/>
<path fill="#f7bb3a" d="M1710 2216l-16-10v-144l16 10zM1710 2216v-144l39-26v144zM1710 2072l-16-10l40-27l15 11z"/>
<path fill="#76cc60" d="M1670 2242l-16-10v-122l16 11zM1670 2242v-121l40-27v122zM1670 2121l-16-11l40-26l16 10z"/>
<path fill="#11b0d7" d="M1630 2269l-15-11v-88l15 11zM1630 2269v-88l40-26v87zM1630 2181l-15-11l39-26l16 11z"/>
<path fill="#2b92ee" d="M1591 2295l-16-11v-72l16 11zM1591 2295v-72l39-27v73zM1591 2223l-16-11l40-26l15 10z"/>
<path fill="#3e26a8" d="M3132 1321l-16-10v-13l16 10zM3132 1321v-13l39-26v13zM3132 1308l-16-10l40-27l15 11z"/>
<path fill="#3e26a8" d="M3092 1347v-12l40-26v12zM3092 1335l-16-10l40-26l16 10z"/>
<path fill="#3e26a8" d="M3052 1373v-13l40-26v13zM3052 1360l-15-10l39-26l16 10z"/>
<path fill="#3e26a8" d="M3013 1400l-16-11v-25l16 11zM3013 1400v-25l39-26v24zM3013 1375l-16-11l40-26l15 11z"/>
<path fill="#3e26a8" d="M2973 1426v-15l40-26v15zM2973 1411l-15-10l39-27l16 11z"/>
<path fill="#3e26a8" d="M2934 1452v-16l39-26v16zM2934 1436l-16-10l40-26l15 10z"/>
<path fill="#3e26a8" d="M2894 1478v-21l40-26v21zM2894 1457l-16-10l40-27l16 11z"/>
<path fill="#402cb8" d="M2854 1505v-29l40-26v28zM2854 1476l-15-10l39-27l16 11z"/>
<path fill="#402cb8" d="M2815 1531v-30l39-27v31zM2815 1501l-16-11l40-26l15 10z"/>
<path fill="#4745e9" d="M2775 1557v-42l40-26v42zM2775 1515l-15-10l39-26l16 10z"/>
<path fill="#465cfa" d="M2736 1584v-50l39-26v49zM2736 1534l-16-10l40-26l15 10z"/>
<path fill="#406cfe" d="M2696 1610v-57l40-27v58zM2696 1553l-16-11l40-26l16 10z"/>
<path fill="#2f84f9" d="M2656 1636v-66l40-26v66zM2656 1570l-15-10l39-26l16 10z"/>
<path fill="#2d8bf4" d="M2617 1662v-68l39-26v68zM2617 1594l-16-10l40-27l15 11z"/>
<path fill="#2799e9" d="M2577 1689v-74l40-26v73zM2577 1615l-15-10l39-27l16 11z"/>
<path fill="#1fa5e2" d="M2538 1715v-83l39-26v83zM2538 1632l-16-10l40-26l15 10z"/>
<path fill="#08b5cf" d="M2498 1741v-90l40-26v90zM2498 1651l-16-10l40-26l16 10z"/>
<path fill="#17bfb6" d="M2458 1767v-99l40-26v99zM2458 1668l-15-10l39-27l16 11z"/>
<path fill="#64cc6f" d="M2419 1794v-117l39-26v116zM2419 1677l-16-10l40-26l15 10z"/>
<path fill="#d1bf29" d="M2379 1820v-135l40-26v135zM2379 1685l-15-10l39-27l16 11z"/>
<path fill="#fcce31" d="M2340 1846v-153l39-26v153zM2340 1693l-16-10l40-26l15 10z"/>
<path fill="#f9fb15" d="M2300 1872l-16-10v-227l16 10zM2300 1872v-227l40-26v227zM2300 1645l-16-10l40-26l16 10z"/>
<path fill="#f9fb15" d="M2260 1899v-197l40-26v196zM2260 1702l-15-11l39-26l16 11z"/>
<path fill="#f9fb15" d="M2221 1925l-16-11v-233l16 10zM2221 1925v-234l39-26v234zM2221 1691l-16-10l40-26l15 10z"/>
<path fill="#f9fb15" d="M2181 1951l-15-10v-220l15 11zM2181 1951v-219l40-27v220zM2181 1732l-15-11l39-26l16 10z"/>
<path fill="#f9fb15" d="M2142 1977l-16-10v-193l16 10zM2142 1977v-193l39-26v193zM2142 1784l-16-10l40-26l15 10z"/>
<path fill="#f9fb15" d="M2102 1819l-16-10l40-26l16 10z"/>
<path fill="#f9fb15" d="M2062 2030l-15-11v-229l15 10zM2062 2030v-230l40-26v230zM2062 1800l-15-10l39-26l16 10z"/>
<path fill="#f9fb15" d="M2023 2056v-205l39-26v205zM2023 1851l-16-10l40-27l15 11z"/>
<path fill="#f9fb15" d="M1983 2082v-217l40-26v217zM1983 1865l-15-10l39-26l16 10z"/>
<path fill="#f9fb15" d="M1944 2109l-16-11v-226l16 10zM1944 2109v-227l39-26v226zM1944 1882l-16-10l40-27l15 11z"/>
<path fill="#f9fb15" d="M1904 1952l-16-11l40-26l16 10z"/>
<path fill="#f9fb15" d="M1864 2161v-189l40-27v190zM1864 1972l-15-11l39-26l16 10z"/>
<path fill="#f9fb15" d="M1825 2187l-16-10v-195l16 10zM1825 2187v-195l39-26v195zM1825 1992l-16-10l40-26l15 10z"/>
<path fill="#fcce31" d="M1785 2214l-15-11v-154l15 10zM1785 2214v-155l40-26v154zM1785 2059l-15-10l39-26l16 10z"/>
<path fill="#f7bb3a" d="M1746 2240l-16-10v-145l16 11zM1746 2240v-144l39-27v145zM1746 2096l-16-11l40-26l15 10z"/>
<path fill="#8acb51" d="M1706 2266l-16-10v-123l16 10zM1706 2266v-123l40-26v123zM1706 2143l-16-10l40-26l16 10z"/>
<path fill="#11b0d7" d="M1666 2292l-15-10v-86l15 10zM1666 2292v-86l40-26v86zM1666 2206l-15-10l39-27l16 11z"/>
<path fill="#3e26a8" d="M1627 2319l-16-11v-14l16 10zM1627 2319v-15l39-26v14zM1627 2304l-16-10l40-27l15 11z"/>
<path fill="#3e26a8" d="M3164 1342l-16-10v-11l16 10zM3164 1342v-11l39-26v11zM3164 1331l-16-10l40-27l15 11z"/>
<path fill="#3e26a8" d="M3124 1368v-5l40-26v5zM3124 1363l-16-10l40-26l16 10z"/>
<path fill="#3e26a8" d="M3084 1395v-9l40-26v8zM3084 1386l-15-10l39-26l16 10z"/>
<path fill="#3e26a8" d="M3045 1421v-8l39-27v9zM3045 1413l-16-11l40-26l15 10z"/>
<path fill="#3e26a8" d="M3005 1447v-11l40-26v11zM3005 1436l-15-10l39-27l16 11z"/>
<path fill="#3e26a8" d="M2966 1473l-16-10v-10l16 10zM2966 1473v-10l39-26v10zM2966 1463l-16-10l40-27l15 11z"/>
<path fill="#3e26a8" d="M2926 1500v-8l40-27v8zM2926 1492l-16-11l40-26l16 10z"/>
<path fill="#3e26a8" d="M2886 1526v-10l40-27v11zM2886 1516l-15-11l39-26l16 10z"/>
<path fill="#3e26a8" d="M2847 1552l-16-10v-12l16 10zM2847 1552v-12l39-26v12zM2847 1540l-16-10l40-26l15 10z"/>
<path fill="#3e26a8" d="M2807 1578v-10l40-26v10zM2807 1568l-15-10l39-26l16 10z"/>
<path fill="#3e26a8" d="M2768 1605v-13l39-26v12zM2768 1592l-16-10l40-26l15 10z"/>
<path fill="#3e26a8" d="M2728 1631v-14l40-27v15zM2728 1617l-16-11l40-26l16 10z"/>
<path fill="#3e26a8" d="M2688 1657v-25l40-26v25zM2688 1632l-15-11l39-26l16 11z"/>
<path fill="#4331c7" d="M2649 1683v-31l39-26v31zM2649 1652l-16-10l40-27l15 11z"/>
<path fill="#4745e9" d="M2609 1710v-41l40-26v40zM2609 1669l-15-10l39-26l16 10z"/>
<path fill="#465cfa" d="M2570 1736v-52l39-26v52zM2570 1684l-16-10l40-26l15 10z"/>
<path fill="#2b92ee" d="M2530 1762v-73l40-26v73zM2530 1689l-16-10l40-27l16 11z"/>
<path fill="#1babdd" d="M2490 1789v-85l40-26v84zM2490 1704l-15-10l39-26l16 10z"/>
<path fill="#26c2ad" d="M2451 1815v-102l39-26v102zM2451 1713l-16-10l40-27l15 11z"/>
<path fill="#9dc943" d="M2411 1841v-126l40-26v126zM2411 1715l-15-10l39-26l16 10z"/>
<path fill="#f7bb3a" d="M2372 1867v-146l39-26v146zM2372 1721l-16-10l40-26l15 10z"/>
<path fill="#f9fb15" d="M2332 1894l-16-11v-191l16 11zM2332 1894v-191l40-27v191zM2332 1703l-16-11l40-26l16 10z"/>
<path fill="#f9fb15" d="M2292 1920v-185l40-26v185zM2292 1735l-15-10l39-26l16 10z"/>
<path fill="#f9fb15" d="M2253 1946v-197l39-26v197zM2253 1749l-16-10l40-26l15 10z"/>
<path fill="#f9fb15" d="M2213 1972l-15-10v-227l15 10zM2213 1972v-227l40-26v227zM2213 1745l-15-10l39-26l16 10z"/>
<path fill="#f9fb15" d="M2174 1999v-211l39-26v210zM2174 1788l-16-10l40-26l15 10z"/>
<path fill="#f9fb15" d="M2134 2025l-16-11v-219l16 10zM2134 2025v-220l40-26v220zM2134 1805l-16-10l40-27l16 11z"/>
<path fill="#f9fb15" d="M2094 2051v-209l40-26v209zM2094 1842l-15-10l39-26l16 10z"/>
<path fill="#f9fb15" d="M2055 2077v-209l39-27v210zM2055 1868l-16-11l40-26l15 10z"/>
<path fill="#f9fb15" d="M2015 2104l-15-11v-212l15 10zM2015 2104v-213l40-26v212zM2015 1891l-15-10l39-27l16 11z"/>
<path fill="#f9fb15" d="M1976 1941l-16-10l40-26l15 10z"/>
<path fill="#f9fb15" d="M1936 2156l-16-10v-217l16 10zM1936 2156v-217l40-26v217zM1936 1939l-16-10l40-27l16 11z"/>
<path fill="#f9fb15" d="M1896 2182v-208l40-27v209zM1896 1974l-15-11l39-26l16 10z"/>
<path fill="#f9fb15" d="M1857 2209l-16-11v-224l16 10zM1857 2209v-225l39-26v224zM1857 1984l-16-10l40-26l15 10z"/>
<path fill="#f7bb3a" d="M1817 2235v-144l40-26v144zM1817 2091l-15-10l39-26l16 10z"/>
<path fill="#f7bb3a" d="M1778 2261l-16-10v-144l16 10zM1778 2261v-144l39-26v144zM1778 2117l-16-10l40-27l15 11z"/>
<path fill="#8acb51" d="M1738 2287l-16-10v-123l16 10zM1738 2287v-123l40-26v123zM1738 2164l-16-10l40-26l16 10z"/>
<path fill="#08b5cf" d="M1698 2314l-15-11v-91l15 11zM1698 2314v-91l40-26v90zM1698 2223l-15-11l39-26l16 11z"/>
<path fill="#2d8bf4" d="M1659 2340l-16-10v-70l16 11zM1659 2340v-69l39-27v70zM1659 2271l-16-11l40-26l15 10z"/>
<path fill="#3e26a8" d="M3192 1361l-16-11v-10l16 11zM3192 1361v-10l39-26v9zM3192 1351l-16-11l40-26l15 11z"/>
<path fill="#3e26a8" d="M3152 1387v-8l40-27v9zM3152 1379l-16-11l40-26l16 10z"/>
<path fill="#3e26a8" d="M3112 1413v-8l40-27v9zM3112 1405l-15-11l39-26l16 10z"/>
<path fill="#3e26a8" d="M3073 1439v-11l39-26v11zM3073 1428l-16-10l40-27l15 11z"/>
<path fill="#3e26a8" d="M3033 1466l-15-11v-11l15 10zM3033 1466v-12l40-26v11zM3033 1454l-15-10l39-26l16 10z"/>
<path fill="#3e26a8" d="M2994 1492v-10l39-26v10zM2994 1482l-16-10l40-27l15 11z"/>
<path fill="#3e26a8" d="M2954 1518v-9l40-27v10zM2954 1509l-16-11l40-26l16 10z"/>
<path fill="#3e26a8" d="M2914 1545l-15-11v-11l15 10zM2914 1545v-12l40-26v11zM2914 1533l-15-10l39-26l16 10z"/>
<path fill="#3e26a8" d="M2875 1571v-9l39-26v9zM2875 1562l-16-10l40-26l15 10z"/>
<path fill="#3e26a8" d="M2835 1597v-9l40-27v10zM2835 1588l-15-11l39-26l16 10z"/>
<path fill="#3e26a8" d="M2796 1623v-12l39-26v12zM2796 1611l-16-10l40-26l15 10z"/>
<path fill="#3e26a8" d="M2756 1650v-12l40-27v12zM2756 1638l-16-11l40-26l16 10z"/>
<path fill="#3e26a8" d="M2716 1676v-16l40-27v17zM2716 1660l-15-11l39-26l16 10z"/>
<path fill="#402cb8" d="M2677 1702v-30l39-26v30zM2677 1672l-16-10l40-26l15 10z"/>
<path fill="#4537d5" d="M2637 1728v-36l40-26v36zM2637 1692l-15-10l39-26l16 10z"/>
<path fill="#463ee0" d="M2598 1755v-40l39-26v39zM2598 1715l-16-10l40-26l15 10z"/>
<path fill="#406cfe" d="M2558 1781v-56l40-26v56zM2558 1725l-16-10l40-27l16 11z"/>
<path fill="#239fe6" d="M2518 1807v-79l40-26v79zM2518 1728l-15-10l39-27l16 11z"/>
<path fill="#01b9c7" d="M2479 1833v-93l39-27v94zM2479 1740l-16-11l40-26l15 10z"/>
<path fill="#38c897" d="M2439 1860v-108l40-26v107zM2439 1752l-15-10l39-27l16 11z"/>
<path fill="#c1c32d" d="M2400 1886v-133l39-26v133zM2400 1753l-16-11l40-26l15 11z"/>
<path fill="#fcce31" d="M2360 1912v-154l40-27v155zM2360 1758l-16-11l40-26l16 10z"/>
<path fill="#f9fb15" d="M2320 1938l-15-10v-201l15 10zM2320 1938v-201l40-26v201zM2320 1737l-15-10l39-26l16 10z"/>
<path fill="#f9fb15" d="M2281 1774l-16-10l40-26l15 10z"/>
<path fill="#f9fb15" d="M2241 1991v-192l40-26v192zM2241 1799l-15-11l39-26l16 11z"/>
<path fill="#f9fb15" d="M2202 2017l-16-10v-215l16 11zM2202 2017v-214l39-26v214zM2202 1803l-16-11l40-26l15 11z"/>
<path fill="#f9fb15" d="M2162 2043v-200l40-26v200zM2162 1843l-16-10l40-27l16 11z"/>
<path fill="#f9fb15" d="M2122 2070l-15-11v-220l15 11zM2122 2070v-220l40-27v220zM2122 1850l-15-11l39-26l16 10z"/>
<path fill="#f9fb15" d="M2083 2096l-16-10v-204l16 11zM2083 2096v-203l39-27v204zM2083 1893l-16-11l40-26l15 10z"/>
<path fill="#f9fb15" d="M2043 1934l-15-10l39-27l16 11z"/>
<path fill="#f9fb15" d="M2004 2148l-16-10v-209l16 10zM2004 2148v-209l39-26v209zM2004 1939l-16-10l40-26l15 10z"/>
<path fill="#f9fb15" d="M1964 2175v-206l40-26v205zM1964 1969l-16-10l40-26l16 10z"/>
<path fill="#f9fb15" d="M1924 2201l-15-10v-233l15 10zM1924 2201v-233l40-26v233zM1924 1968l-15-10l39-26l16 10z"/>
<path fill="#f9fb15" d="M1885 2227l-16-10v-206l16 11zM1885 2227v-205l39-27v206zM1885 2022l-16-11l40-26l15 10z"/>
<path fill="#f9fb15" d="M1845 2253l-15-10v-170l15 10zM1845 2253v-170l40-26v170zM1845 2083l-15-10l39-26l16 10z"/>
<path fill="#ecba34" d="M1806 2280l-16-11v-142l16 10zM1806 2280v-143l39-26v142zM1806 2137l-16-10l40-27l15 11z"/>
<path fill="#76cc60" d="M1766 2306l-16-10v-122l16 11zM1766 2306v-121l40-27v122zM1766 2185l-16-11l40-26l16 10z"/>
<path fill="#11b0d7" d="M1726 2332l-15-10v-87l15 10zM1726 2332v-87l40-26v87zM1726 2245l-15-10l39-26l16 10z"/>
<path fill="#3e26a8" d="M1687 2358l-16-10v-25l16 10zM1687 2358v-25l39-26v25zM1687 2333l-16-10l40-26l15 10z"/>
<path fill="#3e26a8" d="M3224 1382v-10l39-26v10zM3224 1372l-16-10l40-26l15 10z"/>
<path fill="#3e26a8" d="M3184 1408v-11l40-26v11zM3184 1397l-16-10l40-27l16 11z"/>
<path fill="#3e26a8" d="M3144 1434l-15-10v-10l15 10zM3144 1434v-10l40-26v10zM3144 1424l-15-10l39-27l16 11z"/>
<path fill="#3e26a8" d="M3105 1461v-6l39-26v5zM3105 1455l-16-10l40-27l15 11z"/>
<path fill="#3e26a8" d="M3065 1487l-15-10v-14l15 11zM3065 1487v-13l40-27v14zM3065 1474l-15-11l39-26l16 10z"/>
<path fill="#3e26a8" d="M3026 1513v-5l39-27v6zM3026 1508l-16-11l40-26l15 10z"/>
<path fill="#3e26a8" d="M2986 1539v-7l40-27v8zM2986 1532l-16-11l40-26l16 10z"/>
<path fill="#3e26a8" d="M2946 1566l-15-11v-11l15 10zM2946 1566v-12l40-26v11zM2946 1554l-15-10l39-26l16 10z"/>
<path fill="#3e26a8" d="M2907 1592v-8l39-26v8zM2907 1584l-16-10l40-27l15 11z"/>
<path fill="#3e26a8" d="M2867 1618v-10l40-26v10zM2867 1608l-15-10l39-26l16 10z"/>
<path fill="#3e26a8" d="M2828 1644l-16-10v-12l16 11zM2828 1644v-11l39-27v12zM2828 1633l-16-11l40-26l15 10z"/>
<path fill="#3e26a8" d="M2788 1671v-10l40-27v10zM2788 1661l-16-11l40-26l16 10z"/>
<path fill="#3e26a8" d="M2748 1697v-15l40-26v15zM2748 1682l-15-10l39-26l16 10z"/>
<path fill="#3e26a8" d="M2709 1723v-16l39-26v16zM2709 1707l-16-11l40-26l15 11z"/>
<path fill="#3e26a8" d="M2669 1750v-24l40-26v23zM2669 1726l-15-10l39-27l16 11z"/>
<path fill="#463ee0" d="M2630 1776v-38l39-27v39zM2630 1738l-16-11l40-26l15 10z"/>
<path fill="#4754f5" d="M2590 1802v-48l40-27v49zM2590 1754l-16-11l40-26l16 10z"/>
<path fill="#327cfc" d="M2550 1828v-63l40-26v63zM2550 1765l-15-10l39-27l16 11z"/>
<path fill="#1babdd" d="M2511 1855v-83l39-27v83zM2511 1772l-16-11l40-26l15 10z"/>
<path fill="#01b9c7" d="M2471 1881v-95l40-26v95zM2471 1786l-15-10l39-26l16 10z"/>
<path fill="#52cc7e" d="M2432 1907v-115l39-26v115zM2432 1792l-16-10l40-27l15 11z"/>
<path fill="#d1bf29" d="M2392 1933v-135l40-26v135zM2392 1798l-16-11l40-26l16 11z"/>
<path fill="#f9fb15" d="M2352 1960v-182l40-26v181zM2352 1778l-15-10l39-27l16 11z"/>
<path fill="#f9fb15" d="M2313 1986l-16-11v-231l16 10zM2313 1986v-232l39-26v232zM2313 1754l-16-10l40-26l15 10z"/>
<path fill="#f9fb15" d="M2273 2012l-15-10v-212l15 11zM2273 2012v-211l40-26v211zM2273 1801l-15-11l39-26l16 11z"/>
<path fill="#f9fb15" d="M2234 2038v-196l39-26v196zM2234 1842l-16-10l40-27l15 11z"/>
<path fill="#f9fb15" d="M2194 2065l-16-11v-237l16 10zM2194 2065v-238l40-26v237zM2194 1827l-16-10l40-26l16 10z"/>
<path fill="#f9fb15" d="M2154 2091v-218l40-26v218zM2154 1873l-15-10l39-26l16 10z"/>
<path fill="#f9fb15" d="M2115 2117l-16-10v-226l16 11zM2115 2117v-225l39-27v226zM2115 1892l-16-11l40-26l15 10z"/>
<path fill="#f9fb15" d="M2075 1937l-15-10l39-26l16 10z"/>
<path fill="#f9fb15" d="M1956 2222l-15-10v-242l15 11zM1956 2222v-241l40-27v242zM1956 1981l-15-11l39-26l16 10z"/>
<path fill="#f9fb15" d="M1917 2248l-16-10v-200l16 10zM1917 2248v-200l39-26v200zM1917 2048l-16-10l40-27l15 11z"/>
<path fill="#f9fb15" d="M1877 2275l-15-11v-182l15 11zM1877 2275v-182l40-27v182zM1877 2093l-15-11l39-26l16 10z"/>
<path fill="#f7bb3a" d="M1838 2301l-16-10v-144l16 10zM1838 2301v-144l39-26v144zM1838 2157l-16-10l40-27l15 11z"/>
<path fill="#76cc60" d="M1798 2327l-16-10v-121l16 10zM1798 2327v-121l40-26v121zM1798 2206l-16-10l40-27l16 11z"/>
<path fill="#01b9c7" d="M1758 2353l-15-10v-92l15 11zM1758 2353v-91l40-27v92zM1758 2262l-15-11l39-26l16 10z"/>
<path fill="#2b92ee" d="M1719 2380l-16-11v-72l16 10zM1719 2380v-73l39-26v72zM1719 2307l-16-10l40-26l15 10z"/>
<path fill="#3e26a8" d="M3256 1403v-11l39-26v11zM3256 1392l-16-10l40-27l15 11z"/>
<path fill="#3e26a8" d="M3216 1429v-11l40-26v11zM3216 1418l-16-11l40-26l16 11z"/>
<path fill="#3e26a8" d="M3176 1456l-15-11v-10l15 10zM3176 1456v-11l40-26v10zM3176 1445l-15-10l39-27l16 11z"/>
<path fill="#3e26a8" d="M3137 1482v-7l39-26v7zM3137 1475l-16-10l40-26l15 10z"/>
<path fill="#3e26a8" d="M3097 1508l-15-10v-13l15 11zM3097 1508v-12l40-27v13zM3097 1496l-15-11l39-26l16 10z"/>
<path fill="#3e26a8" d="M3058 1534v-11l39-26v11zM3058 1523l-16-10l40-27l15 11z"/>
<path fill="#3e26a8" d="M3018 1561l-16-11v-10l16 10zM3018 1561v-11l40-26v10zM3018 1550l-16-10l40-27l16 11z"/>
<path fill="#3e26a8" d="M2978 1587l-15-10v-9l15 10zM2978 1587v-9l40-26v9zM2978 1578l-15-10l39-27l16 11z"/>
<path fill="#3e26a8" d="M2939 1613v-6l39-26v6zM2939 1607l-16-10l40-26l15 10z"/>
<path fill="#3e26a8" d="M2899 1639l-15-10v-9l15 10zM2899 1639v-9l40-26v9zM2899 1630l-15-10l39-27l16 11z"/>
<path fill="#3e26a8" d="M2860 1666v-7l39-26v6zM2860 1659l-16-10l40-26l15 10z"/>
<path fill="#3e26a8" d="M2820 1692v-9l40-27v10zM2820 1683l-16-11l40-26l16 10z"/>
<path fill="#3e26a8" d="M2780 1718v-9l40-26v9zM2780 1709l-15-10l39-27l16 11z"/>
<path fill="#3e26a8" d="M2741 1744v-13l39-27v14zM2741 1731l-16-11l40-26l15 10z"/>
<path fill="#3e26a8" d="M2701 1771v-21l40-27v21zM2701 1750l-15-11l39-26l16 10z"/>
<path fill="#3e26a8" d="M2662 1797v-28l39-26v28zM2662 1769l-16-10l40-26l15 10z"/>
<path fill="#4537d5" d="M2622 1823v-35l40-26v35zM2622 1788l-16-10l40-27l16 11z"/>
<path fill="#484df0" d="M2582 1849v-43l40-27v44zM2582 1806l-15-11l39-26l16 10z"/>
<path fill="#2d8bf4" d="M2543 1876v-69l39-26v68zM2543 1807l-16-10l40-27l15 11z"/>
<path fill="#1babdd" d="M2503 1902v-84l40-26v84zM2503 1818l-15-10l39-26l16 10z"/>
<path fill="#17bfb6" d="M2464 1928v-98l39-27v99zM2464 1830l-16-11l40-26l15 10z"/>
<path fill="#64cc6f" d="M2424 1955v-117l40-26v116zM2424 1838l-16-11l40-26l16 11z"/>
<path fill="#e0bc2a" d="M2384 1981v-140l40-26v140zM2384 1841l-15-10l39-26l16 10z"/>
<path fill="#f9fb15" d="M2345 2007l-16-10v-195l16 10zM2345 2007v-195l39-26v195zM2345 1812l-16-10l40-26l15 10z"/>
<path fill="#f9fb15" d="M2305 1849l-15-11l39-26l16 10z"/>
<path fill="#f9fb15" d="M2266 1857l-16-11l40-26l15 11z"/>
<path fill="#f9fb15" d="M2226 2086l-16-11v-232l16 10zM2226 2086v-233l40-26v233zM2226 1853l-16-10l40-26l16 10z"/>
<path fill="#f9fb15" d="M2186 1893l-15-10l39-26l16 10z"/>
<path fill="#f9fb15" d="M2147 1914l-16-10l40-27l15 11z"/>
<path fill="#f9fb15" d="M2068 1948l-16-11l40-26l15 11z"/>
<path fill="#f9fb15" d="M2028 2217l-16-10v-261l16 11zM2028 1957l-16-11l40-26l16 10z"/>
<path fill="#f9fb15" d="M1988 2243l-15-10v-249l15 10zM1988 1994l-15-10l39-26l16 10z"/>
<path fill="#f9fb15" d="M1949 2270l-16-11v-242l16 11zM1949 2270v-242l39-26v241zM1949 2028l-16-11l40-26l15 11z"/>
<path fill="#f9fb15" d="M1909 2296l-15-11v-185l15 11zM1909 2296v-185l40-27v186zM1909 2111l-15-11l39-26l16 10z"/>
<path fill="#f7bb3a" d="M1870 2322l-16-10v-143l16 10zM1870 2322v-143l39-26v143zM1870 2179l-16-10l40-27l15 11z"/>
<path fill="#8acb51" d="M1830 2348l-16-10v-123l16 10zM1830 2348v-123l40-26v123zM1830 2225l-16-10l40-27l16 11z"/>
<path fill="#08b5cf" d="M1790 2375l-15-11v-90l15 11zM1790 2375v-90l40-27v90zM1790 2285l-15-11l39-26l16 10z"/>
<path fill="#3e26a8" d="M1751 2401l-16-10v-19l16 10zM1751 2401v-19l39-26v19zM1751 2382l-16-10l40-27l15 11z"/>
<path fill="#3e26a8" d="M3286 1423l-16-10v-13l16 10zM3286 1423v-13l39-26v13zM3286 1410l-16-10l40-26l15 10z"/>
<path fill="#3e26a8" d="M3246 1449v-8l40-26v8zM3246 1441l-16-10l40-26l16 10z"/>
<path fill="#3e26a8" d="M3206 1476v-9l40-26v8zM3206 1467l-15-10l39-27l16 11z"/>
<path fill="#3e26a8" d="M3167 1502v-10l39-26v10zM3167 1492l-16-10l40-26l15 10z"/>
<path fill="#3e26a8" d="M3127 1528l-15-10v-10l15 10zM3127 1528v-10l40-26v10zM3127 1518l-15-10l39-26l16 10z"/>
<path fill="#3e26a8" d="M3088 1554v-7l39-26v7zM3088 1547l-16-10l40-26l15 10z"/>
<path fill="#3e26a8" d="M3048 1581v-11l40-26v10zM3048 1570l-16-10l40-26l16 10z"/>
<path fill="#3e26a8" d="M3008 1607l-15-11v-11l15 10zM3008 1607v-12l40-26v12zM3008 1595l-15-10l39-26l16 10z"/>
<path fill="#3e26a8" d="M2969 1633l-16-10v-10l16 10zM2969 1633v-10l39-26v10zM2969 1623l-16-10l40-26l15 10z"/>
<path fill="#3e26a8" d="M2929 1659v-8l40-27v9zM2929 1651l-15-11l39-26l16 10z"/>
<path fill="#3e26a8" d="M2890 1686v-9l39-26v8zM2890 1677l-16-10l40-27l15 11z"/>
<path fill="#3e26a8" d="M2850 1712l-16-10v-13l16 10zM2850 1712v-13l40-26v13zM2850 1699l-16-10l40-26l16 10z"/>
<path fill="#3e26a8" d="M2810 1738v-10l40-27v11zM2810 1728l-15-11l39-26l16 10z"/>
<path fill="#3e26a8" d="M2771 1764v-13l39-27v14zM2771 1751l-16-11l40-26l15 10z"/>
<path fill="#3e26a8" d="M2731 1791v-15l40-26v14zM2731 1776l-15-10l39-26l16 10z"/>
<path fill="#3e26a8" d="M2692 1817v-26l39-26v26zM2692 1791l-16-11l40-26l15 11z"/>
<path fill="#402cb8" d="M2652 1843v-28l40-27v29zM2652 1815l-16-11l40-26l16 10z"/>
<path fill="#4745e9" d="M2612 1869v-41l40-27v42zM2612 1828l-15-11l39-26l16 10z"/>
<path fill="#4754f5" d="M2573 1896v-49l39-26v48zM2573 1847l-16-10l40-26l15 10z"/>
<path fill="#2b92ee" d="M2533 1922v-72l40-26v72zM2533 1850l-15-10l39-27l16 11z"/>
<path fill="#11b0d7" d="M2494 1948v-86l39-26v86zM2494 1862l-16-11l40-26l15 11z"/>
<path fill="#17bfb6" d="M2454 1974v-100l40-26v100zM2454 1874l-16-10l40-26l16 10z"/>
<path fill="#9dc943" d="M2414 2001v-126l40-26v125zM2414 1875l-15-10l39-27l16 11z"/>
<path fill="#febe3c" d="M2375 2027v-149l39-26v149zM2375 1878l-16-10l40-26l15 10z"/>
<path fill="#f9fb15" d="M2335 2053v-219l40-26v219zM2335 1834l-15-11l39-26l16 11z"/>
<path fill="#f9fb15" d="M2296 2079v-224l39-26v224zM2296 1855l-16-10l40-26l15 10z"/>
<path fill="#f9fb15" d="M2256 2106v-241l40-26v240zM2256 1865l-16-10l40-26l16 10z"/>
<path fill="#f9fb15" d="M2216 2132v-245l40-26v245zM2216 1887l-15-10l39-26l16 10z"/>
<path fill="#f9fb15" d="M2177 2158v-263l39-26v263zM2177 1895l-16-10l40-27l15 11z"/>
<path fill="#f9fb15" d="M2137 2184v-262l40-27v263zM2137 1922l-15-11l39-26l16 10z"/>
<path fill="#f9fb15" d="M2098 1942l-16-10l40-26l15 10z"/>
<path fill="#f9fb15" d="M2058 2237l-16-10v-292l16 10zM2058 2237v-292l40-26v292zM2058 1945l-16-10l40-26l16 10z"/>
<path fill="#f9fb15" d="M2018 2263l-15-10v-289l15 10zM2018 1974l-15-10l39-27l16 11z"/>
<path fill="#f9fb15" d="M1979 2289l-16-10v-246l16 10zM1979 2043l-16-10l40-26l15 10z"/>
<path fill="#f9fb15" d="M1939 2316l-15-11v-172l15 11zM1939 2144l-15-11l39-26l16 11z"/>
<path fill="#ecba34" d="M1900 2342l-16-10v-143l16 10zM1900 2199l-16-10l40-27l15 11z"/>
<path fill="#8acb51" d="M1860 2368l-16-10v-122l16 10zM1860 2368v-122l40-26v122zM1860 2246l-16-10l40-26l16 10z"/>
<path fill="#08b5cf" d="M1820 2394l-15-10v-89l15 10zM1820 2394v-89l40-26v89zM1820 2305l-15-10l39-27l16 11z"/>
<path fill="#2b92ee" d="M1781 2421l-16-11v-73l16 11zM1781 2421v-73l39-27v73zM1781 2348l-16-11l40-26l15 10z"/>
<path fill="#3e26a8" d="M3320 1446v-6l39-27v6zM3320 1440l-16-11l40-26l15 10z"/>
<path fill="#3e26a8" d="M3280 1472v-9l40-26v9zM3280 1463l-16-11l40-26l16 11z"/>
<path fill="#3e26a8" d="M3240 1498l-15-10v-11l15 10zM3240 1498v-11l40-26v11zM3240 1487l-15-10l39-26l16 10z"/>
<path fill="#3e26a8" d="M3201 1524v-10l39-26v10zM3201 1514l-16-10l40-26l15 10z"/>
<path fill="#3e26a8" d="M3161 1551v-9l40-27v9zM3161 1542l-15-11l39-26l16 10z"/>
<path fill="#3e26a8" d="M3122 1577v-12l39-27v13zM3122 1565l-16-11l40-26l15 10z"/>
<path fill="#3e26a8" d="M3082 1603l-16-10v-12l16 10zM3082 1603v-12l40-26v12zM3082 1591l-16-10l40-27l16 11z"/>
<path fill="#3e26a8" d="M3042 1629v-9l40-26v9zM3042 1620l-15-11l39-26l16 11z"/>
<path fill="#3e26a8" d="M3003 1656v-9l39-26v8zM3003 1647l-16-11l40-26l15 11z"/>
<path fill="#3e26a8" d="M2963 1682l-15-10v-13l15 11zM2963 1682v-12l40-27v13zM2963 1670l-15-11l39-26l16 10z"/>
<path fill="#3e26a8" d="M2924 1708v-7l39-26v7zM2924 1701l-16-10l40-27l15 11z"/>
<path fill="#3e26a8" d="M2884 1734l-16-10v-9l16 11zM2884 1734v-8l40-27v9zM2884 1726l-16-11l40-26l16 10z"/>
<path fill="#3e26a8" d="M2844 1761v-8l40-26v7zM2844 1753l-15-10l39-26l16 10z"/>
<path fill="#3e26a8" d="M2805 1787v-8l39-26v8zM2805 1779l-16-10l40-27l15 11z"/>
<path fill="#3e26a8" d="M2765 1813v-9l40-27v10zM2765 1804l-15-11l39-26l16 10z"/>
<path fill="#3e26a8" d="M2726 1839v-14l39-27v15zM2726 1825l-16-11l40-26l15 10z"/>
<path fill="#402cb8" d="M2686 1866v-31l40-26v30zM2686 1835l-16-10l40-26l16 10z"/>
<path fill="#4331c7" d="M2646 1892v-33l40-26v33zM2646 1859l-15-11l39-26l16 11z"/>
<path fill="#4537d5" d="M2607 1918v-34l39-26v34zM2607 1884l-16-10l40-27l15 11z"/>
<path fill="#484df0" d="M2567 1944v-45l40-27v46zM2567 1899l-15-11l39-26l16 10z"/>
<path fill="#2799e9" d="M2528 1971v-75l39-27v75zM2528 1896l-16-11l40-26l15 10z"/>
<path fill="#11b0d7" d="M2488 1997v-87l40-26v87zM2488 1910l-16-10l40-27l16 11z"/>
<path fill="#26c2ad" d="M2448 2023v-101l40-27v102zM2448 1922l-15-11l39-26l16 10z"/>
<path fill="#8acb51" d="M2409 2049v-122l39-26v122zM2409 1927l-16-10l40-27l15 11z"/>
<path fill="#f7bb3a" d="M2369 2076v-145l40-27v145zM2369 1931l-15-11l39-26l16 10z"/>
<path fill="#f9fb15" d="M2330 2102v-227l39-26v227zM2330 1875l-16-10l40-26l15 10z"/>
<path fill="#f9fb15" d="M2290 2128v-255l40-26v255zM2290 1873l-16-11l40-26l16 11z"/>
<path fill="#f9fb15" d="M2250 2154v-255l40-26v255zM2250 1899l-15-10l39-26l16 10z"/>
<path fill="#f9fb15" d="M2211 2181v-262l39-26v261zM2211 1919l-16-10l40-26l15 10z"/>
<path fill="#f9fb15" d="M2171 2207l-15-10v-305l15 10zM2171 2207v-305l40-26v305zM2171 1902l-15-10l39-26l16 10z"/>
<path fill="#f9fb15" d="M2132 1984l-16-10l40-26l15 10z"/>
<path fill="#f9fb15" d="M2052 1962l-15-10l39-27l16 11z"/>
<path fill="#8acb51" d="M1894 2391l-16-11v-122l16 11zM1894 2269l-16-11l40-26l16 10z"/>
<path fill="#08b5cf" d="M1854 2417l-15-10v-90l15 10zM1854 2417v-90l40-26v90zM1854 2327l-15-10l39-26l16 10z"/>
<path fill="#3e26a8" d="M1815 2443l-16-10v-21l16 10zM1815 2443v-21l39-26v21zM1815 2422l-16-10l40-26l15 10z"/>
<path fill="#3e26a8" d="M3378 1484v-9l40-26v9zM3378 1475l-16-10l40-27l16 11z"/>
<path fill="#3e26a8" d="M3338 1511v-10l40-26v9zM3338 1501l-15-10l39-26l16 10z"/>
<path fill="#3e26a8" d="M3299 1537v-10l39-26v10zM3299 1527l-16-10l40-26l15 10z"/>
<path fill="#3e26a8" d="M3259 1563v-9l40-27v10zM3259 1554l-15-11l39-26l16 10z"/>
<path fill="#3e26a8" d="M3220 1589v-9l39-26v9zM3220 1580l-16-10l40-27l15 11z"/>
<path fill="#3e26a8" d="M3180 1616v-10l40-26v9zM3180 1606l-16-10l40-26l16 10z"/>
<path fill="#3e26a8" d="M3140 1642v-10l40-26v10zM3140 1632l-15-10l39-26l16 10z"/>
<path fill="#3e26a8" d="M3101 1668v-9l39-27v10zM3101 1659l-16-11l40-26l15 10z"/>
<path fill="#3e26a8" d="M3061 1694v-9l40-26v9zM3061 1685l-15-10l39-27l16 11z"/>
<path fill="#3e26a8" d="M3022 1721v-10l39-26v9zM3022 1711l-16-10l40-26l15 10z"/>
<path fill="#3e26a8" d="M2982 1747v-10l40-26v10zM2982 1737l-16-10l40-26l16 10z"/>
<path fill="#3e26a8" d="M2942 1773v-9l40-27v10zM2942 1764l-15-11l39-26l16 10z"/>
<path fill="#3e26a8" d="M2903 1799v-9l39-26v9zM2903 1790l-16-10l40-27l15 11z"/>
<path fill="#3e26a8" d="M2863 1826v-10l40-26v9zM2863 1816l-15-10l39-26l16 10z"/>
<path fill="#3e26a8" d="M2824 1852v-9l39-27v10zM2824 1843l-16-11l40-26l15 10z"/>
<path fill="#3e26a8" d="M2784 1878v-9l40-26v9zM2784 1869l-16-11l40-26l16 11z"/>
<path fill="#3e26a8" d="M2744 1904v-9l40-26v9zM2744 1895l-15-10l39-27l16 11z"/>
<path fill="#3e26a8" d="M2705 1931v-10l39-26v9zM2705 1921l-16-10l40-26l15 10z"/>
<path fill="#3e26a8" d="M2665 1957v-11l40-27v12zM2665 1946l-15-11l39-26l16 10z"/>
<path fill="#3e26a8" d="M2626 1983v-15l39-26v15zM2626 1968l-16-10l40-26l15 10z"/>
<path fill="#402cb8" d="M2586 2009v-28l40-26v28zM2586 1981l-16-10l40-26l16 10z"/>
<path fill="#463ee0" d="M2546 2036v-38l40-26v37zM2546 1998l-15-10l39-26l16 10z"/>
<path fill="#4754f5" d="M2507 2062v-49l39-26v49zM2507 2013l-16-10l40-26l15 10z"/>
<path fill="#3a74fe" d="M2467 2088v-60l40-26v60zM2467 2028l-15-10l39-26l16 10z"/>
<path fill="#1babdd" d="M2428 2114v-82l39-26v82zM2428 2032l-16-10l40-27l15 11z"/>
<path fill="#38c897" d="M2388 2141v-109l40-26v108zM2388 2032l-16-10l40-27l16 11z"/>
<path fill="#9dc943" d="M2348 2167v-128l40-26v128zM2348 2039l-15-10l39-26l16 10z"/>
<path fill="#f5e924" d="M2309 2193v-161l39-26v161zM2309 2032l-16-10l40-27l15 11z"/>
<path fill="#f9fb15" d="M2269 2219v-183l40-27v184zM2269 2036l-15-11l39-26l16 10z"/>
<path fill="#f9fb15" d="M2230 2246v-240l39-27v240zM2230 2006l-16-11l40-26l15 10z"/>
<path fill="#f9fb15" d="M2190 2272v-278l40-26v278zM2190 1994l-16-10l40-26l16 10z"/>
<path fill="#f9fb15" d="M2150 2298v-322l40-27v323zM2150 1976l-15-11l39-26l16 10z"/>
<path fill="#f9fb15" d="M2111 2324v-371l39-26v371zM2111 1953l-16-10l40-27l15 11z"/>
<path fill="#f9fb15" d="M2071 2351v-383l40-26v382zM2071 1968l-15-10l39-27l16 11z"/>
<path fill="#f9fb15" d="M2032 2377l-16-10v-406l16 11zM2032 2377v-405l39-26v405zM2032 1972l-16-11l40-26l15 11z"/>
<path fill="#f9fb15" d="M1992 2403l-16-10v-398l16 11zM1992 2403v-397l40-27v398zM1992 2006l-16-11l40-26l16 10z"/>
<path fill="#f9fb15" d="M1952 2429l-15-10v-338l15 11zM1952 2429v-337l40-26v337zM1952 2092l-15-11l39-26l16 11z"/>
<path fill="#f9fb15" d="M1913 2456l-16-11v-273l16 10zM1913 2456v-274l39-26v273zM1913 2182l-16-10l40-27l15 11z"/>
<path fill="#f9fb15" d="M1873 2482l-15-10v-180l15 10zM1873 2482v-180l40-26v180zM1873 2302l-15-10l39-27l16 11z"/>
</g>
<g transform="scale(0.25)" stroke="#000" stroke-width="3.4" stroke-linejoin="round">
<path fill="#406cfe" d="M2595 4069v-22l39-27v23zM2595 4047l-13-9l39-26l13 8z"/>
<path fill="#4464fd" d="M2555 4095v-21l40-26v21zM2555 4074l-13-9l40-26l13 9z"/>
<path fill="#4464fd" d="M2516 4122v-22l39-26v21zM2516 4100l-14-9l40-26l13 9z"/>
<path fill="#406cfe" d="M2476 4148v-23l40-27v24zM2476 4125l-13-9l39-26l14 8z"/>
<path fill="#406cfe" d="M2436 4174v-23l40-27v24zM2436 4151l-13-9l40-26l13 8z"/>
<path fill="#3a74fe" d="M2397 4200l-13-8v-25l13 9zM2397 4200v-24l39-26v24zM2397 4176l-13-9l39-26l13 9z"/>
<path fill="#406cfe" d="M2357 4227v-23l40-26v22zM2357 4204l-13-8l40-27l13 9z"/>
<path fill="#3a74fe" d="M2318 4253v-25l39-26v25zM2318 4228l-14-9l40-26l13 9z"/>
<path fill="#3a74fe" d="M2278 4279v-26l40-26v26zM2278 4253l-13-8l39-27l14 9z"/>
<path fill="#3a74fe" d="M2238 4305v-26l40-26v26zM2238 4279l-13-9l40-26l13 9z"/>
<path fill="#327cfc" d="M2199 4332v-27l39-26v26zM2199 4305l-13-9l39-26l13 9z"/>
<path fill="#3a74fe" d="M2159 4358v-26l40-26v26zM2159 4332l-13-9l40-26l13 9z"/>
<path fill="#327cfc" d="M2120 4384v-28l39-26v28zM2120 4356l-14-9l40-26l13 9z"/>
<path fill="#327cfc" d="M2080 4410v-27l40-27v28zM2080 4383l-13-9l39-26l14 8z"/>
<path fill="#327cfc" d="M2040 4437v-28l40-26v27zM2040 4409l-13-9l40-26l13 9z"/>
<path fill="#327cfc" d="M2001 4463v-29l39-26v29zM2001 4434l-13-8l39-27l13 9z"/>
<path fill="#2d8bf4" d="M1961 4489v-31l40-27v32zM1961 4458l-13-9l40-26l13 8z"/>
<path fill="#2b92ee" d="M1922 4515v-34l39-26v34zM1922 4481l-14-9l40-26l13 9z"/>
<path fill="#2799e9" d="M1882 4542v-36l40-27v36zM1882 4506l-13-9l39-26l14 8z"/>
<path fill="#2799e9" d="M1842 4568v-37l40-26v37zM1842 4531l-13-9l40-26l13 9z"/>
<path fill="#2799e9" d="M1803 4594v-37l39-26v37zM1803 4557l-13-9l39-26l13 9z"/>
<path fill="#1fa5e2" d="M1763 4620v-40l40-26v40zM1763 4580l-13-9l40-26l13 9z"/>
<path fill="#1fa5e2" d="M1724 4647v-43l39-26v42zM1724 4604l-14-8l40-27l13 9z"/>
<path fill="#1babdd" d="M1684 4673v-45l40-26v45zM1684 4628l-13-8l39-27l14 9z"/>
<path fill="#11b0d7" d="M1644 4699v-46l40-27v47zM1644 4653l-13-9l40-26l13 8z"/>
<path fill="#08b5cf" d="M1605 4725v-49l39-26v49zM1605 4676l-13-8l39-27l13 9z"/>
<path fill="#08b5cf" d="M1565 4752v-49l40-26v48zM1565 4703l-13-9l40-26l13 9z"/>
<path fill="#26c2ad" d="M1526 4778v-57l39-27v58zM1526 4721l-14-9l40-26l13 8z"/>
<path fill="#38c897" d="M1486 4804v-62l40-26v62zM1486 4742l-13-9l39-26l14 9z"/>
<path fill="#52cc7e" d="M1446 4830v-66l40-26v66zM1446 4764l-13-9l40-26l13 9z"/>
<path fill="#76cc60" d="M1407 4857v-71l39-27v71zM1407 4786l-13-9l39-26l13 8z"/>
<path fill="#e0bc2a" d="M1367 4883v-86l40-26v86zM1367 4797l-13-8l40-27l13 9z"/>
<path fill="#febe3c" d="M1328 4909v-92l39-27v93zM1328 4817l-14-9l40-26l13 8z"/>
<path fill="#f6f21e" d="M1288 4935v-105l40-27v106zM1288 4830l-13-9l39-26l14 8z"/>
<path fill="#f9fb15" d="M1248 4962v-126l40-26v125zM1248 4836l-13-9l40-26l13 9z"/>
<path fill="#f9fb15" d="M1209 4988l-13-9v-132l13 9zM1209 4988v-132l39-26v132zM1209 4856l-13-9l39-26l13 9z"/>
<path fill="#f9fb15" d="M1169 5014v-130l40-26v130zM1169 4884l-13-9l40-26l13 9z"/>
<path fill="#f9fb15" d="M1130 5040v-136l39-26v136zM1130 4904l-14-8l40-27l13 9z"/>
<path fill="#f9fb15" d="M1090 5067l-13-9v-371l13 8zM1090 5067v-372l40-26v371zM1090 4695l-13-8l39-27l14 9z"/>
<path fill="#327cfc" d="M2665 4115v-26l39-27v27zM2665 4089l-13-9l39-26l13 8z"/>
<path fill="#327cfc" d="M2625 4142v-28l40-26v27zM2625 4114l-13-9l40-26l13 9z"/>
<path fill="#327cfc" d="M2586 4168v-28l39-26v28zM2586 4140l-14-9l40-26l13 9z"/>
<path fill="#327cfc" d="M2546 4194v-28l40-27v29zM2546 4166l-13-9l39-26l14 8z"/>
<path fill="#2f84f9" d="M2506 4220v-30l40-27v31zM2506 4190l-13-9l40-26l13 8z"/>
<path fill="#2d8bf4" d="M2467 4247v-32l39-26v31zM2467 4215l-13-9l39-26l13 9z"/>
<path fill="#2b92ee" d="M2427 4273l-13-9v-34l13 9zM2427 4273v-34l40-26v34zM2427 4239l-13-9l40-26l13 9z"/>
<path fill="#2d8bf4" d="M2388 4299v-32l39-26v32zM2388 4267l-14-9l40-26l13 9z"/>
<path fill="#2799e9" d="M2348 4325v-35l40-26v35zM2348 4290l-13-9l39-26l14 9z"/>
<path fill="#2799e9" d="M2308 4352v-37l40-26v36zM2308 4315l-13-9l40-26l13 9z"/>
<path fill="#2799e9" d="M2269 4378v-37l39-26v37zM2269 4341l-13-9l39-26l13 9z"/>
<path fill="#239fe6" d="M2229 4404v-39l40-26v39zM2229 4365l-13-9l40-26l13 9z"/>
<path fill="#1fa5e2" d="M2190 4430v-41l39-27v42zM2190 4389l-14-9l40-26l13 8z"/>
<path fill="#1babdd" d="M2150 4457v-43l40-27v43zM2150 4414l-13-9l39-26l14 8z"/>
<path fill="#11b0d7" d="M2110 4483v-45l40-26v45zM2110 4438l-13-9l40-26l13 9z"/>
<path fill="#08b5cf" d="M2071 4509v-47l39-27v48zM2071 4462l-13-9l39-26l13 8z"/>
<path fill="#01b9c7" d="M2031 4536v-50l40-26v49zM2031 4486l-13-9l40-26l13 9z"/>
<path fill="#01b9c7" d="M1992 4562v-51l39-27v52zM1992 4511l-14-9l40-26l13 8z"/>
<path fill="#17bfb6" d="M1952 4588v-54l40-26v54zM1952 4534l-13-9l39-26l14 9z"/>
<path fill="#17bfb6" d="M1912 4614v-55l40-26v55zM1912 4559l-13-8l40-27l13 9z"/>
<path fill="#17bfb6" d="M1873 4641v-56l39-26v55zM1873 4585l-13-9l39-26l13 9z"/>
<path fill="#26c2ad" d="M1833 4667v-56l40-27v57zM1833 4611l-13-9l40-26l13 8z"/>
<path fill="#2fc5a2" d="M1794 4693v-59l39-26v59zM1794 4634l-14-9l40-26l13 9z"/>
<path fill="#2fc5a2" d="M1754 4719v-60l40-26v60zM1754 4659l-13-9l39-26l14 9z"/>
<path fill="#52cc7e" d="M1714 4746v-68l40-26v67zM1714 4678l-13-9l40-26l13 9z"/>
<path fill="#8acb51" d="M1675 4772v-73l39-26v73zM1675 4699l-13-9l39-26l13 9z"/>
<path fill="#c1c32d" d="M1635 4798v-79l40-27v80zM1635 4719l-13-9l40-26l13 8z"/>
<path fill="#e0bc2a" d="M1596 4824v-84l39-26v84zM1596 4740l-14-9l40-26l13 9z"/>
<path fill="#f7bb3a" d="M1556 4851v-91l40-26v90zM1556 4760l-13-9l39-26l14 9z"/>
<path fill="#fec636" d="M1516 4877v-95l40-26v95zM1516 4782l-13-8l40-27l13 9z"/>
<path fill="#f6df29" d="M1477 4903v-100l39-26v100zM1477 4803l-13-8l39-27l13 9z"/>
<path fill="#f9fb15" d="M1437 4929v-114l40-26v114zM1437 4815l-13-9l40-26l13 9z"/>
<path fill="#f9fb15" d="M1398 4956v-120l39-26v119zM1398 4836l-14-8l40-27l13 9z"/>
<path fill="#f9fb15" d="M1358 4982l-13-9v-184l13 8zM1358 4982v-185l40-26v185zM1358 4797l-13-8l39-27l14 9z"/>
<path fill="#f9fb15" d="M1318 5008l-13-9v-161l13 9zM1318 5008v-161l40-26v161zM1318 4847l-13-9l40-26l13 9z"/>
<path fill="#f9fb15" d="M1279 5034v-134l39-26v134zM1279 4900l-13-9l39-26l13 9z"/>
<path fill="#f9fb15" d="M1239 5061l-13-9v-197l13 9zM1239 5061v-197l40-26v196zM1239 4864l-13-9l40-26l13 9z"/>
<path fill="#f9fb15" d="M1200 5087l-14-9v-187l14 9zM1200 5087v-187l39-26v187zM1200 4900l-14-9l40-26l13 9z"/>
<path fill="#f9fb15" d="M1160 5113l-13-9v-159l13 9zM1160 5113v-159l40-26v159zM1160 4954l-13-9l39-26l14 9z"/>
<path fill="#3a74fe" d="M2701 4139v-26l39-26v26zM2701 4113l-13-9l39-26l13 9z"/>
<path fill="#327cfc" d="M2661 4166v-28l40-26v27zM2661 4138l-13-9l40-26l13 9z"/>
<path fill="#2f84f9" d="M2622 4192v-29l39-27v30zM2622 4163l-14-9l40-26l13 8z"/>
<path fill="#2f84f9" d="M2582 4218v-30l40-26v30zM2582 4188l-13-8l39-27l14 9z"/>
<path fill="#2f84f9" d="M2542 4244v-30l40-26v30zM2542 4214l-13-9l40-26l13 9z"/>
<path fill="#2d8bf4" d="M2503 4271v-32l39-26v31zM2503 4239l-13-8l39-27l13 9z"/>
<path fill="#2d8bf4" d="M2463 4297v-32l40-26v32zM2463 4265l-13-9l40-26l13 9z"/>
<path fill="#2b92ee" d="M2424 4323v-34l39-26v34zM2424 4289l-14-9l40-26l13 9z"/>
<path fill="#2b92ee" d="M2384 4349v-34l40-26v34zM2384 4315l-13-9l39-26l14 9z"/>
<path fill="#239fe6" d="M2344 4376v-38l40-27v38zM2344 4338l-13-9l40-26l13 8z"/>
<path fill="#239fe6" d="M2305 4402v-39l39-27v40zM2305 4363l-13-9l39-26l13 8z"/>
<path fill="#1fa5e2" d="M2265 4428v-41l40-26v41zM2265 4387l-13-9l40-26l13 9z"/>
<path fill="#1babdd" d="M2226 4454v-43l39-26v43zM2226 4411l-14-9l40-26l13 9z"/>
<path fill="#1babdd" d="M2186 4481v-44l40-27v44zM2186 4437l-13-9l39-26l14 8z"/>
<path fill="#11b0d7" d="M2146 4507v-45l40-27v46zM2146 4462l-13-9l40-26l13 8z"/>
<path fill="#08b5cf" d="M2107 4533v-48l39-27v49zM2107 4485l-13-9l39-26l13 8z"/>
<path fill="#01b9c7" d="M2067 4559v-50l40-26v50zM2067 4509l-13-9l40-26l13 9z"/>
<path fill="#0abcbf" d="M2028 4586v-52l39-26v51zM2028 4534l-14-9l40-26l13 9z"/>
<path fill="#0abcbf" d="M1988 4612v-53l40-26v53zM1988 4559l-13-9l39-26l14 9z"/>
<path fill="#17bfb6" d="M1948 4638v-55l40-26v55zM1948 4583l-13-8l40-27l13 9z"/>
<path fill="#17bfb6" d="M1909 4664v-54l39-27v55zM1909 4610l-13-9l39-26l13 8z"/>
<path fill="#26c2ad" d="M1869 4691v-57l40-26v56zM1869 4634l-13-9l40-26l13 9z"/>
<path fill="#2fc5a2" d="M1830 4717v-59l39-26v59zM1830 4658l-14-9l40-26l13 9z"/>
<path fill="#38c897" d="M1790 4743v-62l40-26v62zM1790 4681l-13-8l39-27l14 9z"/>
<path fill="#64cc6f" d="M1750 4769v-67l40-27v68zM1750 4702l-13-9l40-26l13 8z"/>
<path fill="#8acb51" d="M1711 4796v-73l39-26v72zM1711 4723l-13-9l39-26l13 9z"/>
<path fill="#b0c636" d="M1671 4822v-79l40-26v79zM1671 4743l-13-9l40-26l13 9z"/>
<path fill="#e0bc2a" d="M1632 4848v-84l39-26v84zM1632 4764l-14-8l40-27l13 9z"/>
<path fill="#f7bb3a" d="M1592 4874v-88l40-27v89zM1592 4786l-13-9l39-26l14 8z"/>
<path fill="#fec636" d="M1552 4901v-94l40-27v94zM1552 4807l-13-9l40-26l13 8z"/>
<path fill="#f9d72d" d="M1513 4927v-98l39-27v99zM1513 4829l-13-9l39-26l13 8z"/>
<path fill="#f9fb15" d="M1473 4953v-112l40-26v112zM1473 4841l-13-8l40-27l13 9z"/>
<path fill="#f9fb15" d="M1394 5006l-13-9v-159l13 9zM1394 4847l-13-9l39-26l14 9z"/>
<path fill="#f9fb15" d="M1354 4876l-13-9l40-26l13 8z"/>
<path fill="#f9fb15" d="M1315 5058l-13-9v-165l13 9zM1315 5058v-165l39-26v165zM1315 4893l-13-9l39-26l13 9z"/>
<path fill="#f9fb15" d="M1275 4935l-13-9l40-26l13 8z"/>
<path fill="#f9fb15" d="M1236 5111v-207l39-27v207zM1236 4904l-14-9l40-26l13 8z"/>
<path fill="#f9fb15" d="M1196 5137l-13-9v-227l13 9zM1196 5137v-227l40-26v227zM1196 4910l-13-9l39-26l14 9z"/>
<path fill="#327cfc" d="M2729 4158v-29l39-26v29zM2729 4129l-13-8l39-27l13 9z"/>
<path fill="#2f84f9" d="M2689 4184v-30l40-27v31zM2689 4154l-13-9l40-26l13 8z"/>
<path fill="#2f84f9" d="M2650 4210v-30l39-27v31zM2650 4180l-14-9l40-26l13 8z"/>
<path fill="#2d8bf4" d="M2610 4237v-32l40-26v31zM2610 4205l-13-9l39-26l14 9z"/>
<path fill="#2b92ee" d="M2570 4263v-34l40-27v35zM2570 4229l-13-9l40-26l13 8z"/>
<path fill="#2799e9" d="M2531 4289v-36l39-26v36zM2531 4253l-13-8l39-27l13 9z"/>
<path fill="#2799e9" d="M2491 4315v-35l40-26v35zM2491 4280l-13-9l40-26l13 9z"/>
<path fill="#2799e9" d="M2452 4342v-38l39-26v37zM2452 4304l-14-9l40-26l13 9z"/>
<path fill="#239fe6" d="M2412 4368v-40l40-26v40zM2412 4328l-13-9l39-26l14 9z"/>
<path fill="#1fa5e2" d="M2372 4394v-41l40-26v41zM2372 4353l-13-9l40-26l13 9z"/>
<path fill="#1babdd" d="M2333 4420v-43l39-26v43zM2333 4377l-13-9l39-26l13 9z"/>
<path fill="#11b0d7" d="M2293 4447v-45l40-27v45zM2293 4402l-13-9l40-26l13 8z"/>
<path fill="#11b0d7" d="M2254 4473v-47l39-26v47zM2254 4426l-14-9l40-26l13 9z"/>
<path fill="#08b5cf" d="M2214 4499v-48l40-26v48zM2214 4451l-13-9l39-26l14 9z"/>
<path fill="#01b9c7" d="M2174 4525v-51l40-26v51zM2174 4474l-13-9l40-26l13 9z"/>
<path fill="#0abcbf" d="M2135 4552v-53l39-26v52zM2135 4499l-13-8l39-27l13 9z"/>
<path fill="#17bfb6" d="M2095 4578v-55l40-26v55zM2095 4523l-13-8l40-27l13 9z"/>
<path fill="#26c2ad" d="M2056 4604v-56l39-26v56zM2056 4548l-14-9l40-26l13 9z"/>
<path fill="#2fc5a2" d="M2016 4630v-58l40-27v59zM2016 4572l-13-9l39-26l14 8z"/>
<path fill="#2fc5a2" d="M1976 4657v-60l40-26v59zM1976 4597l-13-9l40-26l13 9z"/>
<path fill="#38c897" d="M1937 4683v-62l39-26v62zM1937 4621l-13-8l39-27l13 9z"/>
<path fill="#38c897" d="M1897 4709v-62l40-27v63zM1897 4647l-13-9l40-26l13 8z"/>
<path fill="#42ca8b" d="M1858 4735v-63l39-26v63zM1858 4672l-14-9l40-26l13 9z"/>
<path fill="#64cc6f" d="M1818 4762v-69l40-27v69zM1818 4693l-13-9l39-26l14 8z"/>
<path fill="#9dc943" d="M1778 4788v-75l40-26v75zM1778 4713l-13-9l40-26l13 9z"/>
<path fill="#d1bf29" d="M1739 4814v-82l39-26v82zM1739 4732l-13-8l39-27l13 9z"/>
<path fill="#ecba34" d="M1699 4840v-86l40-26v86zM1699 4754l-13-9l40-26l13 9z"/>
<path fill="#febe3c" d="M1660 4867v-92l39-26v91zM1660 4775l-14-9l40-26l13 9z"/>
<path fill="#f9d72d" d="M1620 4893v-97l40-27v98zM1620 4796l-13-9l39-26l14 8z"/>
<path fill="#f6df29" d="M1580 4919v-100l40-26v100zM1580 4819l-13-8l40-27l13 9z"/>
<path fill="#f9fb15" d="M1541 4946v-107l39-26v106zM1541 4839l-13-9l39-26l13 9z"/>
<path fill="#f9fb15" d="M1501 4972v-119l40-27v120zM1501 4853l-13-9l40-26l13 8z"/>
<path fill="#f9fb15" d="M1462 4877l-14-8l40-27l13 9z"/>
<path fill="#f9fb15" d="M1422 5024v-183l40-27v184zM1422 4841l-13-9l39-26l14 8z"/>
<path fill="#f9fb15" d="M1382 5051l-13-9v-188l13 9zM1382 5051v-188l40-27v188zM1382 4863l-13-9l40-26l13 8z"/>
<path fill="#f9fb15" d="M1343 5077l-13-9v-180l13 8zM1343 5077v-181l39-26v181zM1343 4896l-13-8l39-27l13 9z"/>
<path fill="#f9fb15" d="M1303 5103v-175l40-26v175zM1303 4928l-13-9l40-26l13 9z"/>
<path fill="#f9fb15" d="M1264 5129v-179l39-26v179zM1264 4950l-14-9l40-26l13 9z"/>
<path fill="#f9fb15" d="M1224 5156l-13-9v-214l13 9zM1224 5156v-214l40-26v213zM1224 4942l-13-9l39-26l14 9z"/>
<path fill="#327cfc" d="M2753 4174v-27l39-27v28zM2753 4147l-13-9l39-26l13 8z"/>
<path fill="#2f84f9" d="M2713 4200v-29l40-26v29zM2713 4171l-13-9l40-26l13 9z"/>
<path fill="#2f84f9" d="M2674 4226v-29l39-26v29zM2674 4197l-14-9l40-26l13 9z"/>
<path fill="#2f84f9" d="M2634 4253v-31l40-26v30zM2634 4222l-13-8l39-27l14 9z"/>
<path fill="#2d8bf4" d="M2594 4279v-32l40-26v32zM2594 4247l-13-9l40-26l13 9z"/>
<path fill="#2b92ee" d="M2555 4305v-34l39-26v34zM2555 4271l-13-9l39-26l13 9z"/>
<path fill="#2b92ee" d="M2515 4331v-34l40-26v34zM2515 4297l-13-8l40-27l13 9z"/>
<path fill="#2799e9" d="M2476 4358v-36l39-27v36zM2476 4322l-14-9l40-26l13 8z"/>
<path fill="#239fe6" d="M2436 4384v-39l40-26v39zM2436 4345l-13-8l39-27l14 9z"/>
<path fill="#239fe6" d="M2396 4410v-38l40-27v39zM2396 4372l-13-9l40-26l13 8z"/>
<path fill="#239fe6" d="M2357 4436v-40l39-26v40zM2357 4396l-13-8l39-27l13 9z"/>
<path fill="#1babdd" d="M2317 4463v-44l40-26v43zM2317 4419l-13-9l40-26l13 9z"/>
<path fill="#1babdd" d="M2278 4489v-44l39-26v44zM2278 4445l-14-8l40-27l13 9z"/>
<path fill="#11b0d7" d="M2238 4515v-45l40-26v45zM2238 4470l-13-9l39-26l14 9z"/>
<path fill="#11b0d7" d="M2198 4541v-46l40-27v47zM2198 4495l-13-9l40-26l13 8z"/>
<path fill="#01b9c7" d="M2159 4568v-50l39-26v49zM2159 4518l-13-8l39-27l13 9z"/>
<path fill="#01b9c7" d="M2119 4594v-51l40-27v52zM2119 4543l-13-9l40-26l13 8z"/>
<path fill="#0abcbf" d="M2080 4620v-52l39-26v52zM2080 4568l-14-9l40-26l13 9z"/>
<path fill="#0abcbf" d="M2040 4646v-52l40-27v53zM2040 4594l-13-9l39-26l14 8z"/>
<path fill="#0abcbf" d="M2000 4673v-54l40-26v53zM2000 4619l-13-9l40-26l13 9z"/>
<path fill="#26c2ad" d="M1961 4699v-58l39-26v58zM1961 4641l-13-9l39-26l13 9z"/>
<path fill="#2fc5a2" d="M1921 4725v-58l40-27v59zM1921 4667l-13-9l40-26l13 8z"/>
<path fill="#2fc5a2" d="M1882 4751v-59l39-27v60zM1882 4692l-14-9l40-26l13 8z"/>
<path fill="#52cc7e" d="M1842 4778v-66l40-27v66zM1842 4712l-13-9l39-26l14 8z"/>
<path fill="#76cc60" d="M1802 4804v-71l40-26v71zM1802 4733l-13-9l40-26l13 9z"/>
<path fill="#9dc943" d="M1763 4830v-74l39-27v75zM1763 4756l-13-9l39-26l13 8z"/>
<path fill="#c1c32d" d="M1723 4856v-80l40-27v81zM1723 4776l-13-9l40-26l13 8z"/>
<path fill="#e0bc2a" d="M1684 4883v-85l39-26v84zM1684 4798l-14-9l40-26l13 9z"/>
<path fill="#f7bb3a" d="M1644 4909v-88l40-27v89zM1644 4821l-13-9l39-26l14 8z"/>
<path fill="#fec636" d="M1604 4935v-94l40-26v94zM1604 4841l-13-8l40-27l13 9z"/>
<path fill="#f6df29" d="M1565 4961v-99l39-26v99zM1565 4862l-13-9l39-26l13 9z"/>
<path fill="#f9fb15" d="M1525 4988v-109l40-26v108zM1525 4879l-13-9l40-26l13 9z"/>
<path fill="#f9fb15" d="M1486 5014v-143l39-26v143zM1486 4871l-14-9l40-26l13 9z"/>
<path fill="#f9fb15" d="M1446 5040l-13-9v-193l13 8zM1446 5040v-194l40-26v194zM1446 4846l-13-8l39-27l14 9z"/>
<path fill="#f9fb15" d="M1406 4948l-13-9l40-26l13 8z"/>
<path fill="#f9fb15" d="M1367 5093l-13-9v-204l13 9zM1367 5093v-204l39-26v203zM1367 4889l-13-9l39-26l13 9z"/>
<path fill="#f9fb15" d="M1327 5119l-13-9v-189l13 9zM1327 5119v-189l40-26v189zM1327 4930l-13-9l40-26l13 9z"/>
<path fill="#f9fb15" d="M1248 5171l-13-8v-236l13 9zM1248 5171v-235l40-26v235zM1248 4936l-13-9l39-26l14 9z"/>
<path fill="#2f84f9" d="M2780 4192v-30l39-26v29zM2780 4162l-14-9l40-26l13 9z"/>
<path fill="#2d8bf4" d="M2740 4218v-31l40-27v32zM2740 4187l-13-9l39-26l14 8z"/>
<path fill="#2f84f9" d="M2700 4244v-31l40-26v31zM2700 4213l-13-8l40-27l13 9z"/>
<path fill="#2b92ee" d="M2661 4270v-34l39-26v34zM2661 4236l-13-8l39-27l13 9z"/>
<path fill="#2d8bf4" d="M2621 4297v-34l40-26v33zM2621 4263l-13-8l40-27l13 9z"/>
<path fill="#2b92ee" d="M2582 4323v-35l39-27v36zM2582 4288l-14-9l40-26l13 8z"/>
<path fill="#2799e9" d="M2542 4349v-37l40-27v38zM2542 4312l-13-9l39-26l14 8z"/>
<path fill="#239fe6" d="M2502 4375v-39l40-26v39zM2502 4336l-13-9l40-26l13 9z"/>
<path fill="#1fa5e2" d="M2463 4402v-42l39-26v41zM2463 4360l-13-8l39-27l13 9z"/>
<path fill="#1fa5e2" d="M2423 4428v-42l40-26v42zM2423 4386l-13-9l40-26l13 9z"/>
<path fill="#1babdd" d="M2384 4454v-44l39-26v44zM2384 4410l-14-8l40-27l13 9z"/>
<path fill="#11b0d7" d="M2344 4480v-45l40-27v46zM2344 4435l-13-9l39-26l14 8z"/>
<path fill="#08b5cf" d="M2304 4507v-48l40-26v47zM2304 4459l-13-8l40-27l13 9z"/>
<path fill="#08b5cf" d="M2265 4533v-48l39-26v48zM2265 4485l-13-9l39-26l13 9z"/>
<path fill="#01b9c7" d="M2225 4559v-50l40-27v51zM2225 4509l-13-9l40-26l13 8z"/>
<path fill="#0abcbf" d="M2186 4585v-52l39-26v52zM2186 4533l-14-8l40-27l13 9z"/>
<path fill="#17bfb6" d="M2146 4612v-56l40-26v55zM2146 4556l-13-8l39-27l14 9z"/>
<path fill="#17bfb6" d="M2106 4638v-56l40-26v56zM2106 4582l-13-8l40-27l13 9z"/>
<path fill="#26c2ad" d="M2067 4664v-57l39-26v57zM2067 4607l-13-9l39-26l13 9z"/>
<path fill="#2fc5a2" d="M2027 4690v-58l40-26v58zM2027 4632l-13-9l40-26l13 9z"/>
<path fill="#2fc5a2" d="M1988 4717v-60l39-26v59zM1988 4657l-14-9l40-26l13 9z"/>
<path fill="#38c897" d="M1948 4743v-63l40-26v63zM1948 4680l-13-9l39-26l14 9z"/>
<path fill="#52cc7e" d="M1908 4769v-65l40-27v66zM1908 4704l-13-9l40-26l13 8z"/>
<path fill="#76cc60" d="M1869 4795v-70l39-26v70zM1869 4725l-13-9l39-26l13 9z"/>
<path fill="#9dc943" d="M1829 4822v-76l40-27v76zM1829 4746l-13-9l40-27l13 9z"/>
<path fill="#c1c32d" d="M1790 4848v-81l39-27v82zM1790 4767l-14-9l40-26l13 8z"/>
<path fill="#ecba34" d="M1750 4874v-87l40-26v87zM1750 4787l-13-9l39-26l14 9z"/>
<path fill="#f7bb3a" d="M1710 4900v-89l40-26v89zM1710 4811l-13-9l40-26l13 9z"/>
<path fill="#fec636" d="M1671 4927v-94l39-26v93zM1671 4833l-13-9l39-26l13 9z"/>
<path fill="#f9d72d" d="M1631 4953v-97l40-27v98zM1631 4856l-13-9l40-26l13 8z"/>
<path fill="#f5e924" d="M1592 4979v-104l39-26v104zM1592 4875l-14-9l40-26l13 9z"/>
<path fill="#f9fb15" d="M1552 5005v-115l40-26v115zM1552 4890l-13-9l39-26l14 9z"/>
<path fill="#f9fb15" d="M1512 5032v-139l40-27v139zM1512 4893l-13-9l40-26l13 8z"/>
<path fill="#f9fb15" d="M1473 5058v-172l39-26v172zM1473 4886l-13-9l39-26l13 9z"/>
<path fill="#f9fb15" d="M1433 5084l-13-9v-171l13 9zM1433 5084v-171l40-26v171zM1433 4913l-13-9l40-26l13 9z"/>
<path fill="#f9fb15" d="M1394 4969l-14-9l40-26l13 8z"/>
<path fill="#f9fb15" d="M1354 5137v-196l40-26v195zM1354 4941l-13-9l39-26l14 9z"/>
<path fill="#f9fb15" d="M1314 5163v-214l40-26v214zM1314 4949l-13-8l40-27l13 9z"/>
<path fill="#f9fb15" d="M1275 5189l-13-9v-223l13 9zM1275 5189v-223l39-26v223zM1275 4966l-13-9l39-26l13 9z"/>
<path fill="#2d8bf4" d="M2801 4206v-31l39-27v31zM2801 4175l-13-9l39-26l13 8z"/>
<path fill="#2d8bf4" d="M2761 4232v-32l40-26v32zM2761 4200l-13-9l40-26l13 9z"/>
<path fill="#2d8bf4" d="M2722 4258v-32l39-26v32zM2722 4226l-14-9l40-26l13 9z"/>
<path fill="#2b92ee" d="M2682 4284v-35l40-26v35zM2682 4249l-13-9l39-26l14 9z"/>
<path fill="#2b92ee" d="M2642 4311v-36l40-26v35zM2642 4275l-13-8l40-27l13 9z"/>
<path fill="#2799e9" d="M2603 4337v-38l39-26v38zM2603 4299l-13-8l39-27l13 9z"/>
<path fill="#239fe6" d="M2563 4363v-39l40-26v39zM2563 4324l-13-9l40-26l13 9z"/>
<path fill="#1fa5e2" d="M2524 4389v-41l39-26v41zM2524 4348l-14-8l40-27l13 9z"/>
<path fill="#1fa5e2" d="M2484 4416v-43l40-26v42zM2484 4373l-13-8l39-27l14 9z"/>
<path fill="#1babdd" d="M2444 4442v-43l40-27v44zM2444 4399l-13-9l40-26l13 8z"/>
<path fill="#11b0d7" d="M2405 4468v-46l39-26v46zM2405 4422l-13-8l39-27l13 9z"/>
<path fill="#08b5cf" d="M2365 4494v-47l40-26v47zM2365 4447l-13-8l40-27l13 9z"/>
<path fill="#01b9c7" d="M2326 4521v-50l39-26v49zM2326 4471l-14-8l40-27l13 9z"/>
<path fill="#01b9c7" d="M2286 4547v-50l40-26v50zM2286 4497l-13-9l39-26l14 9z"/>
<path fill="#0abcbf" d="M2246 4573v-53l40-27v54zM2246 4520l-13-9l40-26l13 8z"/>
<path fill="#17bfb6" d="M2207 4599v-54l39-26v54zM2207 4545l-13-9l39-26l13 9z"/>
<path fill="#26c2ad" d="M2167 4626v-57l40-26v56zM2167 4569l-13-8l40-27l13 9z"/>
<path fill="#26c2ad" d="M2128 4652v-58l39-26v58zM2128 4594l-14-9l40-26l13 9z"/>
<path fill="#26c2ad" d="M2088 4678v-58l40-26v58zM2088 4620l-13-9l39-26l14 9z"/>
<path fill="#38c897" d="M2048 4704v-61l40-26v61zM2048 4643l-13-9l40-26l13 9z"/>
<path fill="#38c897" d="M2009 4731v-62l39-27v62zM2009 4669l-13-9l39-26l13 8z"/>
<path fill="#42ca8b" d="M1969 4757v-64l40-26v64zM1969 4693l-13-8l40-27l13 9z"/>
<path fill="#64cc6f" d="M1930 4783v-68l39-26v68zM1930 4715l-14-8l40-27l13 9z"/>
<path fill="#8acb51" d="M1890 4809v-73l40-26v73zM1890 4736l-13-9l39-26l14 9z"/>
<path fill="#c1c32d" d="M1850 4836v-80l40-26v79zM1850 4756l-13-8l40-27l13 9z"/>
<path fill="#d1bf29" d="M1811 4862v-83l39-27v84zM1811 4779l-13-9l39-26l13 8z"/>
<path fill="#f7bb3a" d="M1771 4888v-89l40-26v89zM1771 4799l-13-8l40-27l13 9z"/>
<path fill="#fec636" d="M1732 4914v-93l39-26v93zM1732 4821l-14-9l40-26l13 9z"/>
<path fill="#fcce31" d="M1692 4941v-97l40-26v96zM1692 4844l-13-9l39-26l14 9z"/>
<path fill="#f6df29" d="M1652 4967v-100l40-26v100zM1652 4867l-13-9l40-26l13 9z"/>
<path fill="#f9fb15" d="M1613 4993v-107l39-26v107zM1613 4886l-13-9l39-26l13 9z"/>
<path fill="#f9fb15" d="M1573 5019v-118l40-27v119zM1573 4901l-13-9l40-26l13 8z"/>
<path fill="#f9fb15" d="M1534 5046l-14-9v-156l14 9zM1534 5046v-156l39-26v155zM1534 4890l-14-9l40-26l13 9z"/>
<path fill="#f9fb15" d="M1454 5098l-13-8v-187l13 9zM1454 5098v-186l40-26v186zM1454 4912l-13-9l40-26l13 9z"/>
<path fill="#f9fb15" d="M1415 4966l-13-9l39-26l13 8z"/>
<path fill="#f9fb15" d="M1375 5151v-173l40-27v174zM1375 4978l-13-9l40-26l13 8z"/>
<path fill="#f9fb15" d="M1336 5177v-220l39-26v220zM1336 4957l-14-9l40-26l13 9z"/>
<path fill="#f9fb15" d="M1296 5203l-13-8v-241l13 9zM1296 5203v-240l40-26v240zM1296 4963l-13-9l39-26l14 9z"/>
<path fill="#327cfc" d="M2832 4226v-28l39-26v28zM2832 4198l-14-9l40-26l13 9z"/>
<path fill="#2f84f9" d="M2792 4252v-29l40-26v29zM2792 4223l-13-9l39-26l14 9z"/>
<path fill="#2f84f9" d="M2752 4279v-31l40-26v30zM2752 4248l-13-8l40-27l13 9z"/>
<path fill="#2f84f9" d="M2713 4305v-30l39-27v31zM2713 4275l-13-9l39-27l13 9z"/>
<path fill="#2d8bf4" d="M2673 4331v-33l40-26v33zM2673 4298l-13-9l40-26l13 9z"/>
<path fill="#2799e9" d="M2634 4357l-14-8v-36l14 8zM2634 4357v-36l39-26v36zM2634 4321l-14-8l40-27l13 9z"/>
<path fill="#2b92ee" d="M2594 4384v-35l40-26v34zM2594 4349l-13-8l39-27l14 9z"/>
<path fill="#2799e9" d="M2554 4410v-36l40-27v37zM2554 4374l-13-9l40-26l13 8z"/>
<path fill="#239fe6" d="M2515 4436v-39l39-26v39zM2515 4397l-13-9l39-26l13 9z"/>
<path fill="#1fa5e2" d="M2475 4462v-41l40-26v41zM2475 4421l-13-8l40-27l13 9z"/>
<path fill="#1fa5e2" d="M2436 4489v-42l39-26v41zM2436 4447l-14-9l40-26l13 9z"/>
<path fill="#1babdd" d="M2396 4515v-43l40-26v43zM2396 4472l-13-8l39-27l14 9z"/>
<path fill="#11b0d7" d="M2356 4541v-45l40-26v45zM2356 4496l-13-9l40-26l13 9z"/>
<path fill="#11b0d7" d="M2317 4567v-46l39-26v46zM2317 4521l-13-8l39-27l13 9z"/>
<path fill="#08b5cf" d="M2277 4594v-48l40-26v47zM2277 4546l-13-8l40-27l13 9z"/>
<path fill="#01b9c7" d="M2238 4620v-50l39-26v50zM2238 4570l-14-9l40-26l13 9z"/>
<path fill="#01b9c7" d="M2198 4646v-50l40-27v51zM2198 4596l-13-9l39-26l14 8z"/>
<path fill="#01b9c7" d="M2158 4672v-50l40-26v50zM2158 4622l-13-9l40-26l13 9z"/>
<path fill="#0abcbf" d="M2119 4699v-54l39-26v53zM2119 4645l-13-9l39-26l13 9z"/>
<path fill="#17bfb6" d="M2079 4725v-54l40-27v55zM2079 4671l-13-9l40-26l13 8z"/>
<path fill="#17bfb6" d="M2040 4751v-55l39-26v55zM2040 4696l-14-9l40-26l13 9z"/>
<path fill="#26c2ad" d="M2000 4777v-56l40-27v57zM2000 4721l-13-9l39-26l14 8z"/>
<path fill="#38c897" d="M1960 4804v-63l40-26v62zM1960 4741l-13-8l40-27l13 9z"/>
<path fill="#52cc7e" d="M1921 4830v-67l39-26v67zM1921 4763l-13-9l39-26l13 9z"/>
<path fill="#76cc60" d="M1881 4856v-71l40-27v72zM1881 4785l-13-9l40-26l13 8z"/>
<path fill="#b0c636" d="M1842 4882v-77l39-26v77zM1842 4805l-14-8l40-27l13 9z"/>
<path fill="#b0c636" d="M1802 4909v-79l40-26v78zM1802 4830l-13-9l39-26l14 9z"/>
<path fill="#d1bf29" d="M1762 4935v-83l40-26v83zM1762 4852l-13-9l40-26l13 9z"/>
<path fill="#e0bc2a" d="M1723 4961v-84l39-26v84zM1723 4877l-13-9l39-26l13 9z"/>
<path fill="#f7bb3a" d="M1683 4987v-88l40-26v88zM1683 4899l-13-9l40-26l13 9z"/>
<path fill="#fec636" d="M1644 5014v-95l39-26v94zM1644 4919l-14-9l40-26l13 9z"/>
<path fill="#f6f21e" d="M1604 5040v-105l40-26v105zM1604 4935l-13-9l39-26l14 9z"/>
<path fill="#f9fb15" d="M1564 5066v-131l40-26v131zM1564 4935l-13-9l40-26l13 9z"/>
<path fill="#f9fb15" d="M1446 5145v-172l39-26v172zM1446 4973l-14-8l40-27l13 9z"/>
<path fill="#f9fb15" d="M1366 5021l-13-9l40-26l13 8z"/>
<path fill="#f9fb15" d="M1327 5224l-13-9v-196l13 9zM1327 5224v-196l39-26v195zM1327 5028l-13-9l39-26l13 9z"/>
<path fill="#2f84f9" d="M2853 4240v-29l39-27v30zM2853 4211l-13-9l39-26l13 8z"/>
<path fill="#2f84f9" d="M2813 4266v-31l40-26v31zM2813 4235l-13-8l40-27l13 9z"/>
<path fill="#2d8bf4" d="M2774 4293v-32l39-27v32zM2774 4261l-14-9l40-26l13 8z"/>
<path fill="#2b92ee" d="M2734 4319l-13-9v-34l13 9zM2734 4319v-34l40-27v35zM2734 4285l-13-9l39-26l14 8z"/>
<path fill="#2b92ee" d="M2694 4345v-33l40-27v34zM2694 4312l-13-9l40-26l13 8z"/>
<path fill="#2799e9" d="M2655 4371v-36l39-26v36zM2655 4335l-13-9l39-26l13 9z"/>
<path fill="#239fe6" d="M2615 4398v-39l40-26v38zM2615 4359l-13-9l40-26l13 9z"/>
<path fill="#239fe6" d="M2576 4386l-14-9l40-26l13 9z"/>
<path fill="#1fa5e2" d="M2536 4450v-41l40-26v41zM2536 4409l-13-9l39-26l14 9z"/>
<path fill="#1babdd" d="M2496 4476v-42l40-26v42zM2496 4434l-13-9l40-26l13 9z"/>
<path fill="#1babdd" d="M2457 4503v-44l39-26v43zM2457 4459l-13-9l39-26l13 9z"/>
<path fill="#11b0d7" d="M2417 4529v-45l40-27v46zM2417 4484l-13-9l40-26l13 8z"/>
<path fill="#11b0d7" d="M2378 4555v-46l39-26v46zM2378 4509l-14-8l40-27l13 9z"/>
<path fill="#08b5cf" d="M2338 4581v-48l40-27v49zM2338 4533l-13-9l39-26l14 8z"/>
<path fill="#01b9c7" d="M2298 4608v-51l40-26v50zM2298 4557l-13-8l40-27l13 9z"/>
<path fill="#01b9c7" d="M2259 4634v-51l39-27v52zM2259 4583l-13-9l39-26l13 8z"/>
<path fill="#0abcbf" d="M2219 4660v-53l40-26v53zM2219 4607l-13-8l40-27l13 9z"/>
<path fill="#17bfb6" d="M2180 4686v-54l39-27v55zM2180 4632l-14-9l40-26l13 8z"/>
<path fill="#26c2ad" d="M2140 4713v-58l40-26v57zM2140 4655l-13-9l39-26l14 9z"/>
<path fill="#26c2ad" d="M2100 4739v-57l40-26v57zM2100 4682l-13-9l40-26l13 9z"/>
<path fill="#26c2ad" d="M2061 4765v-57l39-26v57zM2061 4708l-13-9l39-26l13 9z"/>
<path fill="#38c897" d="M2021 4730l-13-9l40-26l13 9z"/>
<path fill="#52cc7e" d="M1982 4751l-14-9l40-26l13 9z"/>
<path fill="#64cc6f" d="M1942 4774l-13-9l39-26l14 9z"/>
<path fill="#9dc943" d="M1902 4796l-13-9l40-26l13 8z"/>
<path fill="#b0c636" d="M1863 4818l-13-9l39-26l13 8z"/>
<path fill="#d1bf29" d="M1823 4840l-13-8l40-27l13 9z"/>
<path fill="#ecba34" d="M1784 4949v-87l39-26v87zM1784 4862l-14-9l40-26l13 9z"/>
<path fill="#f7bb3a" d="M1744 4886l-13-9l39-26l14 9z"/>
<path fill="#febe3c" d="M1704 4911l-13-9l40-26l13 8z"/>
<path fill="#f9d72d" d="M1665 4929l-13-9l39-26l13 9z"/>
<path fill="#f9fb15" d="M1625 4944l-13-8l40-27l13 9z"/>
<path fill="#f9fb15" d="M1586 5080v-115l39-26v115zM1586 4965l-14-9l40-26l13 9z"/>
<path fill="#f9fb15" d="M1427 5185l-13-9v-217l13 9zM1427 5185v-217l40-27v218zM1427 4968l-13-9l40-26l13 8z"/>
<path fill="#f9fb15" d="M1388 5211l-14-8v-205l14 9zM1388 5007l-14-9l40-26l13 9z"/>
<path fill="#f9fb15" d="M1348 5238l-13-9v-132l13 9zM1348 5238v-132l40-26v131zM1348 5106l-13-9l39-26l14 9z"/>
<path fill="#2d8bf4" d="M2873 4253v-32l39-26v32zM2873 4221l-13-9l39-26l13 9z"/>
<path fill="#2b92ee" d="M2833 4280v-35l40-27v35zM2833 4245l-13-9l40-26l13 8z"/>
<path fill="#2799e9" d="M2794 4306v-37l39-26v37zM2794 4269l-14-9l40-26l13 9z"/>
<path fill="#239fe6" d="M2754 4332v-38l40-27v39zM2754 4294l-13-9l39-26l14 8z"/>
<path fill="#239fe6" d="M2714 4358v-39l40-26v39zM2714 4319l-13-9l40-26l13 9z"/>
<path fill="#1fa5e2" d="M2675 4385v-41l39-26v40zM2675 4344l-13-9l39-26l13 9z"/>
<path fill="#1babdd" d="M2635 4411v-43l40-26v43zM2635 4368l-13-9l40-26l13 9z"/>
<path fill="#11b0d7" d="M2596 4437v-46l39-27v47zM2596 4391l-14-9l40-26l13 8z"/>
<path fill="#11b0d7" d="M2556 4463v-46l40-27v47zM2556 4417l-13-9l39-26l14 8z"/>
<path fill="#01b9c7" d="M2516 4490v-50l40-26v49zM2516 4440l-13-9l40-26l13 9z"/>
<path fill="#01b9c7" d="M2477 4516v-50l39-26v50zM2477 4466l-13-9l39-26l13 9z"/>
<path fill="#01b9c7" d="M2437 4542v-51l40-27v52zM2437 4491l-13-9l40-26l13 8z"/>
<path fill="#17bfb6" d="M2398 4568v-53l39-27v54zM2398 4515l-14-9l40-26l13 8z"/>
<path fill="#17bfb6" d="M2358 4595v-54l40-27v54zM2358 4541l-13-9l39-26l14 8z"/>
<path fill="#26c2ad" d="M2318 4621v-56l40-26v56zM2318 4565l-13-9l40-26l13 9z"/>
<path fill="#26c2ad" d="M2279 4647v-58l39-26v58zM2279 4589l-13-9l39-26l13 9z"/>
<path fill="#2fc5a2" d="M2239 4673v-58l40-27v59zM2239 4615l-13-9l40-26l13 8z"/>
<path fill="#2fc5a2" d="M2200 4700v-61l39-26v60zM2200 4639l-14-9l40-26l13 9z"/>
<path fill="#42ca8b" d="M2160 4726v-65l40-26v65zM2160 4661l-13-8l39-27l14 9z"/>
<path fill="#42ca8b" d="M2120 4752v-65l40-26v65zM2120 4687l-13-8l40-27l13 9z"/>
<path fill="#52cc7e" d="M2081 4778v-65l39-26v65zM2081 4713l-13-9l39-26l13 9z"/>
<path fill="#76cc60" d="M2041 4805v-72l40-26v71zM2041 4733l-13-8l40-27l13 9z"/>
<path fill="#b0c636" d="M2002 4831v-77l39-26v77zM2002 4754l-14-9l40-26l13 9z"/>
<path fill="#c1c32d" d="M1962 4857v-79l40-26v79zM1962 4778l-13-9l39-26l14 9z"/>
<path fill="#e0bc2a" d="M1922 4883v-83l40-26v83zM1922 4800l-13-9l40-26l13 9z"/>
<path fill="#ecba34" d="M1883 4910v-88l39-27v88zM1883 4822l-13-9l39-26l13 8z"/>
<path fill="#fec636" d="M1843 4936v-93l40-26v93zM1843 4843l-13-9l40-26l13 9z"/>
<path fill="#fec636" d="M1804 4962v-95l39-26v95zM1804 4867l-14-8l40-27l13 9z"/>
<path fill="#f9d72d" d="M1764 4988v-99l40-26v99zM1764 4889l-13-8l39-27l14 9z"/>
<path fill="#f6df29" d="M1724 5015v-102l40-26v101zM1724 4913l-13-8l40-27l13 9z"/>
<path fill="#f9fb15" d="M1685 5041v-110l39-27v111zM1685 4931l-13-9l39-26l13 8z"/>
<path fill="#f9fb15" d="M1645 4946l-13-9l40-26l13 8z"/>
<path fill="#f9fb15" d="M1566 5120v-149l40-26v148zM1566 4971l-13-8l39-27l14 9z"/>
<path fill="#f9fb15" d="M1526 5146v-189l40-26v189zM1526 4957l-13-9l40-26l13 9z"/>
<path fill="#f9fb15" d="M1487 5172l-13-9v-200l13 9zM1487 5172v-200l39-26v200zM1487 4972l-13-9l39-26l13 9z"/>
<path fill="#f9fb15" d="M1447 5199v-200l40-26v199zM1447 4999l-13-8l40-27l13 9z"/>
<path fill="#f9fb15" d="M1408 5225v-222l39-26v222zM1408 5003l-14-9l40-26l13 9z"/>
<path fill="#f9fb15" d="M1368 5251l-13-9v-226l13 9zM1368 5251v-226l40-27v227zM1368 5025l-13-9l39-26l14 8z"/>
<path fill="#2f84f9" d="M2903 4273v-30l39-27v31zM2903 4243l-13-9l39-26l13 8z"/>
<path fill="#2d8bf4" d="M2863 4299v-31l40-26v31zM2863 4268l-13-9l40-26l13 9z"/>
<path fill="#2d8bf4" d="M2824 4326v-32l39-26v31zM2824 4294l-14-9l40-26l13 9z"/>
<path fill="#2d8bf4" d="M2784 4352v-33l40-26v33zM2784 4319l-13-9l39-26l14 9z"/>
<path fill="#2b92ee" d="M2744 4378v-35l40-26v35zM2744 4343l-13-9l40-26l13 9z"/>
<path fill="#2799e9" d="M2705 4404v-36l39-26v36zM2705 4368l-13-9l39-26l13 9z"/>
<path fill="#2799e9" d="M2665 4431v-38l40-26v37zM2665 4393l-13-9l40-26l13 9z"/>
<path fill="#1fa5e2" d="M2626 4457v-41l39-26v41zM2626 4416l-14-8l40-27l13 9z"/>
<path fill="#1fa5e2" d="M2586 4483v-41l40-26v41zM2586 4442l-13-9l39-26l14 9z"/>
<path fill="#1babdd" d="M2546 4510v-43l40-26v42zM2546 4467l-13-9l40-26l13 9z"/>
<path fill="#1babdd" d="M2507 4493l-13-9l39-26l13 8z"/>
<path fill="#11b0d7" d="M2467 4517l-13-9l40-26l13 9z"/>
<path fill="#08b5cf" d="M2428 4540l-14-9l40-26l13 8z"/>
<path fill="#08b5cf" d="M2388 4566l-13-9l39-26l14 8z"/>
<path fill="#08b5cf" d="M2348 4592l-13-9l40-26l13 9z"/>
<path fill="#01b9c7" d="M2309 4617l-13-9l39-26l13 9z"/>
<path fill="#17bfb6" d="M2269 4693v-54l40-26v54zM2269 4639l-13-8l40-27l13 9z"/>
<path fill="#17bfb6" d="M2230 4720v-55l39-26v54zM2230 4665l-14-9l40-26l13 9z"/>
<path fill="#17bfb6" d="M2190 4746v-56l40-26v56zM2190 4690l-13-8l39-27l14 9z"/>
<path fill="#26c2ad" d="M2150 4772v-57l40-26v57zM2150 4715l-13-9l40-26l13 9z"/>
<path fill="#2fc5a2" d="M2111 4798v-58l39-27v59zM2111 4740l-13-9l39-26l13 8z"/>
<path fill="#42ca8b" d="M2071 4825v-63l40-27v63zM2071 4762l-13-9l40-26l13 8z"/>
<path fill="#52cc7e" d="M2032 4851v-66l39-26v66zM2032 4785l-14-8l40-27l13 9z"/>
<path fill="#76cc60" d="M1992 4877v-70l40-26v70zM1992 4807l-13-8l39-27l14 9z"/>
<path fill="#8acb51" d="M1952 4903v-74l40-26v74zM1952 4829l-13-9l40-26l13 9z"/>
<path fill="#b0c636" d="M1913 4930v-79l39-26v78zM1913 4851l-13-8l39-27l13 9z"/>
<path fill="#c1c32d" d="M1873 4956v-81l40-27v82zM1873 4875l-13-9l40-26l13 8z"/>
<path fill="#e0bc2a" d="M1834 4982v-85l39-26v85zM1834 4897l-14-8l40-27l13 9z"/>
<path fill="#f7bb3a" d="M1794 5008v-88l40-26v88zM1794 4920l-13-9l39-26l14 9z"/>
<path fill="#f7bb3a" d="M1754 5035v-90l40-26v89zM1754 4945l-13-9l40-26l13 9z"/>
<path fill="#f9d72d" d="M1715 5061v-98l39-27v99zM1715 4963l-13-9l39-26l13 8z"/>
<path fill="#f6f21e" d="M1675 5087v-106l40-26v106zM1675 4981l-13-9l40-26l13 9z"/>
<path fill="#f9fb15" d="M1636 5113l-14-8v-179l14 9zM1636 5113v-178l39-26v178zM1636 4935l-14-9l40-26l13 9z"/>
<path fill="#f9fb15" d="M1596 5140l-13-9v-139l13 9zM1596 5140v-139l40-26v138zM1596 5001l-13-9l39-26l14 9z"/>
<path fill="#f9fb15" d="M1556 5166v-130l40-26v130zM1556 5036l-13-8l40-27l13 9z"/>
<path fill="#f9fb15" d="M1517 5192v-188l39-26v188zM1517 5004l-13-9l39-26l13 9z"/>
<path fill="#f9fb15" d="M1477 5218l-13-8v-201l13 9zM1477 5218v-200l40-27v201zM1477 5018l-13-9l40-26l13 8z"/>
<path fill="#f9fb15" d="M1438 5245v-196l39-26v195zM1438 5049l-14-9l40-26l13 9z"/>
<path fill="#f9fb15" d="M1398 5271l-13-9v-213l13 8zM1398 5271v-214l40-26v214zM1398 5057l-13-8l39-27l14 9z"/>
<path fill="#1fa5e2" d="M2930 4292v-41l40-26v40zM2930 4251l-13-9l40-26l13 9z"/>
<path fill="#1fa5e2" d="M2891 4318v-42l39-26v42zM2891 4276l-13-9l39-26l13 9z"/>
<path fill="#1babdd" d="M2851 4344v-42l40-27v43zM2851 4302l-13-9l40-26l13 8z"/>
<path fill="#11b0d7" d="M2812 4370v-46l39-26v46zM2812 4324l-14-8l40-27l13 9z"/>
<path fill="#11b0d7" d="M2772 4397v-47l40-26v46zM2772 4350l-13-9l39-26l14 9z"/>
<path fill="#01b9c7" d="M2732 4423v-50l40-26v50zM2732 4373l-13-9l40-26l13 9z"/>
<path fill="#01b9c7" d="M2693 4449v-51l39-26v51zM2693 4398l-13-9l39-26l13 9z"/>
<path fill="#17bfb6" d="M2653 4475v-54l40-26v54zM2653 4421l-13-8l40-27l13 9z"/>
<path fill="#17bfb6" d="M2614 4502v-54l39-27v54zM2614 4448l-14-9l40-26l13 8z"/>
<path fill="#2fc5a2" d="M2574 4528v-59l40-26v59zM2574 4469l-13-9l39-26l14 9z"/>
<path fill="#38c897" d="M2534 4554v-62l40-26v62zM2534 4492l-13-9l40-26l13 9z"/>
<path fill="#52cc7e" d="M2495 4580v-67l39-26v67zM2495 4513l-13-9l39-26l13 9z"/>
<path fill="#76cc60" d="M2455 4607v-71l40-26v70zM2455 4536l-13-9l40-26l13 9z"/>
<path fill="#9dc943" d="M2416 4633v-75l39-26v75zM2416 4558l-14-9l40-26l13 9z"/>
<path fill="#b0c636" d="M2376 4659l-13-9v-77l13 9zM2376 4659v-77l40-27v78zM2376 4582l-13-9l39-26l14 8z"/>
<path fill="#8acb51" d="M2336 4685l-13-8v-74l13 8zM2336 4685v-74l40-26v74zM2336 4611l-13-8l40-27l13 9z"/>
<path fill="#8acb51" d="M2297 4712l-13-9v-73l13 9zM2297 4712v-73l39-26v72zM2297 4639l-13-9l39-26l13 9z"/>
<path fill="#76cc60" d="M2257 4738l-13-9v-71l13 9zM2257 4738v-71l40-27v72zM2257 4667l-13-9l40-26l13 8z"/>
<path fill="#64cc6f" d="M2218 4764l-14-9v-67l14 8zM2218 4764v-68l39-26v68zM2218 4696l-14-8l40-27l13 9z"/>
<path fill="#52cc7e" d="M2178 4790l-13-8v-67l13 9zM2178 4790v-66l40-26v66zM2178 4724l-13-9l39-26l14 9z"/>
<path fill="#52cc7e" d="M2138 4817v-66l40-26v65zM2138 4751l-13-9l40-26l13 9z"/>
<path fill="#52cc7e" d="M2099 4843v-67l39-26v67zM2099 4776l-13-9l39-26l13 9z"/>
<path fill="#64cc6f" d="M2059 4869v-68l40-27v69zM2059 4801l-13-9l40-26l13 8z"/>
<path fill="#76cc60" d="M2020 4895v-71l39-26v71zM2020 4824l-14-9l40-26l13 9z"/>
<path fill="#9dc943" d="M1980 4922v-77l40-26v76zM1980 4845l-13-8l39-27l14 9z"/>
<path fill="#d1bf29" d="M1940 4948v-83l40-26v83zM1940 4865l-13-8l40-27l13 9z"/>
<path fill="#febe3c" d="M1901 4974v-91l39-27v92zM1901 4883l-13-9l39-26l13 8z"/>
<path fill="#f9d72d" d="M1861 5000v-99l40-26v99zM1861 4901l-13-9l40-26l13 9z"/>
<path fill="#f9fb15" d="M1822 5027l-14-9v-109l14 8zM1822 5027v-110l39-26v109zM1822 4917l-14-8l40-27l13 9z"/>
<path fill="#f6df29" d="M1782 5053l-13-9v-101l13 9zM1782 5053v-101l40-27v102zM1782 4952l-13-9l39-26l14 8z"/>
<path fill="#fcce31" d="M1742 5079v-95l40-26v95zM1742 4984l-13-9l40-26l13 9z"/>
<path fill="#f9fb15" d="M1703 5105v-120l39-27v121zM1703 4985l-13-9l39-26l13 8z"/>
<path fill="#f9fb15" d="M1663 5132l-13-9v-180l13 9zM1663 5132v-180l40-26v179zM1663 4952l-13-9l40-26l13 9z"/>
<path fill="#f9fb15" d="M1624 5158l-14-9v-132l14 9zM1624 5158v-132l39-27v133zM1624 5026l-14-9l40-26l13 8z"/>
<path fill="#f9fb15" d="M1544 5210l-13-8v-202l13 8zM1544 5210v-202l40-26v202zM1544 5008l-13-8l40-27l13 9z"/>
<path fill="#f9fb15" d="M1505 5237l-13-9v-158l13 8zM1505 5237v-159l39-26v158zM1505 5078l-13-8l39-27l13 9z"/>
<path fill="#f9fb15" d="M1426 5289l-14-9v-177l14 8zM1426 5289v-178l39-26v178zM1426 5111l-14-8l40-27l13 9z"/>
<path fill="#406cfe" d="M2981 4325v-22l39-26v22zM2981 4303l-13-9l39-26l13 9z"/>
<path fill="#406cfe" d="M2941 4351v-22l40-27v23zM2941 4329l-13-9l40-26l13 8z"/>
<path fill="#3a74fe" d="M2902 4377l-14-8v-26l14 8zM2902 4377v-26l39-26v26zM2902 4351l-14-8l40-27l13 9z"/>
<path fill="#3a74fe" d="M2862 4404v-25l40-26v24zM2862 4379l-13-9l39-26l14 9z"/>
<path fill="#3a74fe" d="M2822 4430v-25l40-26v25zM2822 4405l-13-9l40-26l13 9z"/>
<path fill="#3a74fe" d="M2783 4456v-24l39-26v24zM2783 4432l-13-9l39-26l13 9z"/>
<path fill="#327cfc" d="M2743 4482v-26l40-27v27zM2743 4456l-13-9l40-26l13 8z"/>
<path fill="#2f84f9" d="M2704 4509v-30l39-26v29zM2704 4479l-14-8l40-27l13 9z"/>
<path fill="#2f84f9" d="M2664 4535v-29l40-27v30zM2664 4506l-13-9l39-26l14 8z"/>
<path fill="#2f84f9" d="M2624 4561v-30l40-26v30zM2624 4531l-13-8l40-27l13 9z"/>
<path fill="#2d8bf4" d="M2585 4587v-30l39-27v31zM2585 4557l-13-9l39-26l13 8z"/>
<path fill="#2d8bf4" d="M2545 4614v-33l40-26v32zM2545 4581l-13-9l40-26l13 9z"/>
<path fill="#2b92ee" d="M2506 4640v-34l39-27v35zM2506 4606l-14-9l40-26l13 8z"/>
<path fill="#2b92ee" d="M2466 4666v-35l40-26v35zM2466 4631l-13-9l39-26l14 9z"/>
<path fill="#2799e9" d="M2426 4693v-37l40-26v36zM2426 4656l-13-9l40-26l13 9z"/>
<path fill="#2799e9" d="M2387 4719v-37l39-26v37zM2387 4682l-13-9l39-26l13 9z"/>
<path fill="#1fa5e2" d="M2347 4745l-13-9v-40l13 8zM2347 4745v-41l40-26v41zM2347 4704l-13-8l40-27l13 9z"/>
<path fill="#239fe6" d="M2308 4771v-39l39-27v40zM2308 4732l-14-9l40-26l13 8z"/>
<path fill="#1babdd" d="M2268 4798v-44l40-26v43zM2268 4754l-13-8l39-27l14 9z"/>
<path fill="#1babdd" d="M2228 4824v-44l40-27v45zM2228 4780l-13-9l40-26l13 8z"/>
<path fill="#11b0d7" d="M2189 4850v-46l39-26v46zM2189 4804l-13-9l39-26l13 9z"/>
<path fill="#08b5cf" d="M2149 4876v-48l40-26v48zM2149 4828l-13-9l40-26l13 9z"/>
<path fill="#01b9c7" d="M2110 4903v-51l39-26v50zM2110 4852l-14-9l40-26l13 9z"/>
<path fill="#26c2ad" d="M2070 4929v-56l40-27v57zM2070 4873l-13-9l39-26l14 8z"/>
<path fill="#38c897" d="M2030 4955v-62l40-26v62zM2030 4893l-13-8l40-27l13 9z"/>
<path fill="#64cc6f" d="M1991 4981v-68l39-26v68zM1991 4913l-13-9l39-26l13 9z"/>
<path fill="#8acb51" d="M1951 5008v-74l40-26v73zM1951 4934l-13-8l40-27l13 9z"/>
<path fill="#c1c32d" d="M1912 5034v-79l39-26v79zM1912 4955l-14-9l40-26l13 9z"/>
<path fill="#d1bf29" d="M1872 5060v-83l40-26v83zM1872 4977l-13-9l39-26l14 9z"/>
<path fill="#ecba34" d="M1832 5086v-87l40-26v87zM1832 4999l-13-9l40-26l13 9z"/>
<path fill="#febe3c" d="M1793 5113v-92l39-27v92zM1793 5021l-13-9l39-26l13 8z"/>
<path fill="#f5e924" d="M1753 5139v-104l40-26v104zM1753 5035l-13-9l40-26l13 9z"/>
<path fill="#f6f21e" d="M1714 5059l-14-8l40-27l13 9z"/>
<path fill="#f9fb15" d="M1674 5053l-13-9l39-26l14 9z"/>
<path fill="#f9fb15" d="M1555 5068l-13-8l40-27l13 9z"/>
<path fill="#f9fb15" d="M1476 5323l-13-9v-217l13 9zM1476 5323v-217l40-26v216zM1476 5106l-13-9l39-26l14 9z"/>
<path fill="#3a74fe" d="M3006 4342v-26l40-27v26zM3006 4316l-13-9l39-26l14 8z"/>
<path fill="#327cfc" d="M2966 4368v-27l40-26v27zM2966 4341l-13-9l40-26l13 9z"/>
<path fill="#327cfc" d="M2927 4394v-26l39-27v27zM2927 4368l-13-9l39-26l13 8z"/>
<path fill="#327cfc" d="M2887 4420v-28l40-26v28zM2887 4392l-13-9l40-26l13 9z"/>
<path fill="#327cfc" d="M2848 4447v-28l39-26v27zM2848 4419l-14-9l40-26l13 9z"/>
<path fill="#327cfc" d="M2808 4473v-28l40-27v29zM2808 4445l-13-9l39-26l14 8z"/>
<path fill="#2f84f9" d="M2768 4499v-30l40-26v30zM2768 4469l-13-9l40-26l13 9z"/>
<path fill="#2f84f9" d="M2729 4525v-30l39-27v31zM2729 4495l-13-9l39-26l13 8z"/>
<path fill="#2d8bf4" d="M2689 4552v-33l40-26v32zM2689 4519l-13-9l40-26l13 9z"/>
<path fill="#2b92ee" d="M2650 4578v-34l39-26v34zM2650 4544l-14-9l40-26l13 9z"/>
<path fill="#2b92ee" d="M2610 4604v-34l40-26v34zM2610 4570l-13-9l39-26l14 9z"/>
<path fill="#2799e9" d="M2570 4630v-37l40-26v37zM2570 4593l-13-9l40-26l13 9z"/>
<path fill="#2799e9" d="M2531 4657v-38l39-26v37zM2531 4619l-13-8l39-27l13 9z"/>
<path fill="#239fe6" d="M2491 4683v-39l40-26v39zM2491 4644l-13-9l40-26l13 9z"/>
<path fill="#1babdd" d="M2452 4709v-42l39-26v42zM2452 4667l-14-9l40-26l13 9z"/>
<path fill="#1babdd" d="M2412 4735v-43l40-26v43zM2412 4692l-13-9l39-26l14 9z"/>
<path fill="#11b0d7" d="M2372 4762v-47l40-26v46zM2372 4715l-13-8l40-27l13 9z"/>
<path fill="#11b0d7" d="M2333 4788v-46l39-27v47zM2333 4742l-13-9l39-27l13 9z"/>
<path fill="#01b9c7" d="M2293 4814v-50l40-26v50zM2293 4764l-13-8l40-27l13 9z"/>
<path fill="#01b9c7" d="M2254 4840v-50l39-26v50zM2254 4790l-14-9l40-26l13 9z"/>
<path fill="#0abcbf" d="M2214 4867v-53l40-27v53zM2214 4814l-13-9l39-26l14 8z"/>
<path fill="#17bfb6" d="M2174 4893v-55l40-26v55zM2174 4838l-13-8l40-27l13 9z"/>
<path fill="#26c2ad" d="M2135 4919v-57l39-26v57zM2135 4862l-13-9l39-26l13 9z"/>
<path fill="#38c897" d="M2095 4946v-63l40-26v62zM2095 4883l-13-9l40-26l13 9z"/>
<path fill="#76cc60" d="M2056 4972v-71l39-26v71zM2056 4901l-14-9l40-26l13 9z"/>
<path fill="#9dc943" d="M2016 4998v-76l40-27v77zM2016 4922l-13-9l39-26l14 8z"/>
<path fill="#e0bc2a" d="M1976 5024v-84l40-26v84zM1976 4940l-13-9l40-26l13 9z"/>
<path fill="#ecba34" d="M1937 5051v-88l39-26v87zM1937 4963l-13-8l39-27l13 9z"/>
<path fill="#fec636" d="M1897 5077v-94l40-26v94zM1897 4983l-13-8l40-27l13 9z"/>
<path fill="#f9d72d" d="M1858 5103v-99l39-27v100zM1858 5004l-14-9l40-26l13 8z"/>
<path fill="#f6f21e" d="M1818 5129v-106l40-26v106zM1818 5023l-13-9l39-26l14 9z"/>
<path fill="#f9fb15" d="M1778 5156v-118l40-26v117zM1778 5038l-13-8l40-27l13 9z"/>
<path fill="#f9fb15" d="M1739 5182l-13-9v-148l13 9zM1739 5182v-148l39-26v148zM1739 5034l-13-9l39-26l13 9z"/>
<path fill="#f9fb15" d="M1699 5208v-122l40-27v123zM1699 5086l-13-9l40-26l13 8z"/>
<path fill="#f9fb15" d="M1660 5234v-184l39-27v185zM1660 5050l-14-9l40-26l13 8z"/>
<path fill="#f9fb15" d="M1620 5261v-192l40-27v192zM1620 5069l-13-9l39-26l14 8z"/>
<path fill="#f9fb15" d="M1580 5287v-230l40-26v230zM1580 5057l-13-8l40-27l13 9z"/>
<path fill="#f9fb15" d="M1541 5313l-13-9v-236l13 8zM1541 5313v-237l39-26v237zM1541 5076l-13-8l39-27l13 9z"/>
<path fill="#f9fb15" d="M1501 5339l-13-8v-198l13 9zM1501 5339v-197l40-27v198zM1501 5142l-13-9l40-26l13 8z"/>
<path fill="#406cfe" d="M3046 4368v-23l39-26v23zM3046 4345l-14-8l40-27l13 9z"/>
<path fill="#3a74fe" d="M3006 4394v-25l40-26v25zM3006 4369l-13-8l39-27l14 9z"/>
<path fill="#3a74fe" d="M2966 4420v-24l40-27v25zM2966 4396l-13-9l40-26l13 8z"/>
<path fill="#3a74fe" d="M2927 4447v-26l39-26v25zM2927 4421l-13-9l39-26l13 9z"/>
<path fill="#327cfc" d="M2887 4473v-27l40-26v27zM2887 4446l-13-8l40-27l13 9z"/>
<path fill="#3a74fe" d="M2848 4499v-26l39-26v26zM2848 4473l-14-9l40-26l13 9z"/>
<path fill="#327cfc" d="M2808 4525v-27l40-27v28zM2808 4498l-13-9l39-26l14 8z"/>
<path fill="#2f84f9" d="M2768 4552v-29l40-26v28zM2768 4523l-13-9l40-26l13 9z"/>
<path fill="#2f84f9" d="M2729 4578v-29l39-26v29zM2729 4549l-13-9l39-26l13 9z"/>
<path fill="#2f84f9" d="M2689 4604v-29l40-27v30zM2689 4575l-13-9l40-26l13 8z"/>
<path fill="#2d8bf4" d="M2650 4630v-31l39-27v32zM2650 4599l-14-9l40-26l13 8z"/>
<path fill="#2b92ee" d="M2610 4657v-34l40-26v33zM2610 4623l-13-9l39-26l14 9z"/>
<path fill="#2b92ee" d="M2570 4683v-34l40-27v35zM2570 4649l-13-9l40-26l13 8z"/>
<path fill="#2799e9" d="M2531 4709v-36l39-27v37zM2531 4673l-13-9l39-26l13 8z"/>
<path fill="#239fe6" d="M2491 4735v-38l40-26v38zM2491 4697l-13-9l40-26l13 9z"/>
<path fill="#1fa5e2" d="M2452 4762v-41l39-26v40zM2452 4721l-14-9l40-26l13 9z"/>
<path fill="#1babdd" d="M2412 4788v-42l40-27v43zM2412 4746l-13-9l39-26l14 8z"/>
<path fill="#1babdd" d="M2372 4814v-43l40-27v44zM2372 4771l-13-9l40-26l13 8z"/>
<path fill="#11b0d7" d="M2333 4840v-45l39-26v45zM2333 4795l-13-9l39-26l13 9z"/>
<path fill="#08b5cf" d="M2293 4867v-48l40-26v47zM2293 4819l-13-9l40-26l13 9z"/>
<path fill="#01b9c7" d="M2254 4893v-49l39-27v50zM2254 4844l-14-9l40-26l13 8z"/>
<path fill="#01b9c7" d="M2214 4919v-51l40-26v51zM2214 4868l-13-9l39-26l14 9z"/>
<path fill="#17bfb6" d="M2174 4946v-55l40-27v55zM2174 4891l-13-9l40-26l13 8z"/>
<path fill="#26c2ad" d="M2135 4972v-57l39-26v57zM2135 4915l-13-9l39-26l13 9z"/>
<path fill="#42ca8b" d="M2095 4998v-64l40-26v64zM2095 4934l-13-9l40-26l13 9z"/>
<path fill="#76cc60" d="M2056 5024v-71l39-26v71zM2056 4953l-14-8l40-27l13 9z"/>
<path fill="#b0c636" d="M2016 5051v-79l40-26v78zM2016 4972l-13-9l39-26l14 9z"/>
<path fill="#e0bc2a" d="M1976 5077v-86l40-26v86zM1976 4991l-13-8l40-27l13 9z"/>
<path fill="#febe3c" d="M1937 5103v-93l39-26v93zM1937 5010l-13-8l39-27l13 9z"/>
<path fill="#fcce31" d="M1897 5129v-96l40-26v96zM1897 5033l-13-9l40-26l13 9z"/>
<path fill="#f5e924" d="M1858 5156v-102l39-27v102zM1858 5054l-14-9l40-26l13 8z"/>
<path fill="#f9fb15" d="M1818 5068l-13-9l39-26l14 8z"/>
<path fill="#f9fb15" d="M1778 5098l-13-9l40-26l13 8z"/>
<path fill="#f9fb15" d="M1660 5287l-14-9v-212l14 9zM1660 5287v-212l39-26v212zM1660 5075l-14-9l40-26l13 9z"/>
<path fill="#f9fb15" d="M1541 5366l-13-9v-130l13 9zM1541 5366v-130l39-27v130zM1541 5236l-13-9l39-26l13 8z"/>
<path fill="#3a74fe" d="M3066 4381v-24l40-27v25zM3066 4357l-13-9l39-26l14 8z"/>
<path fill="#3a74fe" d="M3026 4408v-26l40-26v25zM3026 4382l-13-9l40-26l13 9z"/>
<path fill="#3a74fe" d="M2987 4434v-26l39-26v26zM2987 4408l-13-9l39-26l13 9z"/>
<path fill="#327cfc" d="M2947 4460v-28l40-26v28zM2947 4432l-13-8l40-27l13 9z"/>
<path fill="#327cfc" d="M2908 4486v-27l39-26v27zM2908 4459l-14-9l40-26l13 9z"/>
<path fill="#327cfc" d="M2868 4513v-28l40-26v27zM2868 4485l-13-8l39-27l14 9z"/>
<path fill="#2f84f9" d="M2828 4539v-30l40-26v30zM2828 4509l-13-9l40-26l13 9z"/>
<path fill="#2f84f9" d="M2789 4565v-31l39-26v31zM2789 4534l-13-8l39-27l13 9z"/>
<path fill="#2f84f9" d="M2749 4591v-30l40-26v30zM2749 4561l-13-9l40-26l13 9z"/>
<path fill="#2d8bf4" d="M2710 4618v-32l39-27v32zM2710 4586l-14-9l40-26l13 8z"/>
<path fill="#2799e9" d="M2670 4644v-36l40-26v36zM2670 4608l-13-9l39-26l14 9z"/>
<path fill="#2799e9" d="M2630 4670v-36l40-27v37zM2630 4634l-13-9l40-26l13 8z"/>
<path fill="#2799e9" d="M2591 4696v-37l39-26v37zM2591 4659l-13-9l39-26l13 9z"/>
<path fill="#239fe6" d="M2551 4723v-39l40-27v39zM2551 4684l-13-9l40-26l13 8z"/>
<path fill="#1fa5e2" d="M2512 4749v-41l39-26v41zM2512 4708l-14-9l40-26l13 9z"/>
<path fill="#11b0d7" d="M2472 4775v-45l40-26v45zM2472 4730l-13-8l39-27l14 9z"/>
<path fill="#11b0d7" d="M2432 4801v-45l40-26v45zM2432 4756l-13-9l40-26l13 9z"/>
<path fill="#08b5cf" d="M2393 4828v-47l39-26v46zM2393 4781l-13-9l39-26l13 9z"/>
<path fill="#08b5cf" d="M2353 4854v-49l40-26v49zM2353 4805l-13-9l40-26l13 9z"/>
<path fill="#0abcbf" d="M2314 4880v-53l39-26v53zM2314 4827l-14-8l40-27l13 9z"/>
<path fill="#0abcbf" d="M2274 4907v-54l40-26v53zM2274 4853l-13-8l39-27l14 9z"/>
<path fill="#17bfb6" d="M2234 4933v-56l40-26v56zM2234 4877l-13-8l40-27l13 9z"/>
<path fill="#26c2ad" d="M2195 4959v-58l39-26v58zM2195 4901l-13-8l39-27l13 9z"/>
<path fill="#38c897" d="M2155 4985v-62l40-26v62zM2155 4923l-13-8l40-27l13 9z"/>
<path fill="#64cc6f" d="M2116 5012v-70l39-26v69zM2116 4942l-14-9l40-26l13 9z"/>
<path fill="#9dc943" d="M2076 5038v-77l40-26v77zM2076 4961l-13-9l39-26l14 9z"/>
<path fill="#e0bc2a" d="M2036 5064v-85l40-26v85zM2036 4979l-13-9l40-26l13 9z"/>
<path fill="#febe3c" d="M1997 5090v-91l39-26v91zM1997 4999l-13-8l39-27l13 9z"/>
<path fill="#f9d72d" d="M1957 5117v-98l40-26v97zM1957 5019l-13-9l40-26l13 9z"/>
<path fill="#f5e924" d="M1918 5143v-104l39-26v104zM1918 5039l-14-9l40-26l13 9z"/>
<path fill="#f9fb15" d="M1878 5169v-108l40-26v108zM1878 5061l-13-8l39-27l14 9z"/>
<path fill="#f9fb15" d="M1838 5195v-125l40-26v125zM1838 5070l-13-9l40-26l13 9z"/>
<path fill="#f9fb15" d="M1799 5222l-13-9v-149l13 9zM1799 5222v-149l39-26v148zM1799 5073l-13-9l39-26l13 9z"/>
<path fill="#f9fb15" d="M1720 5274v-167l39-27v168zM1720 5107l-14-9l40-26l13 8z"/>
<path fill="#f9fb15" d="M1680 5300l-13-8v-247l13 9zM1680 5300v-246l40-26v246zM1680 5054l-13-9l39-26l14 9z"/>
<path fill="#f9fb15" d="M1601 5353l-13-9v-306l13 8zM1601 5353v-307l39-26v307zM1601 5046l-13-8l39-27l13 9z"/>
<path fill="#f9fb15" d="M1561 5379l-13-9v-217l13 8zM1561 5379v-218l40-26v218zM1561 5161l-13-8l40-27l13 9z"/>
<path fill="#3a74fe" d="M3086 4395v-25l40-26v25zM3086 4370l-13-9l40-26l13 9z"/>
<path fill="#3a74fe" d="M3047 4421v-24l39-26v24zM3047 4397l-13-9l39-26l13 9z"/>
<path fill="#3a74fe" d="M3007 4447v-24l40-26v24zM3007 4423l-13-9l40-26l13 9z"/>
<path fill="#3a74fe" d="M2968 4474v-26l39-26v25zM2968 4448l-14-9l40-26l13 9z"/>
<path fill="#327cfc" d="M2928 4500v-27l40-26v27zM2928 4473l-13-8l39-27l14 9z"/>
<path fill="#327cfc" d="M2888 4526v-28l40-26v28zM2888 4498l-13-9l40-26l13 9z"/>
<path fill="#2f84f9" d="M2849 4552v-28l39-26v28zM2849 4524l-13-9l39-26l13 9z"/>
<path fill="#2f84f9" d="M2809 4579v-30l40-26v29zM2809 4549l-13-8l40-27l13 9z"/>
<path fill="#2f84f9" d="M2770 4605v-30l39-26v30zM2770 4575l-14-9l40-26l13 9z"/>
<path fill="#2d8bf4" d="M2730 4631v-32l40-26v32zM2730 4599l-13-9l39-26l14 9z"/>
<path fill="#2b92ee" d="M2690 4657v-33l40-26v33zM2690 4624l-13-9l40-26l13 9z"/>
<path fill="#2b92ee" d="M2651 4684v-35l39-26v34zM2651 4649l-13-8l39-27l13 9z"/>
<path fill="#2b92ee" d="M2611 4710v-35l40-26v35zM2611 4675l-13-8l40-27l13 9z"/>
<path fill="#239fe6" d="M2572 4736v-39l39-26v39zM2572 4697l-14-9l40-26l13 9z"/>
<path fill="#1fa5e2" d="M2532 4763v-41l40-26v40zM2532 4722l-13-8l39-27l14 9z"/>
<path fill="#1fa5e2" d="M2492 4789v-42l40-27v43zM2492 4747l-13-9l40-26l13 8z"/>
<path fill="#1babdd" d="M2453 4815v-43l39-27v44zM2453 4772l-13-9l39-26l13 8z"/>
<path fill="#11b0d7" d="M2413 4841v-46l40-26v46zM2413 4795l-13-8l40-27l13 9z"/>
<path fill="#08b5cf" d="M2374 4868v-48l39-26v47zM2374 4820l-14-8l40-27l13 9z"/>
<path fill="#08b5cf" d="M2334 4894v-49l40-26v49zM2334 4845l-13-9l39-26l14 9z"/>
<path fill="#01b9c7" d="M2294 4920v-50l40-27v51zM2294 4870l-13-9l40-26l13 8z"/>
<path fill="#0abcbf" d="M2255 4946v-53l39-27v54zM2255 4893l-13-9l39-26l13 8z"/>
<path fill="#26c2ad" d="M2215 4973v-58l40-26v57zM2215 4915l-13-8l40-27l13 9z"/>
<path fill="#2fc5a2" d="M2176 4999v-59l39-27v60zM2176 4940l-14-9l40-26l13 8z"/>
<path fill="#52cc7e" d="M2136 5025v-67l40-26v67zM2136 4958l-13-9l39-26l14 9z"/>
<path fill="#8acb51" d="M2096 5051v-72l40-26v72zM2096 4979l-13-9l40-26l13 9z"/>
<path fill="#d1bf29" d="M2057 5078v-83l39-26v82zM2057 4995l-13-8l39-27l13 9z"/>
<path fill="#ecba34" d="M2017 5104v-87l40-27v88zM2017 5017l-13-9l40-26l13 8z"/>
<path fill="#fec636" d="M1978 5130v-95l39-26v95zM1978 5035l-14-9l40-26l13 9z"/>
<path fill="#f6df29" d="M1938 5156v-100l40-26v100zM1938 5056l-13-8l39-27l14 9z"/>
<path fill="#f6f21e" d="M1898 5183v-105l40-26v104zM1898 5078l-13-9l40-26l13 9z"/>
<path fill="#f9fb15" d="M1859 5209v-118l39-27v119zM1859 5091l-13-9l39-26l13 8z"/>
<path fill="#f9fb15" d="M1819 5235l-13-9v-164l13 9zM1819 5235v-164l40-27v165zM1819 5071l-13-9l40-26l13 8z"/>
<path fill="#f9fb15" d="M1780 5261v-140l39-26v140zM1780 5121l-14-9l40-26l13 9z"/>
<path fill="#f9fb15" d="M1740 5288l-13-9v-198l13 9zM1740 5288v-198l40-26v197zM1740 5090l-13-9l39-26l14 9z"/>
<path fill="#f9fb15" d="M1700 5139l-13-9l40-26l13 9z"/>
<path fill="#f9fb15" d="M1621 5366l-13-8v-243l13 9zM1621 5366v-242l40-27v243zM1621 5124l-13-9l40-26l13 8z"/>
<path fill="#f9fb15" d="M1582 5393l-14-9v-217l14 9zM1582 5393v-217l39-27v217zM1582 5176l-14-9l40-26l13 8z"/>
<path fill="#406cfe" d="M3107 4409v-23l40-26v22zM3107 4386l-13-9l40-26l13 9z"/>
<path fill="#3a74fe" d="M3068 4435v-25l39-26v25zM3068 4410l-14-9l40-26l13 9z"/>
<path fill="#3a74fe" d="M3028 4461v-25l40-27v26zM3028 4436l-13-9l39-26l14 8z"/>
<path fill="#3a74fe" d="M2988 4488v-27l40-26v26zM2988 4461l-13-8l40-27l13 9z"/>
<path fill="#327cfc" d="M2949 4514v-27l39-27v28zM2949 4487l-13-9l39-26l13 8z"/>
<path fill="#327cfc" d="M2909 4540v-29l40-26v29zM2909 4511l-13-8l40-27l13 9z"/>
<path fill="#2f84f9" d="M2870 4566v-28l39-27v29zM2870 4538l-14-9l40-26l13 8z"/>
<path fill="#2f84f9" d="M2830 4593v-30l40-26v29zM2830 4563l-13-9l39-26l14 9z"/>
<path fill="#2f84f9" d="M2790 4619v-30l40-26v30zM2790 4589l-13-9l40-26l13 9z"/>
<path fill="#2d8bf4" d="M2751 4645v-31l39-27v32zM2751 4614l-13-9l39-26l13 8z"/>
<path fill="#2b92ee" d="M2711 4671v-34l40-26v34zM2711 4637l-13-8l40-27l13 9z"/>
<path fill="#2b92ee" d="M2672 4698v-35l39-26v34zM2672 4663l-14-9l40-26l13 9z"/>
<path fill="#2799e9" d="M2632 4724v-37l40-26v37zM2632 4687l-13-8l39-27l14 9z"/>
<path fill="#2799e9" d="M2592 4750v-38l40-26v38zM2592 4712l-13-8l40-27l13 9z"/>
<path fill="#239fe6" d="M2553 4776v-39l39-26v39zM2553 4737l-13-9l39-26l13 9z"/>
<path fill="#1fa5e2" d="M2513 4803v-43l40-26v42zM2513 4760l-13-8l40-27l13 9z"/>
<path fill="#1babdd" d="M2474 4829v-43l39-26v43zM2474 4786l-14-9l40-26l13 9z"/>
<path fill="#11b0d7" d="M2434 4855v-45l40-26v45zM2434 4810l-13-9l39-26l14 9z"/>
<path fill="#08b5cf" d="M2394 4881v-47l40-26v47zM2394 4834l-13-9l40-26l13 9z"/>
<path fill="#08b5cf" d="M2355 4908v-48l39-27v48zM2355 4860l-13-9l39-26l13 8z"/>
<path fill="#01b9c7" d="M2315 4934v-51l40-26v51zM2315 4883l-13-9l40-26l13 9z"/>
<path fill="#0abcbf" d="M2276 4960v-53l39-27v54zM2276 4907l-14-9l40-27l13 9z"/>
<path fill="#26c2ad" d="M2236 4986v-57l40-26v57zM2236 4929l-13-8l39-27l14 9z"/>
<path fill="#26c2ad" d="M2196 5013v-58l40-27v58zM2196 4955l-13-9l40-26l13 8z"/>
<path fill="#42ca8b" d="M2157 5039v-65l39-26v65zM2157 4974l-13-9l39-26l13 9z"/>
<path fill="#8acb51" d="M2117 5065v-73l40-26v73zM2117 4992l-13-9l40-26l13 9z"/>
<path fill="#d1bf29" d="M2078 5091v-81l39-26v81zM2078 5010l-14-9l40-26l13 9z"/>
<path fill="#ecba34" d="M2038 5118v-88l40-27v88zM2038 5030l-13-9l39-26l14 8z"/>
<path fill="#fec636" d="M1998 5144v-94l40-27v95zM1998 5050l-13-9l40-26l13 8z"/>
<path fill="#f9d72d" d="M1959 5170v-99l39-26v99zM1959 5071l-13-9l39-26l13 9z"/>
<path fill="#f6f21e" d="M1919 5196v-105l40-26v105zM1919 5091l-13-9l40-26l13 9z"/>
<path fill="#f9fb15" d="M1880 5223v-119l39-26v118zM1880 5104l-14-8l40-27l13 9z"/>
<path fill="#f9fb15" d="M1761 5301v-178l39-26v178zM1761 5123l-13-9l39-26l13 9z"/>
<path fill="#f9fb15" d="M1721 5328v-187l40-26v186zM1721 5141l-13-9l40-26l13 9z"/>
<path fill="#f9fb15" d="M1642 5380l-13-9v-184l13 9zM1642 5380v-184l40-26v184zM1642 5196l-13-9l39-26l14 9z"/>
<path fill="#f9fb15" d="M1602 5406l-13-8v-133l13 9zM1602 5406v-132l40-26v132zM1602 5274l-13-9l40-26l13 9z"/>
<path fill="#406cfe" d="M3128 4422l-14-8v-23l14 8zM3128 4422v-23l39-26v23zM3128 4399l-14-8l40-27l13 9z"/>
<path fill="#4464fd" d="M3088 4449v-22l40-26v21zM3088 4427l-13-9l39-26l14 9z"/>
<path fill="#3a74fe" d="M3048 4475v-24l40-27v25zM3048 4451l-13-9l40-26l13 8z"/>
<path fill="#3a74fe" d="M3009 4501v-24l39-27v25zM3009 4477l-13-9l39-26l13 8z"/>
<path fill="#3a74fe" d="M2969 4527v-26l40-26v26zM2969 4501l-13-9l40-26l13 9z"/>
<path fill="#3a74fe" d="M2930 4554v-27l39-26v26zM2930 4527l-14-9l40-26l13 9z"/>
<path fill="#327cfc" d="M2890 4580v-27l40-27v28zM2890 4553l-13-9l39-26l14 8z"/>
<path fill="#327cfc" d="M2850 4606v-28l40-26v28zM2850 4578l-13-9l40-26l13 9z"/>
<path fill="#327cfc" d="M2811 4632v-28l39-26v28zM2811 4604l-13-9l39-26l13 9z"/>
<path fill="#2f84f9" d="M2771 4659v-31l40-27v31zM2771 4628l-13-9l40-26l13 8z"/>
<path fill="#2d8bf4" d="M2732 4685v-32l39-26v32zM2732 4653l-14-9l40-26l13 9z"/>
<path fill="#2d8bf4" d="M2692 4711v-33l40-26v33zM2692 4678l-13-9l39-26l14 9z"/>
<path fill="#2b92ee" d="M2652 4737v-33l40-26v33zM2652 4704l-13-9l40-26l13 9z"/>
<path fill="#2799e9" d="M2613 4764v-36l39-26v35zM2613 4728l-13-9l39-26l13 9z"/>
<path fill="#2799e9" d="M2573 4790v-38l40-26v38zM2573 4752l-13-9l40-26l13 9z"/>
<path fill="#239fe6" d="M2534 4816v-38l39-26v38zM2534 4778l-14-9l40-26l13 9z"/>
<path fill="#239fe6" d="M2494 4842v-39l40-27v40zM2494 4803l-13-9l39-26l14 8z"/>
<path fill="#1babdd" d="M2454 4869v-44l40-27v44zM2454 4825l-13-9l40-26l13 8z"/>
<path fill="#1babdd" d="M2415 4895v-45l39-26v45zM2415 4850l-13-8l39-27l13 9z"/>
<path fill="#11b0d7" d="M2375 4921v-47l40-26v47zM2375 4874l-13-8l40-27l13 9z"/>
<path fill="#08b5cf" d="M2336 4947v-47l39-27v48zM2336 4900l-14-9l40-26l13 8z"/>
<path fill="#01b9c7" d="M2296 4974v-50l40-27v50zM2296 4924l-13-9l39-26l14 8z"/>
<path fill="#0abcbf" d="M2256 5000v-52l40-26v52zM2256 4948l-13-8l40-27l13 9z"/>
<path fill="#17bfb6" d="M2217 5026v-54l39-26v54zM2217 4972l-13-9l39-26l13 9z"/>
<path fill="#38c897" d="M2177 5052v-62l40-26v62zM2177 4990l-13-8l40-27l13 9z"/>
<path fill="#64cc6f" d="M2138 5079v-69l39-26v68zM2138 5010l-14-9l40-26l13 9z"/>
<path fill="#9dc943" d="M2098 5105v-76l40-26v76zM2098 5029l-13-9l39-26l14 9z"/>
<path fill="#d1bf29" d="M2058 5131v-82l40-26v82zM2058 5049l-13-8l40-27l13 9z"/>
<path fill="#f7bb3a" d="M2019 5157v-89l39-27v90zM2019 5068l-13-9l39-26l13 8z"/>
<path fill="#fec636" d="M1979 5184v-95l40-26v94zM1979 5089l-13-9l40-26l13 9z"/>
<path fill="#f9d72d" d="M1940 5210v-99l39-26v99zM1940 5111l-14-8l40-27l13 9z"/>
<path fill="#f9fb15" d="M1900 5236v-112l40-27v113zM1900 5124l-13-9l39-26l14 8z"/>
<path fill="#f9fb15" d="M1860 5122l-13-9l40-26l13 9z"/>
<path fill="#f9fb15" d="M1742 5174l-14-8l40-27l13 9z"/>
<path fill="#f9fb15" d="M1702 5199l-13-8l39-27l14 9z"/>
<path fill="#f9fb15" d="M1662 5394l-13-9v-240l13 9zM1662 5154l-13-9l40-26l13 9z"/>
<path fill="#f9fb15" d="M1623 5420l-13-9v-187l13 8zM1623 5420v-188l39-26v188zM1623 5232l-13-8l39-27l13 9z"/>
<path fill="#406cfe" d="M3148 4436v-23l40-26v23zM3148 4413l-13-9l39-26l14 9z"/>
<path fill="#3a74fe" d="M3108 4462v-24l40-27v25zM3108 4438l-13-9l40-26l13 8z"/>
<path fill="#406cfe" d="M3069 4488v-23l39-27v24zM3069 4465l-13-9l39-26l13 8z"/>
<path fill="#3a74fe" d="M3029 4515v-25l40-26v24zM3029 4490l-13-9l40-26l13 9z"/>
<path fill="#3a74fe" d="M2990 4541v-26l39-26v26zM2990 4515l-14-9l40-26l13 9z"/>
<path fill="#327cfc" d="M2950 4567v-27l40-26v27zM2950 4540l-13-9l39-26l14 9z"/>
<path fill="#327cfc" d="M2910 4593v-27l40-27v28zM2910 4566l-13-9l40-26l13 8z"/>
<path fill="#2f84f9" d="M2871 4620v-29l39-27v29zM2871 4591l-13-9l39-26l13 8z"/>
<path fill="#327cfc" d="M2831 4646v-29l40-26v29zM2831 4617l-13-8l40-27l13 9z"/>
<path fill="#2f84f9" d="M2792 4672v-31l39-26v31zM2792 4641l-14-8l40-27l13 9z"/>
<path fill="#2d8bf4" d="M2752 4698v-31l40-26v31zM2752 4667l-13-9l39-26l14 9z"/>
<path fill="#2b92ee" d="M2712 4725v-34l40-26v33zM2712 4691l-13-8l40-27l13 9z"/>
<path fill="#2b92ee" d="M2673 4751v-35l39-26v35zM2673 4716l-13-9l39-26l13 9z"/>
<path fill="#2799e9" d="M2633 4777v-37l40-26v37zM2633 4740l-13-9l40-26l13 9z"/>
<path fill="#239fe6" d="M2594 4803v-38l39-27v39zM2594 4765l-14-9l40-26l13 8z"/>
<path fill="#1fa5e2" d="M2554 4830v-41l40-26v40zM2554 4789l-13-9l39-26l14 9z"/>
<path fill="#1fa5e2" d="M2514 4856v-42l40-26v42zM2514 4814l-13-9l40-26l13 9z"/>
<path fill="#11b0d7" d="M2475 4882v-45l39-26v45zM2475 4837l-13-8l39-27l13 9z"/>
<path fill="#11b0d7" d="M2435 4908v-46l40-26v46zM2435 4862l-13-8l40-27l13 9z"/>
<path fill="#08b5cf" d="M2396 4935v-48l39-26v47zM2396 4887l-14-8l40-27l13 9z"/>
<path fill="#01b9c7" d="M2356 4961v-50l40-26v50zM2356 4911l-13-9l39-26l14 9z"/>
<path fill="#01b9c7" d="M2316 4987v-51l40-26v51zM2316 4936l-13-9l40-26l13 9z"/>
<path fill="#17bfb6" d="M2277 5013v-54l39-26v54zM2277 4959l-13-9l39-26l13 9z"/>
<path fill="#26c2ad" d="M2237 5040v-58l40-26v57zM2237 4982l-13-9l40-26l13 9z"/>
<path fill="#42ca8b" d="M2198 5066v-63l39-26v63zM2198 5003l-14-9l40-26l13 9z"/>
<path fill="#76cc60" d="M2158 5092v-71l40-26v71zM2158 5021l-13-8l39-27l14 9z"/>
<path fill="#b0c636" d="M2118 5118v-78l40-26v78zM2118 5040l-13-8l40-27l13 9z"/>
<path fill="#e0bc2a" d="M2079 5145v-86l39-26v85zM2079 5059l-13-9l39-26l13 9z"/>
<path fill="#f7bb3a" d="M2039 5171v-90l40-26v90zM2039 5081l-13-9l40-26l13 9z"/>
<path fill="#fcce31" d="M2000 5197v-95l39-27v96zM2000 5102l-14-9l40-26l13 8z"/>
<path fill="#f9d72d" d="M1960 5223v-99l40-26v99zM1960 5124l-13-9l39-26l14 9z"/>
<path fill="#f9fb15" d="M1920 5250v-115l40-26v114zM1920 5135l-13-8l40-27l13 9z"/>
<path fill="#f9fb15" d="M1881 5276v-155l39-26v155zM1881 5121l-13-8l39-27l13 9z"/>
<path fill="#f9fb15" d="M1841 5302l-13-9v-178l13 9zM1841 5302v-178l40-26v178zM1841 5124l-13-9l40-26l13 9z"/>
<path fill="#f9fb15" d="M1802 5328v-171l39-27v172zM1802 5157l-14-9l40-26l13 8z"/>
<path fill="#f9fb15" d="M1762 5355v-176l40-26v175zM1762 5179l-13-9l39-26l14 9z"/>
<path fill="#f9fb15" d="M1683 5407v-258l39-27v259zM1683 5149l-13-9l39-26l13 8z"/>
<path fill="#f9fb15" d="M1643 5433l-13-8v-161l13 9zM1643 5433v-160l40-26v160zM1643 5273l-13-9l40-26l13 9z"/>
<path fill="#4464fd" d="M3169 4450l-13-9v-22l13 9zM3169 4450v-22l39-26v21zM3169 4428l-13-9l39-26l13 9z"/>
<path fill="#4464fd" d="M3129 4476v-20l40-27v21zM3129 4456l-13-9l40-26l13 8z"/>
<path fill="#406cfe" d="M3090 4502v-22l39-26v22zM3090 4480l-14-8l40-27l13 9z"/>
<path fill="#3a74fe" d="M3050 4528v-24l40-26v24zM3050 4504l-13-9l39-26l14 9z"/>
<path fill="#406cfe" d="M3010 4555v-24l40-27v24zM3010 4531l-13-9l40-26l13 8z"/>
<path fill="#3a74fe" d="M2971 4581v-24l39-27v25zM2971 4557l-13-9l39-26l13 8z"/>
<path fill="#3a74fe" d="M2931 4607v-25l40-27v26zM2931 4582l-13-9l40-26l13 8z"/>
<path fill="#327cfc" d="M2892 4633v-26l39-26v26zM2892 4607l-14-9l40-26l13 9z"/>
<path fill="#327cfc" d="M2852 4660v-28l40-26v27zM2852 4632l-13-8l39-27l14 9z"/>
<path fill="#327cfc" d="M2812 4686v-29l40-26v29zM2812 4657l-13-8l40-27l13 9z"/>
<path fill="#2d8bf4" d="M2773 4712l-13-9v-31l13 9zM2773 4712v-31l39-26v31zM2773 4681l-13-9l39-26l13 9z"/>
<path fill="#2f84f9" d="M2733 4738v-30l40-26v30zM2733 4708l-13-8l40-27l13 9z"/>
<path fill="#2d8bf4" d="M2694 4765v-33l39-27v33zM2694 4732l-14-9l40-26l13 8z"/>
<path fill="#2b92ee" d="M2654 4791v-35l40-26v35zM2654 4756l-13-9l39-26l14 9z"/>
<path fill="#2799e9" d="M2614 4817v-36l40-26v36zM2614 4781l-13-9l40-26l13 9z"/>
<path fill="#2799e9" d="M2575 4843v-37l39-26v37zM2575 4806l-13-8l39-27l13 9z"/>
<path fill="#239fe6" d="M2535 4870v-38l40-27v38zM2535 4832l-13-9l40-26l13 8z"/>
<path fill="#1fa5e2" d="M2496 4896v-42l39-26v42zM2496 4854l-14-9l40-26l13 9z"/>
<path fill="#1fa5e2" d="M2456 4922v-42l40-26v42zM2456 4880l-13-9l39-26l14 9z"/>
<path fill="#1babdd" d="M2416 4948v-43l40-26v43zM2416 4905l-13-9l40-26l13 9z"/>
<path fill="#11b0d7" d="M2377 4975v-46l39-27v46zM2377 4929l-13-9l39-26l13 8z"/>
<path fill="#08b5cf" d="M2337 5001v-49l40-26v49zM2337 4952l-13-9l40-26l13 9z"/>
<path fill="#01b9c7" d="M2298 5027v-50l39-27v51zM2298 4977l-14-9l40-26l13 8z"/>
<path fill="#0abcbf" d="M2258 5053v-53l40-26v53zM2258 5000l-13-9l39-26l14 9z"/>
<path fill="#2fc5a2" d="M2218 5080v-59l40-26v58zM2218 5021l-13-9l40-26l13 9z"/>
<path fill="#52cc7e" d="M2179 5106v-66l39-27v67zM2179 5040l-13-9l39-26l13 8z"/>
<path fill="#8acb51" d="M2139 5132v-73l40-26v73zM2139 5059l-13-9l40-26l13 9z"/>
<path fill="#b0c636" d="M2100 5158v-78l39-26v78zM2100 5080l-14-9l40-26l13 9z"/>
<path fill="#e0bc2a" d="M2060 5185v-84l40-26v83zM2060 5101l-13-9l39-26l14 9z"/>
<path fill="#febe3c" d="M2020 5211v-90l40-27v91zM2020 5121l-13-9l40-26l13 8z"/>
<path fill="#fec636" d="M1981 5237v-94l39-26v94zM1981 5143l-13-8l39-27l13 9z"/>
<path fill="#f6f21e" d="M1941 5263v-106l40-26v106zM1941 5157l-13-9l40-26l13 9z"/>
<path fill="#f9fb15" d="M1902 5290l-14-9v-134l14 9zM1902 5290v-134l39-26v133zM1902 5156l-14-9l40-26l13 9z"/>
<path fill="#f6df29" d="M1862 5316v-100l40-26v100zM1862 5216l-13-9l39-26l14 9z"/>
<path fill="#f9fb15" d="M1822 5342l-13-9v-194l13 8zM1822 5342v-195l40-26v195zM1822 5147l-13-8l40-27l13 9z"/>
<path fill="#f9fb15" d="M1743 5395v-213l40-27v213zM1743 5182l-13-9l40-26l13 8z"/>
<path fill="#f9fb15" d="M1664 5447l-13-8v-330l13 9zM1664 5447v-329l40-27v330zM1664 5118l-13-9l39-26l14 8z"/>
<path fill="#4464fd" d="M3189 4463v-20l40-27v21zM3189 4443l-13-9l40-26l13 8z"/>
<path fill="#4464fd" d="M3150 4489v-20l39-26v20zM3150 4469l-14-9l40-26l13 9z"/>
<path fill="#406cfe" d="M3110 4516v-23l40-26v22zM3110 4493l-13-9l39-26l14 9z"/>
<path fill="#3a74fe" d="M3070 4542v-24l40-27v25zM3070 4518l-13-9l40-26l13 8z"/>
<path fill="#3a74fe" d="M3031 4568v-24l39-27v25zM3031 4544l-13-9l39-26l13 8z"/>
<path fill="#3a74fe" d="M2991 4594v-25l40-27v26zM2991 4569l-13-9l40-26l13 8z"/>
<path fill="#3a74fe" d="M2952 4621v-26l39-27v26zM2952 4595l-14-9l40-26l13 8z"/>
<path fill="#327cfc" d="M2912 4647v-27l40-26v27zM2912 4620l-13-9l39-26l14 9z"/>
<path fill="#327cfc" d="M2872 4673v-27l40-26v27zM2872 4646l-13-8l40-27l13 9z"/>
<path fill="#2f84f9" d="M2833 4699v-28l39-27v29zM2833 4671l-13-9l39-26l13 8z"/>
<path fill="#327cfc" d="M2793 4726v-29l40-26v28zM2793 4697l-13-9l40-26l13 9z"/>
<path fill="#2d8bf4" d="M2754 4752v-32l39-27v33zM2754 4720l-14-9l40-26l13 8z"/>
<path fill="#2b92ee" d="M2714 4778v-33l40-27v34zM2714 4745l-13-9l39-26l14 8z"/>
<path fill="#2b92ee" d="M2674 4804v-34l40-26v34zM2674 4770l-13-8l40-27l13 9z"/>
<path fill="#2799e9" d="M2635 4831v-36l39-27v36zM2635 4795l-13-9l39-26l13 8z"/>
<path fill="#2799e9" d="M2595 4857v-37l40-26v37zM2595 4820l-13-9l40-26l13 9z"/>
<path fill="#239fe6" d="M2556 4883v-38l39-27v39zM2556 4845l-14-9l40-26l13 8z"/>
<path fill="#1fa5e2" d="M2516 4909v-40l40-26v40zM2516 4869l-13-9l39-26l14 9z"/>
<path fill="#1fa5e2" d="M2476 4936v-42l40-26v41zM2476 4894l-13-8l40-27l13 9z"/>
<path fill="#1babdd" d="M2437 4962v-44l39-27v45zM2437 4918l-13-9l39-26l13 8z"/>
<path fill="#11b0d7" d="M2397 4988v-46l40-26v46zM2397 4942l-13-9l40-26l13 9z"/>
<path fill="#08b5cf" d="M2358 5014v-48l39-26v48zM2358 4966l-14-9l40-26l13 9z"/>
<path fill="#0abcbf" d="M2318 5041v-52l40-26v51zM2318 4989l-13-9l39-26l14 9z"/>
<path fill="#0abcbf" d="M2278 5067v-53l40-27v54zM2278 5014l-13-9l40-26l13 8z"/>
<path fill="#2fc5a2" d="M2239 5093v-60l39-26v60zM2239 5033l-13-9l39-26l13 9z"/>
<path fill="#52cc7e" d="M2199 5119v-66l40-26v66zM2199 5053l-13-8l40-27l13 9z"/>
<path fill="#8acb51" d="M2160 5146v-74l39-27v74zM2160 5072l-14-9l40-26l13 8z"/>
<path fill="#b0c636" d="M2120 5172v-78l40-27v79zM2120 5094l-13-9l39-26l14 8z"/>
<path fill="#e0bc2a" d="M2080 5198v-85l40-26v85zM2080 5113l-13-9l40-26l13 9z"/>
<path fill="#f7bb3a" d="M2041 5224v-89l39-27v90zM2041 5135l-13-9l39-26l13 8z"/>
<path fill="#fec636" d="M2001 5251v-94l40-27v94zM2001 5157l-13-9l40-26l13 8z"/>
<path fill="#f9fb15" d="M1962 5277l-14-9v-108l14 9zM1962 5277v-108l39-26v108zM1962 5169l-14-9l40-26l13 9z"/>
<path fill="#fcce31" d="M1922 5207l-13-8l39-27l14 9z"/>
<path fill="#f9fb15" d="M1843 5356v-194l39-26v194zM1843 5162l-13-9l39-26l13 9z"/>
<path fill="#f9fb15" d="M1684 5461l-13-9v-271l13 9zM1684 5461v-271l40-27v272zM1684 5190l-13-9l40-26l13 8z"/>
<path fill="#406cfe" d="M3210 4477v-24l39-27v24zM3210 4453l-14-9l40-26l13 8z"/>
<path fill="#406cfe" d="M3170 4503v-24l40-26v24zM3170 4479l-13-8l39-27l14 9z"/>
<path fill="#3a74fe" d="M3130 4529v-24l40-26v24zM3130 4505l-13-9l40-26l13 9z"/>
<path fill="#3a74fe" d="M3091 4555v-25l39-26v25zM3091 4530l-13-9l39-26l13 9z"/>
<path fill="#3a74fe" d="M3051 4582v-27l40-26v26zM3051 4555l-13-8l40-27l13 9z"/>
<path fill="#327cfc" d="M3012 4608v-27l39-26v27zM3012 4581l-14-8l40-27l13 9z"/>
<path fill="#327cfc" d="M2972 4634v-28l40-26v28zM2972 4606l-13-8l39-27l14 9z"/>
<path fill="#327cfc" d="M2932 4660v-28l40-26v28zM2932 4632l-13-8l40-27l13 9z"/>
<path fill="#327cfc" d="M2893 4687v-29l39-26v28zM2893 4658l-13-8l39-27l13 9z"/>
<path fill="#2f84f9" d="M2853 4713v-31l40-26v31zM2853 4682l-13-8l40-27l13 9z"/>
<path fill="#2f84f9" d="M2814 4739v-30l39-27v31zM2814 4709l-14-9l40-26l13 8z"/>
<path fill="#2d8bf4" d="M2774 4765v-32l40-27v33zM2774 4733l-13-9l39-26l14 8z"/>
<path fill="#2b92ee" d="M2734 4792v-34l40-27v34zM2734 4758l-13-9l40-26l13 8z"/>
<path fill="#2799e9" d="M2695 4818v-36l39-26v36zM2695 4782l-13-8l39-27l13 9z"/>
<path fill="#239fe6" d="M2655 4844v-38l40-26v38zM2655 4806l-13-9l40-26l13 9z"/>
<path fill="#1fa5e2" d="M2616 4870v-40l39-26v40zM2616 4830l-14-9l40-26l13 9z"/>
<path fill="#1fa5e2" d="M2576 4897v-41l40-26v40zM2576 4856l-13-9l39-26l14 9z"/>
<path fill="#1babdd" d="M2536 4923v-43l40-26v43zM2536 4880l-13-9l40-26l13 9z"/>
<path fill="#11b0d7" d="M2497 4949v-45l39-27v46zM2497 4904l-13-9l39-26l13 8z"/>
<path fill="#08b5cf" d="M2457 4975v-47l40-27v48zM2457 4928l-13-9l40-26l13 8z"/>
<path fill="#01b9c7" d="M2418 5002v-50l39-26v49zM2418 4952l-14-9l40-26l13 9z"/>
<path fill="#0abcbf" d="M2378 5028v-52l40-26v52zM2378 4976l-13-8l39-27l14 9z"/>
<path fill="#0abcbf" d="M2338 5054v-53l40-27v54zM2338 5001l-13-9l40-26l13 8z"/>
<path fill="#26c2ad" d="M2299 5080v-56l39-27v57zM2299 5024l-13-9l39-26l13 8z"/>
<path fill="#42ca8b" d="M2259 5107v-64l40-26v63zM2259 5043l-13-8l40-27l13 9z"/>
<path fill="#76cc60" d="M2220 5133v-70l39-27v71zM2220 5063l-14-9l40-26l13 8z"/>
<path fill="#b0c636" d="M2180 5159v-77l40-26v77zM2180 5082l-13-9l39-26l14 9z"/>
<path fill="#e0bc2a" d="M2140 5186v-86l40-26v85zM2140 5100l-13-9l40-26l13 9z"/>
<path fill="#febe3c" d="M2101 5212v-92l39-26v92zM2101 5120l-13-8l39-27l13 9z"/>
<path fill="#fcce31" d="M2061 5238v-95l40-27v96zM2061 5143l-13-9l40-26l13 8z"/>
<path fill="#f6df29" d="M2022 5264v-100l39-27v101zM2022 5164l-14-9l40-26l13 8z"/>
<path fill="#f9fb15" d="M1982 5291v-114l40-27v114zM1982 5177l-13-9l39-26l14 8z"/>
<path fill="#f9fb15" d="M1942 5317v-117l40-26v117zM1942 5200l-13-9l40-26l13 9z"/>
<path fill="#f9fb15" d="M1903 5343l-13-9v-135l13 9z"/>
<path fill="#f9fb15" d="M1863 5239l-13-8l40-27l13 9z"/>
<path fill="#f9fb15" d="M1824 5396v-224l39-26v223zM1824 5172l-14-9l40-26l13 9z"/>
<path fill="#f9fb15" d="M1784 5422l-13-9v-232l13 9zM1784 5422v-232l40-26v232zM1784 5190l-13-9l39-26l14 9z"/>
<path fill="#f9fb15" d="M1744 5448v-183l40-26v183zM1744 5265l-13-8l40-27l13 9z"/>
<path fill="#f9fb15" d="M1705 5474l-13-8v-221l13 9zM1705 5474v-220l39-26v220zM1705 5254l-13-9l39-26l13 9z"/>
<path fill="#4464fd" d="M3230 4490v-21l40-26v21zM3230 4469l-13-9l39-26l14 9z"/>
<path fill="#4464fd" d="M3190 4516v-21l40-26v21zM3190 4495l-13-8l40-27l13 9z"/>
<path fill="#406cfe" d="M3151 4543v-22l39-26v21zM3151 4521l-13-9l39-26l13 9z"/>
<path fill="#406cfe" d="M3111 4569v-22l40-27v23zM3111 4547l-13-9l40-26l13 8z"/>
<path fill="#406cfe" d="M3072 4595v-23l39-27v24zM3072 4572l-14-9l40-26l13 8z"/>
<path fill="#3a74fe" d="M3032 4621v-24l40-26v24zM3032 4597l-13-9l39-26l14 9z"/>
<path fill="#3a74fe" d="M2992 4648v-26l40-27v26zM2992 4622l-13-9l40-26l13 8z"/>
<path fill="#327cfc" d="M2953 4674v-27l39-26v27zM2953 4647l-13-9l39-26l13 9z"/>
<path fill="#327cfc" d="M2913 4700v-27l40-26v27zM2913 4673l-13-8l40-27l13 9z"/>
<path fill="#2f84f9" d="M2874 4726v-28l39-27v29zM2874 4698l-14-9l40-26l13 8z"/>
<path fill="#2f84f9" d="M2834 4753v-29l40-26v28zM2834 4724l-13-9l39-26l14 9z"/>
<path fill="#2f84f9" d="M2794 4779v-30l40-27v31zM2794 4749l-13-9l40-26l13 8z"/>
<path fill="#2d8bf4" d="M2755 4805v-31l39-26v31zM2755 4774l-13-9l39-26l13 9z"/>
<path fill="#2d8bf4" d="M2715 4831v-32l40-26v32zM2715 4799l-13-9l40-26l13 9z"/>
<path fill="#2b92ee" d="M2676 4858v-36l39-26v35zM2676 4822l-14-8l40-27l13 9z"/>
<path fill="#2799e9" d="M2636 4884v-37l40-26v37zM2636 4847l-13-9l39-26l14 9z"/>
<path fill="#2799e9" d="M2596 4910v-37l40-27v38zM2596 4873l-13-9l40-26l13 8z"/>
<path fill="#1fa5e2" d="M2557 4936v-40l39-26v40zM2557 4896l-13-9l39-26l13 9z"/>
<path fill="#1fa5e2" d="M2517 4963v-42l40-26v41zM2517 4921l-13-9l40-26l13 9z"/>
<path fill="#1babdd" d="M2478 4989v-44l39-26v44zM2478 4945l-14-9l40-26l13 9z"/>
<path fill="#11b0d7" d="M2438 5015v-45l40-26v45zM2438 4970l-13-9l39-26l14 9z"/>
<path fill="#11b0d7" d="M2398 5042v-46l40-26v45zM2398 4996l-13-9l40-26l13 9z"/>
<path fill="#01b9c7" d="M2359 5068v-51l39-26v51zM2359 5017l-13-9l39-26l13 9z"/>
<path fill="#0abcbf" d="M2319 5094v-52l40-26v52zM2319 5042l-13-9l40-26l13 9z"/>
<path fill="#2fc5a2" d="M2280 5062l-14-9l40-26l13 8z"/>
<path fill="#42ca8b" d="M2240 5082l-13-9l39-26l14 9z"/>
<path fill="#76cc60" d="M2200 5102l-13-8l40-27l13 9z"/>
<path fill="#b0c636" d="M2161 5121l-13-9l39-26l13 9z"/>
<path fill="#d1bf29" d="M2121 5143l-13-9l40-26l13 9z"/>
<path fill="#ecba34" d="M2082 5164l-14-9l40-26l13 9z"/>
<path fill="#febe3c" d="M2042 5186l-13-9l39-26l14 8z"/>
<path fill="#f6f21e" d="M2002 5199l-13-9l40-26l13 9z"/>
<path fill="#f9fb15" d="M1963 5330l-13-8v-116l13 9zM1963 5330v-115l39-26v115zM1963 5215l-13-9l39-26l13 9z"/>
<path fill="#f9fb15" d="M1844 5409v-204l40-26v204zM1844 5205l-13-9l39-26l14 9z"/>
<path fill="#f9fb15" d="M1804 5435l-13-8v-209l13 9zM1804 5435v-208l40-26v208zM1804 5227l-13-9l40-26l13 9z"/>
<path fill="#f9fb15" d="M1765 5462v-182l39-26v181zM1765 5280l-13-9l39-26l13 9z"/>
<path fill="#f9fb15" d="M1725 5488l-13-9v-300l13 9zM1725 5488v-300l40-27v301zM1725 5188l-13-9l40-26l13 8z"/>
<path fill="#406cfe" d="M3251 4504v-23l39-26v23zM3251 4481l-13-9l39-26l13 9z"/>
<path fill="#3a74fe" d="M3211 4530v-26l40-26v26zM3211 4504l-13-8l40-27l13 9z"/>
<path fill="#3a74fe" d="M3172 4556v-25l39-26v25zM3172 4531l-14-9l40-26l13 9z"/>
<path fill="#3a74fe" d="M3132 4583v-26l40-26v25zM3132 4557l-13-9l39-26l14 9z"/>
<path fill="#2f84f9" d="M3092 4609v-29l40-26v29zM3092 4580l-13-9l40-26l13 9z"/>
<path fill="#2f84f9" d="M3053 4635v-29l39-27v30zM3053 4606l-13-9l39-26l13 8z"/>
<path fill="#2f84f9" d="M3013 4661v-29l40-26v29zM3013 4632l-13-9l40-26l13 9z"/>
<path fill="#2f84f9" d="M2974 4688v-30l39-26v29zM2974 4658l-14-9l40-26l13 9z"/>
<path fill="#2d8bf4" d="M2934 4714v-32l40-26v32zM2934 4682l-13-9l39-26l14 9z"/>
<path fill="#2d8bf4" d="M2894 4740v-32l40-26v32zM2894 4708l-13-9l40-26l13 9z"/>
<path fill="#2b92ee" d="M2855 4766v-33l39-27v34zM2855 4733l-13-9l39-26l13 8z"/>
<path fill="#2b92ee" d="M2815 4793v-35l40-26v34zM2815 4758l-13-9l40-26l13 9z"/>
<path fill="#2799e9" d="M2776 4819v-35l39-27v36zM2776 4784l-14-9l40-26l13 8z"/>
<path fill="#2799e9" d="M2736 4845v-37l40-26v37zM2736 4808l-13-9l39-26l14 9z"/>
<path fill="#1fa5e2" d="M2696 4872v-41l40-26v40zM2696 4831l-13-9l40-26l13 9z"/>
<path fill="#1fa5e2" d="M2657 4898v-42l39-26v42zM2657 4856l-13-9l39-26l13 9z"/>
<path fill="#1babdd" d="M2617 4924v-44l40-26v44zM2617 4880l-13-8l40-27l13 9z"/>
<path fill="#08b5cf" d="M2578 4950v-47l39-26v47zM2578 4903l-14-9l40-26l13 9z"/>
<path fill="#08b5cf" d="M2538 4977v-49l40-26v48zM2538 4928l-13-8l39-27l14 9z"/>
<path fill="#01b9c7" d="M2498 5003v-49l40-27v50zM2498 4954l-13-9l40-26l13 8z"/>
<path fill="#01b9c7" d="M2459 5029v-51l39-26v51zM2459 4978l-13-9l39-26l13 9z"/>
<path fill="#17bfb6" d="M2419 5055v-54l40-27v55zM2419 5001l-13-9l40-26l13 8z"/>
<path fill="#26c2ad" d="M2380 5082v-58l39-26v57zM2380 5024l-14-9l40-26l13 9z"/>
<path fill="#2fc5a2" d="M2340 5108v-60l40-26v60zM2340 5048l-13-9l39-26l14 9z"/>
<path fill="#64cc6f" d="M2300 5134v-69l40-26v69zM2300 5065l-13-8l40-27l13 9z"/>
<path fill="#8acb51" d="M2261 5160v-74l39-26v74zM2261 5086l-13-9l39-26l13 9z"/>
<path fill="#d1bf29" d="M2221 5187v-84l40-26v83zM2221 5103l-13-8l40-27l13 9z"/>
<path fill="#f7bb3a" d="M2182 5213v-89l39-26v89zM2182 5124l-14-9l40-26l13 9z"/>
<path fill="#fcce31" d="M2142 5239v-97l40-26v97zM2142 5142l-13-8l39-27l14 9z"/>
<path fill="#f6df29" d="M2102 5265v-101l40-26v101zM2102 5164l-13-9l40-26l13 9z"/>
<path fill="#f9fb15" d="M2063 5292v-107l39-26v106zM2063 5185l-13-9l39-26l13 9z"/>
<path fill="#f9fb15" d="M2023 5318v-121l40-27v122zM2023 5197l-13-9l40-26l13 8z"/>
<path fill="#f9fb15" d="M1984 5344v-121l39-27v122zM1984 5223l-14-9l40-26l13 8z"/>
<path fill="#f9fb15" d="M1944 5370v-139l40-26v139zM1944 5231l-13-8l39-27l14 9z"/>
<path fill="#f9fb15" d="M1904 5397l-13-9v-196l13 9zM1904 5397v-196l40-27v196zM1904 5201l-13-9l40-26l13 8z"/>
<path fill="#f9fb15" d="M1865 5423v-166l39-26v166zM1865 5257l-13-9l39-26l13 9z"/>
<path fill="#f9fb15" d="M1825 5449l-13-9v-227l13 9zM1825 5449v-227l40-26v227zM1825 5222l-13-9l40-26l13 9z"/>
<path fill="#f9fb15" d="M1786 5475l-14-8v-206l14 9zM1786 5475v-205l39-27v206zM1786 5270l-14-9l40-26l13 8z"/>
<path fill="#f9fb15" d="M1746 5502l-13-9v-161l13 9zM1746 5502v-161l40-27v161zM1746 5341l-13-9l39-26l14 8z"/>
<path fill="#4464fd" d="M3271 4517v-20l40-26v20zM3271 4497l-13-9l40-26l13 9z"/>
<path fill="#406cfe" d="M3232 4544v-22l39-26v21zM3232 4522l-14-9l40-26l13 9z"/>
<path fill="#406cfe" d="M3192 4570v-22l40-27v23zM3192 4548l-13-9l39-26l14 8z"/>
<path fill="#406cfe" d="M3152 4596v-23l40-26v23zM3152 4573l-13-9l40-26l13 9z"/>
<path fill="#406cfe" d="M3113 4622v-23l39-26v23zM3113 4599l-13-9l39-26l13 9z"/>
<path fill="#406cfe" d="M3073 4649v-24l40-27v24zM3073 4625l-13-9l40-26l13 8z"/>
<path fill="#3a74fe" d="M3034 4675v-26l39-26v26zM3034 4649l-14-9l40-26l13 9z"/>
<path fill="#327cfc" d="M2994 4701v-26l40-27v27zM2994 4675l-13-9l39-26l14 8z"/>
<path fill="#327cfc" d="M2954 4728v-28l40-26v27zM2954 4700l-13-9l40-26l13 9z"/>
<path fill="#327cfc" d="M2915 4754v-28l39-26v28zM2915 4726l-13-8l39-27l13 9z"/>
<path fill="#2f84f9" d="M2875 4780v-29l40-26v29zM2875 4751l-13-9l40-26l13 9z"/>
<path fill="#2f84f9" d="M2836 4806v-30l39-26v30zM2836 4776l-14-9l40-26l13 9z"/>
<path fill="#2d8bf4" d="M2796 4833v-32l40-26v31zM2796 4801l-13-9l39-26l14 9z"/>
<path fill="#2b92ee" d="M2756 4859v-35l40-26v35zM2756 4824l-13-8l40-27l13 9z"/>
<path fill="#2799e9" d="M2717 4885v-36l39-26v36zM2717 4849l-13-9l39-26l13 9z"/>
<path fill="#2799e9" d="M2677 4911v-37l40-26v37zM2677 4874l-13-8l40-27l13 9z"/>
<path fill="#239fe6" d="M2638 4938v-40l39-26v39zM2638 4898l-14-8l40-27l13 9z"/>
<path fill="#1fa5e2" d="M2598 4964v-41l40-26v41zM2598 4923l-13-9l39-26l14 9z"/>
<path fill="#1fa5e2" d="M2558 4990v-42l40-26v42zM2558 4948l-13-8l40-27l13 9z"/>
<path fill="#1babdd" d="M2519 5016v-43l39-26v43zM2519 4973l-13-8l39-27l13 9z"/>
<path fill="#11b0d7" d="M2479 5043v-46l40-26v45zM2479 4997l-13-9l40-26l13 9z"/>
<path fill="#08b5cf" d="M2440 5069v-48l39-27v49zM2440 5021l-14-9l40-26l13 8z"/>
<path fill="#01b9c7" d="M2400 5095v-51l40-26v51zM2400 5044l-13-9l39-26l14 9z"/>
<path fill="#01b9c7" d="M2360 5121v-51l40-26v51zM2360 5070l-13-9l40-26l13 9z"/>
<path fill="#2fc5a2" d="M2321 5148v-59l39-27v59zM2321 5089l-13-9l39-26l13 8z"/>
<path fill="#52cc7e" d="M2281 5174v-66l40-26v66zM2281 5108l-13-9l40-26l13 9z"/>
<path fill="#8acb51" d="M2242 5200v-73l39-26v73zM2242 5127l-14-8l40-27l13 9z"/>
<path fill="#c1c32d" d="M2202 5226v-79l40-26v79zM2202 5147l-13-9l39-26l14 9z"/>
<path fill="#e0bc2a" d="M2162 5253v-86l40-26v85zM2162 5167l-13-9l40-26l13 9z"/>
<path fill="#f7bb3a" d="M2123 5279v-89l39-26v89zM2123 5190l-13-8l39-27l13 9z"/>
<path fill="#febe3c" d="M2083 5305v-92l40-26v92zM2083 5213l-13-9l40-26l13 9z"/>
<path fill="#f9fb15" d="M2044 5331v-107l39-26v107zM2044 5224l-14-8l40-27l13 9z"/>
<path fill="#f9fb15" d="M2004 5358l-13-9v-122l13 9zM2004 5358v-122l40-27v122zM2004 5236l-13-9l39-26l14 8z"/>
<path fill="#f9fb15" d="M1964 5384v-119l40-27v120zM1964 5265l-13-9l40-26l13 8z"/>
<path fill="#f9fb15" d="M1925 5410v-156l39-26v156zM1925 5254l-13-8l39-27l13 9z"/>
<path fill="#f9fb15" d="M1885 5436l-13-8v-211l13 9zM1885 5436v-210l40-26v210zM1885 5226l-13-9l40-26l13 9z"/>
<path fill="#f9fb15" d="M1846 5463v-163l39-26v162zM1846 5300l-14-9l40-26l13 9z"/>
<path fill="#f9fb15" d="M1806 5489v-162l40-27v163zM1806 5327l-13-9l39-26l14 8z"/>
<path fill="#f9fb15" d="M1766 5515l-13-9v-211l13 8zM1766 5515v-212l40-26v212zM1766 5303l-13-8l40-27l13 9z"/>
<path fill="#327cfc" d="M3345 4566v-26l39-26v26zM3345 4540l-13-9l39-26l13 9z"/>
<path fill="#3a74fe" d="M3305 4593v-26l40-27v26zM3305 4567l-13-9l40-26l13 8z"/>
<path fill="#327cfc" d="M3266 4619v-28l39-26v28zM3266 4591l-14-9l40-26l13 9z"/>
<path fill="#2f84f9" d="M3226 4645v-29l40-26v29zM3226 4616l-13-9l39-26l14 9z"/>
<path fill="#2f84f9" d="M3186 4671v-29l40-26v29zM3186 4642l-13-9l40-26l13 9z"/>
<path fill="#2f84f9" d="M3147 4698v-31l39-26v30zM3147 4667l-13-8l39-27l13 9z"/>
<path fill="#2d8bf4" d="M3107 4724v-32l40-26v32zM3107 4692l-13-8l40-27l13 9z"/>
<path fill="#2d8bf4" d="M3068 4750v-32l39-26v32zM3068 4718l-14-9l40-26l13 9z"/>
<path fill="#2b92ee" d="M3028 4776v-34l40-26v34zM3028 4742l-13-9l39-26l14 9z"/>
<path fill="#2b92ee" d="M2988 4803v-34l40-26v33zM2988 4769l-13-9l40-26l13 9z"/>
<path fill="#2b92ee" d="M2949 4829v-35l39-26v35zM2949 4794l-13-9l39-26l13 9z"/>
<path fill="#239fe6" d="M2909 4855v-39l40-26v39zM2909 4816l-13-9l40-26l13 9z"/>
<path fill="#239fe6" d="M2870 4881v-39l39-26v39zM2870 4842l-14-9l40-26l13 9z"/>
<path fill="#1babdd" d="M2830 4908v-43l40-26v42zM2830 4865l-13-9l39-26l14 9z"/>
<path fill="#1babdd" d="M2790 4934v-44l40-27v45zM2790 4890l-13-9l40-26l13 8z"/>
<path fill="#1babdd" d="M2751 4960v-44l39-27v45zM2751 4916l-13-9l39-26l13 8z"/>
<path fill="#11b0d7" d="M2711 4986v-46l40-26v46zM2711 4940l-13-9l40-26l13 9z"/>
<path fill="#08b5cf" d="M2672 5013v-49l39-26v48zM2672 4964l-14-9l40-26l13 9z"/>
<path fill="#08b5cf" d="M2632 5039v-49l40-27v50zM2632 4990l-13-9l39-26l14 8z"/>
<path fill="#01b9c7" d="M2592 5065v-50l40-26v50zM2592 5015l-13-9l40-26l13 9z"/>
<path fill="#17bfb6" d="M2553 5091v-53l39-27v54zM2553 5038l-13-9l39-26l13 8z"/>
<path fill="#26c2ad" d="M2513 5118v-57l40-26v56zM2513 5061l-13-9l40-26l13 9z"/>
<path fill="#2fc5a2" d="M2474 5144v-59l39-26v59zM2474 5085l-14-9l40-26l13 9z"/>
<path fill="#52cc7e" d="M2434 5170v-66l40-26v66zM2434 5104l-13-9l39-26l14 9z"/>
<path fill="#76cc60" d="M2394 5196v-71l40-26v71zM2394 5125l-13-8l40-27l13 9z"/>
<path fill="#c1c32d" d="M2355 5223v-80l39-26v79zM2355 5143l-13-8l39-27l13 9z"/>
<path fill="#e0bc2a" d="M2315 5249v-85l40-26v85zM2315 5164l-13-9l40-26l13 9z"/>
<path fill="#febe3c" d="M2276 5275v-90l39-27v91zM2276 5185l-14-9l40-26l13 8z"/>
<path fill="#fec636" d="M2236 5301v-94l40-27v95zM2236 5207l-13-9l39-26l14 8z"/>
<path fill="#f6df29" d="M2196 5328v-101l40-26v100zM2196 5227l-13-9l40-26l13 9z"/>
<path fill="#f6f21e" d="M2157 5354v-106l39-26v106zM2157 5248l-13-9l39-26l13 9z"/>
<path fill="#f9fb15" d="M2117 5380v-119l40-26v119zM2117 5261l-13-8l40-27l13 9z"/>
<path fill="#f9fb15" d="M2078 5406l-14-8v-128l14 9zM2078 5406v-127l39-26v127zM2078 5279l-14-9l40-26l13 9z"/>
<path fill="#f9fb15" d="M2038 5433v-120l40-27v120zM2038 5313l-13-9l39-26l14 8z"/>
<path fill="#f9fb15" d="M1998 5459l-13-9v-187l13 9zM1998 5459v-187l40-26v187zM1998 5272l-13-9l40-26l13 9z"/>
<path fill="#f9fb15" d="M1959 5485v-157l39-26v157zM1959 5328l-13-9l39-26l13 9z"/>
<path fill="#f9fb15" d="M1919 5511l-13-8v-160l13 9zM1919 5511v-159l40-26v159zM1919 5352l-13-9l40-26l13 9z"/>
<path fill="#f9fb15" d="M1880 5538v-154l39-27v154zM1880 5384l-14-9l40-26l13 8z"/>
<path fill="#f9fb15" d="M1840 5564l-13-9v-215l13 9zM1840 5564v-215l40-26v215zM1840 5349l-13-9l39-26l14 9z"/>
<path fill="#2d8bf4" d="M3385 4593v-32l39-27v33zM3385 4561l-13-9l39-26l13 8z"/>
<path fill="#2b92ee" d="M3345 4619v-34l40-26v34zM3345 4585l-13-9l40-26l13 9z"/>
<path fill="#2b92ee" d="M3306 4645v-35l39-26v35zM3306 4610l-14-9l40-26l13 9z"/>
<path fill="#2799e9" d="M3266 4672v-38l40-26v37zM3266 4634l-13-9l39-26l14 9z"/>
<path fill="#239fe6" d="M3226 4698v-39l40-26v39zM3226 4659l-13-9l40-26l13 9z"/>
<path fill="#1fa5e2" d="M3187 4724v-40l39-26v40zM3187 4684l-13-9l39-26l13 9z"/>
<path fill="#1fa5e2" d="M3147 4750v-40l40-26v40zM3147 4710l-13-9l40-26l13 9z"/>
<path fill="#1fa5e2" d="M3108 4777v-42l39-27v42zM3108 4735l-14-9l40-26l13 8z"/>
<path fill="#1babdd" d="M3068 4803v-43l40-26v43zM3068 4760l-13-9l39-26l14 9z"/>
<path fill="#1babdd" d="M3028 4829v-44l40-26v44zM3028 4785l-13-9l40-26l13 9z"/>
<path fill="#1babdd" d="M2989 4855v-44l39-26v44zM2989 4811l-13-9l39-26l13 9z"/>
<path fill="#11b0d7" d="M2949 4882v-45l40-27v45zM2949 4837l-13-9l40-26l13 8z"/>
<path fill="#08b5cf" d="M2910 4908v-48l39-26v48zM2910 4860l-14-9l40-26l13 9z"/>
<path fill="#08b5cf" d="M2870 4934v-48l40-26v48zM2870 4886l-13-8l39-27l14 9z"/>
<path fill="#08b5cf" d="M2830 4960v-49l40-26v49zM2830 4911l-13-8l40-27l13 9z"/>
<path fill="#0abcbf" d="M2791 4987v-53l39-26v52zM2791 4934l-13-9l39-26l13 9z"/>
<path fill="#0abcbf" d="M2751 5013v-53l40-26v53zM2751 4960l-13-8l40-27l13 9z"/>
<path fill="#0abcbf" d="M2712 5039v-53l39-27v54zM2712 4986l-14-9l40-26l13 8z"/>
<path fill="#26c2ad" d="M2672 5065v-57l40-26v57zM2672 5008l-13-9l39-26l14 9z"/>
<path fill="#2fc5a2" d="M2632 5092v-60l40-27v60zM2632 5032l-13-9l40-26l13 8z"/>
<path fill="#52cc7e" d="M2593 5118v-66l39-26v66zM2593 5052l-13-9l39-26l13 9z"/>
<path fill="#76cc60" d="M2553 5144v-70l40-26v70zM2553 5074l-13-8l40-27l13 9z"/>
<path fill="#8acb51" d="M2514 5170v-73l39-27v74zM2514 5097l-14-9l40-26l13 8z"/>
<path fill="#c1c32d" d="M2474 5197v-80l40-26v79zM2474 5117l-13-8l39-27l14 9z"/>
<path fill="#d1bf29" d="M2434 5223v-83l40-26v83zM2434 5140l-13-8l40-27l13 9z"/>
<path fill="#ecba34" d="M2395 5249v-86l39-27v87zM2395 5163l-13-9l39-26l13 8z"/>
<path fill="#f7bb3a" d="M2355 5275v-90l40-26v90zM2355 5185l-13-8l40-27l13 9z"/>
<path fill="#fec636" d="M2316 5302v-94l39-26v93zM2316 5208l-14-8l40-27l13 9z"/>
<path fill="#fcce31" d="M2276 5328v-96l40-26v96zM2276 5232l-13-9l39-26l14 9z"/>
<path fill="#f6df29" d="M2236 5354v-99l40-27v100zM2236 5255l-13-9l40-26l13 8z"/>
<path fill="#f9fb15" d="M2197 5380v-107l39-26v107zM2197 5273l-13-8l39-27l13 9z"/>
<path fill="#f9fb15" d="M2157 5407v-115l40-27v115zM2157 5292l-13-9l40-26l13 8z"/>
<path fill="#f9fb15" d="M2118 5433v-127l39-26v127zM2118 5306l-14-9l40-26l13 9z"/>
<path fill="#f9fb15" d="M2078 5459l-13-9v-144l13 9zM2078 5459v-144l40-26v144zM2078 5315l-13-9l39-26l14 9z"/>
<path fill="#f9fb15" d="M2038 5485v-118l40-26v118zM2038 5367l-13-9l40-26l13 9z"/>
<path fill="#f9fb15" d="M1999 5512l-13-9v-201l13 9zM1999 5512v-201l39-26v200zM1999 5311l-13-9l39-26l13 9z"/>
<path fill="#f9fb15" d="M1959 5538v-179l40-26v179zM1959 5359l-13-8l40-27l13 9z"/>
<path fill="#f9fb15" d="M1920 5564l-14-9v-179l14 9zM1920 5564v-179l39-26v179zM1920 5385l-14-9l40-26l13 9z"/>
<path fill="#f9fb15" d="M1880 5590l-13-8v-166l13 9zM1880 5590v-165l40-26v165zM1880 5425l-13-9l39-26l14 9z"/>
<path fill="#4745e9" d="M3440 4629v-11l39-26v11zM3440 4618l-14-9l40-26l13 9z"/>
<path fill="#4745e9" d="M3400 4655v-11l40-26v11zM3400 4644l-13-9l39-26l14 9z"/>
<path fill="#484df0" d="M3360 4682v-15l40-26v14zM3360 4667l-13-8l40-27l13 9z"/>
<path fill="#4754f5" d="M3321 4708v-15l39-26v15zM3321 4693l-13-9l39-26l13 9z"/>
<path fill="#4754f5" d="M3281 4734v-16l40-26v16zM3281 4718l-13-9l40-26l13 9z"/>
<path fill="#465cfa" d="M3242 4760v-17l39-26v17zM3242 4743l-14-9l40-26l13 9z"/>
<path fill="#465cfa" d="M3202 4787v-19l40-26v18zM3202 4768l-13-9l39-26l14 9z"/>
<path fill="#4464fd" d="M3162 4813v-20l40-26v20zM3162 4793l-13-9l40-26l13 9z"/>
<path fill="#4464fd" d="M3123 4839v-21l39-26v21zM3123 4818l-13-9l39-26l13 9z"/>
<path fill="#406cfe" d="M3083 4865v-23l40-26v23zM3083 4842l-13-8l40-27l13 9z"/>
<path fill="#3a74fe" d="M3044 4892v-25l39-26v24zM3044 4867l-14-9l40-26l13 9z"/>
<path fill="#327cfc" d="M3004 4918v-27l40-26v27zM3004 4891l-13-9l39-26l14 9z"/>
<path fill="#327cfc" d="M2964 4944v-28l40-26v28zM2964 4916l-13-9l40-26l13 9z"/>
<path fill="#2d8bf4" d="M2925 4970v-31l39-26v31zM2925 4939l-13-9l39-26l13 9z"/>
<path fill="#2d8bf4" d="M2885 4997v-33l40-26v32zM2885 4964l-13-8l40-27l13 9z"/>
<path fill="#2b92ee" d="M2846 5023v-35l39-26v35zM2846 4988l-14-9l40-26l13 9z"/>
<path fill="#239fe6" d="M2806 5049v-38l40-26v38zM2806 5011l-13-9l39-26l14 9z"/>
<path fill="#239fe6" d="M2766 5075v-38l40-27v39zM2766 5037l-13-9l40-26l13 8z"/>
<path fill="#239fe6" d="M2727 5102v-39l39-26v38zM2727 5063l-13-9l39-26l13 9z"/>
<path fill="#1babdd" d="M2687 5128l-13-9v-43l13 9zM2687 5128v-43l40-26v43zM2687 5085l-13-9l40-26l13 9z"/>
<path fill="#1fa5e2" d="M2648 5154v-42l39-26v42zM2648 5112l-14-8l40-27l13 9z"/>
<path fill="#11b0d7" d="M2608 5180v-44l40-27v45zM2608 5136l-13-9l39-26l14 8z"/>
<path fill="#01b9c7" d="M2568 5207v-50l40-26v49zM2568 5157l-13-9l40-26l13 9z"/>
<path fill="#01b9c7" d="M2529 5233l-13-9v-50l13 9zM2529 5233v-50l39-27v51zM2529 5183l-13-9l39-26l13 8z"/>
<path fill="#08b5cf" d="M2489 5259v-49l40-26v49zM2489 5210l-13-9l40-26l13 9z"/>
<path fill="#01b9c7" d="M2450 5285v-50l39-27v51zM2450 5235l-14-9l40-26l13 8z"/>
<path fill="#2fc5a2" d="M2410 5312v-60l40-26v59zM2410 5252l-13-9l39-26l14 9z"/>
<path fill="#42ca8b" d="M2370 5338v-64l40-27v65zM2370 5274l-13-9l40-26l13 8z"/>
<path fill="#52cc7e" d="M2331 5364v-66l39-26v66zM2331 5298l-13-8l39-27l13 9z"/>
<path fill="#64cc6f" d="M2291 5391v-70l40-26v69zM2291 5321l-13-8l40-27l13 9z"/>
<path fill="#b0c636" d="M2252 5417v-79l39-26v79zM2252 5338l-14-9l40-26l13 9z"/>
<path fill="#fec636" d="M2212 5443v-95l40-26v95zM2212 5348l-13-8l39-27l14 9z"/>
<path fill="#f6f21e" d="M2172 5469v-105l40-26v105zM2172 5364l-13-9l40-26l13 9z"/>
<path fill="#f9fb15" d="M2133 5496v-111l39-26v110zM2133 5385l-13-9l39-26l13 9z"/>
<path fill="#f9fb15" d="M2093 5522v-124l40-26v124zM2093 5398l-13-9l40-26l13 9z"/>
<path fill="#f9fb15" d="M2054 5548v-143l39-27v144zM2054 5405l-14-9l40-26l13 8z"/>
<path fill="#f9fb15" d="M2014 5574v-144l40-26v144zM2014 5430l-13-9l39-26l14 9z"/>
<path fill="#f9fb15" d="M1974 5601v-167l40-27v167zM1974 5434l-13-9l40-26l13 8z"/>
<path fill="#f9fb15" d="M1935 5627l-13-9v-266l13 9zM1935 5627v-266l39-26v266zM1935 5361l-13-9l39-26l13 9z"/>
</g>
<path d="M489.5 640.7l-9.5 6.3M412.0 589.4l-9.5 6.3M334.5 538.1l-9.5 6.3M257.0 486.9l-9.5 6.3M179.5 435.6l-9.5 6.3M102.0 384.4l-9.5 6.3M500.0 637.5l9.5 6.3M579.0 584.9l9.5 6.3M658.0 532.3l9.5 6.3M737.0 479.7l9.5 6.3M816.0 427.1l9.5 6.3M97.2 379.8l-10 -6.6M97.2 332.9l-10 -6.6M97.2 286.0l-10 -6.6" stroke="#262626" stroke-width="1" fill="none"/>
<path d="M97.2 276.5L494.2 17L889.2 279L889.2 378.2L492.4 642.6L97.2 381.2Z" fill="none" stroke="#27146b" stroke-width="5.6" stroke-linejoin="miter"/>
<path d="M489.5 1417.1l-9.5 6.3M412.0 1365.8l-9.5 6.3M334.5 1314.5l-9.5 6.3M257.0 1263.3l-9.5 6.3M179.5 1212.0l-9.5 6.3M102.0 1160.8l-9.5 6.3M500.0 1413.9l9.5 6.3M579.0 1361.3l9.5 6.3M658.0 1308.7l9.5 6.3M737.0 1256.1l9.5 6.3M816.0 1203.5l9.5 6.3M97.2 1156.2l-10 -6.6M97.2 1111.7l-10 -6.6M97.2 1067.2l-10 -6.6" stroke="#262626" stroke-width="1" fill="none"/>
<path d="M97.3 1052.9L494.2 793.4L889.2 1055.4L889.2 1154.6L492.4 1418.9L97.3 1157.7Z" fill="none" stroke="#a3231b" stroke-width="5.6" stroke-linejoin="miter"/>
<text class="tk" x="80" y="379.0" text-anchor="end">0</text>
<text class="tk" x="80" y="332.5" text-anchor="end">5</text>
<text class="tk" x="80" y="286.0" text-anchor="end">10</text>
<text class="tk" x="67.5" y="423.2" text-anchor="middle">500</text>
<text class="tk" x="144.0" y="474.2" text-anchor="middle">400</text>
<text class="tk" x="221.5" y="526.7" text-anchor="middle">300</text>
<text class="tk" x="299.0" y="578.2" text-anchor="middle">200</text>
<text class="tk" x="376.5" y="628.2" text-anchor="middle">100</text>
<text class="tk" x="467.5" y="680.7" text-anchor="middle">0</text>
<text class="tk" x="522.5" y="677.2" text-anchor="middle">0</text>
<text class="tk" x="615.0" y="624.2" text-anchor="middle">200</text>
<text class="tk" x="694.0" y="571.7" text-anchor="middle">400</text>
<text class="tk" x="773.5" y="519.2" text-anchor="middle">600</text>
<text class="tk" x="852.5" y="467.2" text-anchor="middle">800</text>
<text class="ax" transform="translate(29.4 340.0) rotate(-90)" text-anchor="middle">Occurrence / %</text>
<text class="ax" transform="translate(194 567.0) rotate(33.5)" text-anchor="middle">Time / min</text>
<text class="ax" transform="translate(760 604.0) rotate(-34.3)" text-anchor="middle">Stiffness / MPa</text>
<text class="tk" x="80" y="1155.4" text-anchor="end">0</text>
<text class="tk" x="80" y="1110.9" text-anchor="end">10</text>
<text class="tk" x="80" y="1065.9" text-anchor="end">20</text>
<text class="tk" x="67.5" y="1199.6" text-anchor="middle">500</text>
<text class="tk" x="144.0" y="1250.6" text-anchor="middle">400</text>
<text class="tk" x="221.5" y="1303.1" text-anchor="middle">300</text>
<text class="tk" x="299.0" y="1354.6" text-anchor="middle">200</text>
<text class="tk" x="376.5" y="1404.6" text-anchor="middle">100</text>
<text class="tk" x="467.5" y="1457.1" text-anchor="middle">0</text>
<text class="tk" x="522.5" y="1453.6" text-anchor="middle">0</text>
<text class="tk" x="615.0" y="1400.6" text-anchor="middle">200</text>
<text class="tk" x="694.0" y="1348.1" text-anchor="middle">400</text>
<text class="tk" x="773.5" y="1295.6" text-anchor="middle">600</text>
<text class="tk" x="852.5" y="1243.6" text-anchor="middle">800</text>
<text class="ax" transform="translate(29.4 1116.4) rotate(-90)" text-anchor="middle">Occurrence / %</text>
<text class="ax" transform="translate(194 1343.4) rotate(33.5)" text-anchor="middle">Time / min</text>
<text class="ax" transform="translate(760 1380.4) rotate(-34.3)" text-anchor="middle">Stiffness / MPa</text>
<text class="pl" x="14.8" y="33.8">(a)</text>
<text class="pl" x="14.8" y="810.2">(b)</text>
<text class="ta" x="852.2" y="45" text-anchor="middle">1 M LiPF<tspan font-size="24" dy="10.5">6</tspan><tspan dy="-10.5"> in</tspan></text>
<text class="ta" x="852.2" y="98" text-anchor="middle">EC/EMC</text>
<text class="tb" x="852.2" y="821.4" text-anchor="middle">1 M LiPF<tspan font-size="24" dy="10.5">6</tspan><tspan dy="-10.5"> in</tspan></text>
<text class="tb" x="850.5" y="874.4" text-anchor="middle">EC/EMC + VC</text>
</svg></body></html>
